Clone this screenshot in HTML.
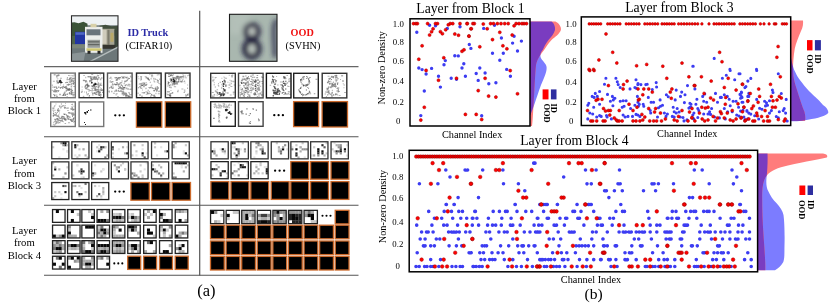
<!DOCTYPE html>
<html><head><meta charset="utf-8"><style>
html,body{margin:0;padding:0;background:#fff;}
svg{display:block;filter:blur(0.3px);}
text{font-family:"Liberation Serif","Times New Roman",serif;}
</style></head><body>
<svg width="830" height="306" viewBox="0 0 830 306">
<defs>
<filter id="bl" x="-5%" y="-5%" width="110%" height="110%"><feGaussianBlur stdDeviation="0.7"/></filter>
<filter id="bl2" x="-20%" y="-20%" width="140%" height="140%"><feGaussianBlur stdDeviation="2.4"/></filter>
</defs>
<rect width="830" height="306" fill="#fff"/>
<line x1="44" y1="66.6" x2="358.5" y2="66.6" stroke="#666" stroke-width="1.15"/>
<line x1="44" y1="136.8" x2="358.5" y2="136.8" stroke="#555" stroke-width="1.1"/>
<line x1="44" y1="205.3" x2="358.5" y2="205.3" stroke="#555" stroke-width="1.1"/>
<line x1="44" y1="275.2" x2="358.5" y2="275.2" stroke="#555" stroke-width="1.1"/>
<line x1="199.7" y1="10.8" x2="199.7" y2="275.5" stroke="#555" stroke-width="1.2"/>
<g transform="translate(71.5,15.8)">
<clipPath id="ct"><rect x="0" y="0" width="46.5" height="45.5"/></clipPath>
<g clip-path="url(#ct)"><g filter="url(#bl)">
<rect x="-3" y="-3" width="53" height="52" fill="#6c7779"/>
<rect x="-3" y="-3" width="53" height="12.5" fill="#eef2f4"/>
<path d="M-3 7 L3 6.5 L7 7.5 L12 6 L16 8 L16 21 L-3 21 Z" fill="#3a5238"/>
<path d="M28 10 L34 9 L40 10.5 L47 10 L47 20 L28 20 Z" fill="#42503e"/>
<rect x="-3" y="20" width="7" height="9" fill="#4e644c"/>
<rect x="3.5" y="16" width="10" height="12.5" fill="#2434a2"/>
<rect x="4" y="16.5" width="9" height="2.5" fill="#5068c4"/>
<rect x="-3" y="28.5" width="18" height="4" fill="#7c8678"/>
<rect x="29" y="13" width="14" height="17" fill="#a6a492"/>
<rect x="30" y="14" width="5" height="14" fill="#cfcbbb"/>
<rect x="36" y="14" width="2" height="15" fill="#7c7a6c"/>
<rect x="39" y="17" width="3" height="9" fill="#b8a868"/>
<rect x="43" y="14" width="4" height="18" fill="#3e4a3c"/>
<rect x="29" y="29" width="15" height="4" fill="#34342e"/>
<rect x="13.5" y="11" width="17.5" height="26" fill="#eceeec"/>
<rect x="15" y="13.5" width="14" height="6" fill="#6a747c"/>
<rect x="16" y="24" width="12.5" height="8" fill="#9a9e9a"/>
<rect x="16.5" y="25.5" width="11.5" height="1.1" fill="#5c605c"/>
<rect x="16.5" y="28.3" width="11.5" height="1.1" fill="#5c605c"/>
<rect x="15" y="32.5" width="15" height="2.5" fill="#d0c870"/>
<rect x="16" y="35" width="3" height="3" fill="#2a2a28"/>
<rect x="26" y="35" width="3" height="3" fill="#2a2a28"/>
<rect x="19" y="8" width="6" height="3.5" fill="#d8d0a8"/>
<path d="M0 46 L0 38 L14 36 L12 46 Z" fill="#8a9496"/>
<path d="M18 46 L 47 31" stroke="#b4bcbc" stroke-width="1.3"/>
</g></g>
<rect x="0" y="0" width="46.5" height="45.5" fill="none" stroke="#2a2a2a" stroke-width="1.1"/>
</g>
<g transform="translate(229.5,14.3)">
<clipPath id="cs"><rect x="0" y="0" width="47.5" height="47"/></clipPath>
<g clip-path="url(#cs)">
<rect x="0" y="0" width="48" height="48" fill="#a9b7af"/>
<g filter="url(#bl2)">
<rect x="0" y="0" width="20" height="20" fill="#b3c0b8"/>
<ellipse cx="22.3" cy="17.2" rx="6.2" ry="6.6" fill="none" stroke="#26243f" stroke-width="5.4"/>
<ellipse cx="22.3" cy="34.5" rx="7" ry="8" fill="none" stroke="#22203c" stroke-width="5.8"/>
<ellipse cx="22.5" cy="17" rx="2.4" ry="3.2" fill="#d2d8d2"/>
<ellipse cx="22.5" cy="35" rx="2.6" ry="4.2" fill="#c4ccc6"/>
<path d="M47 5 L 44.5 12 L 44.5 22 L 45.5 43" stroke="#2c2c4a" stroke-width="3.8" fill="none"/>
</g>
</g>
<rect x="0" y="0" width="47.5" height="47" fill="none" stroke="#1a1a1a" stroke-width="1.1"/>
</g>
<text x="127.4" y="36" font-size="10.4" font-weight="bold" fill="#2b2ba6">ID Truck</text>
<text x="125.5" y="48.8" font-size="10.3" fill="#000">(CIFAR10)</text>
<text x="290.6" y="36.4" font-size="10.2" font-weight="bold" fill="#f01010">OOD</text>
<text x="285.6" y="49" font-size="10.3" fill="#000">(SVHN)</text>
<text x="24.4" y="89.6" font-size="10.7" text-anchor="middle" fill="#000">Layer</text>
<text x="24.4" y="101.9" font-size="10.7" text-anchor="middle" fill="#000">from</text>
<text x="24.4" y="114.2" font-size="10.7" text-anchor="middle" fill="#000">Block 1</text>
<text x="24.4" y="164" font-size="10.7" text-anchor="middle" fill="#000">Layer</text>
<text x="24.4" y="176.5" font-size="10.7" text-anchor="middle" fill="#000">from</text>
<text x="24.4" y="189" font-size="10.7" text-anchor="middle" fill="#000">Block 3</text>
<text x="24.4" y="233.8" font-size="10.7" text-anchor="middle" fill="#000">Layer</text>
<text x="24.4" y="246.3" font-size="10.7" text-anchor="middle" fill="#000">from</text>
<text x="24.4" y="258.8" font-size="10.7" text-anchor="middle" fill="#000">Block 4</text>
<rect x="50" y="72.4" width="26" height="26" fill="#fff"/>
<path d="M69.15 88.64h1.2v1h-1.2zM58.23 75.01h1v0.8h-1zM69.39 92.39h1v1.2h-1zM56.46 75.08h1.2v1.2h-1.2zM65.07 94.7h1v1h-1zM64.41 91.47h0.8v0.8h-0.8zM65.63 86.34h1v0.8h-1zM67.65 89.38h0.8v1h-0.8zM56.67 81.02h1v0.8h-1zM56.15 90.61h0.8v1h-0.8zM53.89 94.88h1.2v0.8h-1.2zM67.46 84.1h1.2v0.8h-1.2zM72.8 77.96h0.8v0.8h-0.8zM64.35 86.91h1v1h-1zM67.68 89.17h1.2v1h-1.2zM72.99 83.08h0.8v1h-0.8zM69.33 84.06h1v1h-1zM63.97 94.6h0.8v1h-0.8zM58.02 74.46h1.2v0.8h-1.2zM66.44 89.87h1v1.2h-1zM68.85 92.18h1.2v1.2h-1.2zM69.97 78.35h1.2v0.8h-1.2zM55.38 86.75h1v0.8h-1zM69.6 79.23h0.8v1.2h-0.8zM73.64 78.13h1.2v0.8h-1.2zM62.88 93.69h1v1h-1zM69.34 89.69h1v0.8h-1zM66.63 93.42h1v0.8h-1zM70.45 90.98h1.2v1h-1.2zM71.29 80.97h1v1h-1zM54.5 90.7h0.8v1h-0.8zM58.12 82.1h1.2v0.8h-1.2zM70.72 83.31h1.2v1.2h-1.2zM64.07 93.01h0.8v1h-0.8zM54.66 90.35h1.2v0.8h-1.2zM70.06 81.58h1.2v1h-1.2zM69.61 81.71h1.2v1h-1.2zM72.74 93.68h0.8v1.2h-0.8zM64.82 94.99h1v1h-1zM73.67 82.57h1.2v1h-1.2zM62.19 86.2h1.2v1h-1.2zM59.87 87.7h1.2v1h-1.2zM73.41 80.49h0.8v0.8h-0.8zM58.85 81.9h1v0.8h-1zM70.73 83.17h1.2v1h-1.2zM71.18 88.46h1v1h-1zM58.72 74.75h0.8v1.2h-0.8zM55.4 90.24h1v0.8h-1zM53.75 90.98h0.8v1.2h-0.8zM68.91 88.32h1v1h-1zM72.42 80.26h1.2v0.8h-1.2zM64.41 94.2h1.2v0.8h-1.2zM66.98 88.98h0.8v0.8h-0.8zM67.43 88.84h1v1h-1zM68.31 89.09h1.2v0.8h-1.2zM56 87.34h1v1.2h-1zM65.09 87.33h1v1.2h-1zM65.29 82.06h1v1.2h-1zM56.49 75.09h0.8v1.2h-0.8zM62.73 86.24h0.8v1h-0.8zM62.43 86.59h0.8v0.8h-0.8zM55.93 90.65h1.2v1h-1.2zM56.58 74.71h0.8v1.2h-0.8zM67.79 89.36h1.2v1h-1.2zM71.03 89.53h1.2v1h-1.2zM70.48 81.39h0.8v1.2h-0.8zM66.15 90.37h0.8v0.8h-0.8zM66.73 93.56h1.2v1.2h-1.2zM67 93.41h1v1h-1zM65.71 87h0.8v1h-0.8zM68.3 84.16h1.2v1.2h-1.2zM66.71 89.67h0.8v0.8h-0.8zM52.92 90.49h0.8v1h-0.8zM63 86.04h0.8v0.8h-0.8zM69.75 78.29h1v1h-1zM70.45 89.05h1.2v1h-1.2zM61.19 86.75h1.2v1h-1.2zM64.13 92.89h0.8v1.2h-0.8zM54.26 95.39h1v1h-1zM71.25 79.21h1v1.2h-1zM59.8 86.99h1.2v1h-1.2zM56.64 74.8h0.8v0.8h-0.8zM55.18 90.7h1v1.2h-1zM65.64 90.43h1v1.2h-1zM67.63 89.2h1v0.8h-1zM72.89 82.5h1v1h-1zM68.94 91.9h1v1h-1zM73.67 82.5h0.8v1h-0.8zM70.99 93.87h0.8v0.8h-0.8zM66.34 81.78h1.2v1h-1.2zM54.11 87.3h0.8v0.8h-0.8zM70.84 89.8h0.8v1.2h-0.8zM63.8 94.48h1.2v1h-1.2zM62.19 88.18h0.8v0.8h-0.8zM62.8 94.73h1v1.2h-1zM69.38 79.05h1v1h-1zM65.13 93.91h1v0.8h-1zM66.97 88.74h1v0.8h-1zM57.62 74.47h1v1h-1zM58.43 86.53h0.8v1h-0.8zM57.95 75.23h0.8v1h-0.8zM58 81.94h1.2v0.8h-1.2zM72.83 80.88h1.2v1.2h-1.2zM67.91 89.47h1v1.2h-1zM56.86 81.59h1v1.2h-1zM73.42 80.31h1.2v1h-1.2zM69.12 92.29h0.8v1.2h-0.8zM71.22 91.97h1v1.2h-1zM66.82 88.72h0.8v1h-0.8zM55.5 90.8h1.2v1.2h-1.2zM54.65 91.26h1.2v1.2h-1.2zM66.91 89.81h0.8v0.8h-0.8zM56.29 75.7h1.2v1h-1.2zM54.16 91.13h1.2v1.2h-1.2zM68.45 89.86h1.2v1.2h-1.2zM69.02 77.98h0.8v1h-0.8zM56.08 90.55h1.2v1h-1.2zM57.26 75.17h1.2v1.2h-1.2zM66.91 82.12h1v1h-1zM58.3 74.35h1v1h-1zM68.33 79.1h1.2v0.8h-1.2zM71.69 78.45h1v1.2h-1zM71.41 81.37h1v1h-1zM64.64 92.45h1v1h-1zM56.2 80.62h1.2v1.2h-1.2zM63.46 86.36h1v1.2h-1zM68.42 89.52h1v1.2h-1zM62.02 86.89h1.2v0.8h-1.2zM65.82 87.94h1.2v1h-1.2zM73.79 77.82h0.8v0.8h-0.8zM67.29 81.91h0.8v0.8h-0.8zM66.52 88.83h1v0.8h-1zM70.88 93.55h1.2v1h-1.2zM73.61 94.34h1.2v0.8h-1.2zM71.79 89.95h1.2v1h-1.2zM56.86 90.29h1.2v0.8h-1.2zM54.11 95.17h0.8v1.2h-0.8zM72.61 81.37h0.8v1h-0.8zM53.89 86.56h1v1h-1zM64.48 91.71h0.8v0.8h-0.8zM66.66 93.83h0.8v1h-0.8zM70.54 79.65h0.8v1.2h-0.8zM65.83 90.26h0.8v1h-0.8zM70.94 83.19h1.2v0.8h-1.2zM69.1 88.92h0.8v0.8h-0.8zM72.17 77.82h1.2v0.8h-1.2zM56.67 90.68h0.8v0.8h-0.8zM60.2 87.16h1v0.8h-1zM73.04 83.63h1.2v1.2h-1.2zM65.48 88.37h0.8v1h-0.8zM56.4 94.51h0.8v1.2h-0.8zM73.27 78.74h1.2v0.8h-1.2zM53.58 90.57h0.8v1h-0.8zM57.84 90.75h1v1.2h-1zM66.65 81.7h0.8v1.2h-0.8zM63.67 92.53h1.2v1.2h-1.2zM54.25 90.7h1.2v1.2h-1.2zM54.69 94.68h0.8v0.8h-0.8zM72.56 77.66h1.2v1h-1.2zM59.24 81.98h0.8v0.8h-0.8zM71.05 92.86h0.8v0.8h-0.8zM54.4 86.63h1v0.8h-1zM68.86 81.59h0.8v1h-0.8zM64.94 94.53h1v1h-1zM66.84 88.57h0.8v1.2h-0.8zM71.84 92.75h0.8v1h-0.8zM63 93.8h1v1.2h-1zM60.39 82.53h1.2v1.2h-1.2zM70.49 80.93h1.2v1h-1.2zM53.41 90.8h1v1.2h-1zM67.39 84.08h0.8v1h-0.8zM53.57 91.56h0.8v0.8h-0.8zM66.52 94.06h1.2v1h-1.2zM71.3 83.19h1.2v0.8h-1.2zM71.58 92.26h0.8v1.2h-0.8zM71.72 94.01h0.8v1.2h-0.8zM69.9 81.41h1v1.2h-1zM56.37 87.76h1.2v1.2h-1.2zM73.41 82.61h0.8v1h-0.8zM53.27 91.23h0.8v1h-0.8zM73.6 82.03h1.2v0.8h-1.2zM68.5 88.35h0.8v1.2h-0.8zM70.29 88.51h1v1.2h-1zM71.67 79.9h0.8v1h-0.8zM70.73 80.12h1.2v0.8h-1.2zM52.48 86.51h1v1.2h-1zM72.69 94.39h0.8v1.2h-0.8zM70.93 91.07h1v1h-1zM70.71 92.08h1v1h-1zM71.88 80.28h1v0.8h-1zM56.09 75.59h1v1.2h-1zM71.08 92.64h1.2v1h-1.2zM63.65 86.81h1.2v1h-1.2zM56.25 90.08h0.8v1.2h-0.8zM55.63 86.37h1v1h-1zM70.67 78.21h0.8v1h-0.8zM61.42 86.92h0.8v1h-0.8zM68.34 83.6h1v1.2h-1zM57.33 81.64h1v1.2h-1zM68.1 88.9h1.2v1h-1.2zM67.45 89.07h0.8v0.8h-0.8z" fill="#000" fill-opacity="0.42"/>
<path d="M73.22 86.03h2v1h-2zM72.64 92.18h2v1h-2zM55.95 96.1h2v1h-2zM68.89 88.35h1v1.5h-1zM56.44 76.77h1v1.5h-1zM72.34 75.61h1.5v1h-1.5zM70.61 84.56h2v1h-2zM68.72 80.41h1v1h-1zM52.89 80.67h2v1h-2zM68.74 92.88h2v1.5h-2zM70.77 76.98h1v1h-1zM51.76 84.55h1v1.5h-1zM67.58 84.64h1.5v1h-1.5zM62.56 87.66h1v1h-1zM57.37 78.21h1v1h-1zM66.76 77.54h1v1h-1zM66.21 84.47h1.5v1h-1.5zM58.23 81.18h1.5v1h-1.5zM69.61 75.36h1v1h-1zM60.04 84.43h1v1h-1zM66.5 78.64h1.5v1.5h-1.5zM70.67 93.5h1v1h-1zM71.21 75.22h2v1h-2zM65.08 86.06h1.5v1h-1.5zM56.67 82.34h2v1.5h-2zM54.09 89.26h2v1h-2zM53.67 73.97h2v1.5h-2zM70.67 86.12h1.5v1.5h-1.5zM54.29 94.45h1v1h-1zM63.05 84.4h1v1h-1zM69.55 76.95h1.5v1.5h-1.5zM61.83 95h1v1h-1zM57.87 86.74h1.5v1h-1.5zM68.01 74.99h1.5v1h-1.5zM51.51 89.85h1.5v1h-1.5zM73.7 74.18h1v1.5h-1zM58.01 82.97h1v1h-1zM67.84 88.7h2v1.5h-2zM59.93 77.73h2v1h-2zM63.24 94.16h1v1.5h-1zM71.5 91.46h1.5v1h-1.5zM66.64 95.91h1v1h-1zM72.6 95.45h1.5v1h-1.5zM53.03 93.94h1.5v1h-1.5zM66.32 87.02h1v1.5h-1zM56.76 79.67h1v1h-1zM66.97 88.21h1.5v1h-1.5zM72.52 83.06h1v1h-1zM56.43 91.64h1v1h-1zM67.07 76.95h1v1.5h-1zM66.39 87.26h1v1.5h-1zM57.91 89.93h1.5v1h-1.5zM59.03 93.75h2v1.5h-2zM64.39 87.07h1v1h-1zM54.42 89.77h1v1h-1z" fill="#000" fill-opacity="0.3"/>
<path d="M59.05 81.22h1v1.3h-1zM60.31 81.87h1v1.3h-1zM58.79 80.26h1.3v1h-1.3zM59.99 81.44h1.3v1.3h-1.3zM59.06 80.85h1v1h-1zM60.22 80.65h1.3v1h-1.3zM59.76 79.72h1.3v1h-1.3zM61.23 82h1.3v1h-1.3zM60.27 81.36h1v1h-1zM61.04 82.09h1.3v1h-1.3zM60.67 81.17h1v1h-1zM58.99 80.37h1.3v1h-1.3z" fill="#000" fill-opacity="0.85"/>
<rect x="50.7" y="73.1" width="24.6" height="24.6" fill="none" stroke="#777" stroke-width="1.4"/>
<rect x="78.4" y="72.4" width="26" height="26" fill="#fff"/>
<path d="M86.14 87.5h1v1h-1zM92.6 90.29h1v0.8h-1zM96.33 84.03h1.2v0.8h-1.2zM85.59 81.38h1v0.8h-1zM100.15 93.83h1v1h-1zM99.01 94.2h0.8v1h-0.8zM91.82 79.06h1.2v0.8h-1.2zM98.39 89.29h1v0.8h-1zM87.5 88.77h1v1h-1zM99.67 83.72h0.8v0.8h-0.8zM97.93 86.94h1.2v1.2h-1.2zM88.67 76.17h0.8v1h-0.8zM97.88 75.26h1.2v1h-1.2zM90.51 77.06h1.2v1.2h-1.2zM93.93 88.05h0.8v0.8h-0.8zM95.73 76.71h1.2v1h-1.2zM91.11 78.04h1.2v0.8h-1.2zM88.34 85.25h1v1.2h-1zM94.61 76.3h1v0.8h-1zM95.92 76.72h0.8v1.2h-0.8zM98.61 85.81h1v1h-1zM94.8 88.14h0.8v1h-0.8zM91.38 80.06h0.8v1h-0.8zM94.38 77.07h0.8v1h-0.8zM87.03 84.26h0.8v1.2h-0.8zM94.45 76.88h1.2v1h-1.2zM93.62 77.59h1v0.8h-1zM88.08 86.09h0.8v0.8h-0.8zM90.85 78.3h1.2v1h-1.2zM85.73 80.85h1v0.8h-1zM91.94 93.54h1v0.8h-1zM88.81 76.24h1v1.2h-1zM94.96 76.94h1v1.2h-1zM87.66 93.26h1.2v1.2h-1.2zM99.41 91.83h1v1h-1zM98.62 86.8h0.8v0.8h-0.8zM91.01 79.51h0.8v1.2h-0.8zM98.68 93.36h1.2v0.8h-1.2zM93.52 77.79h1v0.8h-1zM94.73 89.4h1.2v1.2h-1.2zM95.5 88.66h1.2v1h-1.2zM97.78 94.09h1v1.2h-1zM96.81 90.88h0.8v1.2h-0.8zM83.38 80.36h0.8v0.8h-0.8zM84.7 80.4h1v0.8h-1zM95.56 89.15h0.8v0.8h-0.8zM100.09 91.53h0.8v1.2h-0.8zM99.73 89.31h1.2v1.2h-1.2zM91.19 77.97h1.2v1h-1.2zM87.31 83.18h0.8v1h-0.8zM99.24 92.66h0.8v0.8h-0.8zM86.07 85.31h0.8v0.8h-0.8zM91.05 79.79h1.2v1.2h-1.2zM99.93 95.45h1v1.2h-1zM96.08 90.53h1.2v0.8h-1.2zM100.06 89.43h1v0.8h-1zM96.45 92.47h0.8v0.8h-0.8zM94.16 93.05h0.8v1h-0.8zM99.19 94.63h1v0.8h-1zM93.05 76.57h1.2v1h-1.2zM89.07 85.5h1v1h-1zM95.29 83.76h1v0.8h-1zM84.18 79.99h1.2v1h-1.2zM97.21 90.86h1v0.8h-1zM89.99 76.22h1.2v1.2h-1.2zM98.73 92.95h1.2v1h-1.2zM100.57 90.11h0.8v0.8h-0.8zM96.09 91.96h1v1h-1zM97.52 75.47h1v1h-1zM92.89 77.93h1.2v1h-1.2zM82.86 79.74h1v1.2h-1zM98.43 94.99h1.2v1h-1.2zM99.38 94.15h1v0.8h-1zM84.63 86.08h1.2v0.8h-1.2zM95.57 83.99h1v0.8h-1zM95.46 84.2h0.8v0.8h-0.8zM88.71 95.68h1v1h-1zM94.66 89.74h1.2v1h-1.2zM93.23 77.2h1v0.8h-1zM85.49 80.68h0.8v1.2h-0.8zM100.74 89.83h1.2v1.2h-1.2zM90.21 79.73h0.8v1.2h-0.8zM94.08 78.41h1.2v1.2h-1.2zM86.36 88.61h1.2v0.8h-1.2zM93.98 76.42h1v1.2h-1zM100.51 95.25h1v1h-1zM89.43 81.19h1.2v0.8h-1.2zM100.33 89.18h0.8v1h-0.8zM94.05 77.23h1.2v1.2h-1.2zM87.09 85.47h0.8v1h-0.8zM87.07 86.59h1.2v1.2h-1.2zM101.76 89.61h1.2v1.2h-1.2zM86.22 87.46h0.8v0.8h-0.8zM97.27 89.09h1.2v0.8h-1.2zM90.65 78.28h1.2v1.2h-1.2zM91.95 89.33h0.8v1.2h-0.8zM98.6 77.06h0.8v1h-0.8zM94.7 76.99h1.2v1h-1.2zM96.51 89.24h1.2v1.2h-1.2zM98.3 85.68h1v0.8h-1zM81.68 91.22h1.2v1h-1.2zM97.88 90.67h0.8v1.2h-0.8zM91.8 85.44h1v1.2h-1zM91.42 85.23h1.2v0.8h-1.2zM94.79 93.67h0.8v1.2h-0.8zM95.97 92.6h1v1h-1zM85.73 87.87h1v1h-1zM96.67 90.77h0.8v0.8h-0.8zM86.3 84.17h1.2v0.8h-1.2zM92.28 94.49h1.2v1h-1.2zM88.89 85.4h0.8v1h-0.8zM96.22 94.25h1v0.8h-1zM89.64 80.62h1.2v1h-1.2zM90.45 79.91h1v1h-1zM93.14 85.67h1.2v0.8h-1.2zM94.59 87.05h1.2v0.8h-1.2zM83.82 79.81h1v1.2h-1zM97.49 83.81h1v1.2h-1zM95.7 94.07h1.2v1h-1.2zM96.06 88.7h0.8v0.8h-0.8zM96.6 89h0.8v1h-0.8zM93.04 85.09h1.2v0.8h-1.2zM100.57 89.51h0.8v0.8h-0.8zM91.32 89.75h0.8v1h-0.8zM97.9 77.47h1.2v0.8h-1.2zM94.6 76.61h0.8v1.2h-0.8zM85.46 80.57h1v0.8h-1zM96.71 89.45h0.8v1h-0.8zM99.28 91.56h1v0.8h-1zM99.8 84.36h1v1h-1zM92.3 85.55h0.8v0.8h-0.8zM97.02 90.74h0.8v1h-0.8zM85.95 80.24h1v1h-1zM96.15 77.93h1v1.2h-1zM96.18 91.89h1v1.2h-1zM93.9 92.28h1v0.8h-1zM96.29 77.87h1v1h-1zM94.15 78.3h0.8v1h-0.8zM95.69 92.12h1v0.8h-1zM94.96 77.71h1.2v1h-1.2zM89.96 90.06h1.2v0.8h-1.2zM93.99 77.43h1.2v1h-1.2zM97.09 78.53h1v1.2h-1zM89.3 80.49h1v0.8h-1zM93.06 76.85h0.8v1.2h-0.8zM98.54 91.97h0.8v1h-0.8zM94.62 77.98h1.2v0.8h-1.2zM97.97 83.84h0.8v1h-0.8zM94.7 87.49h1v0.8h-1zM96.45 92.24h1.2v1h-1.2zM86.74 84.09h0.8v1.2h-0.8zM92.31 76.98h1v0.8h-1zM89.18 80.07h1v0.8h-1zM89.7 75.88h1.2v1.2h-1.2zM101.23 88.14h0.8v1.2h-0.8zM94.14 89.45h1v1h-1zM94.93 88.24h1v1.2h-1zM102.21 91.86h1.2v0.8h-1.2zM84.95 85.53h1v0.8h-1zM95.62 84.03h0.8v1h-0.8zM97.8 88.01h0.8v0.8h-0.8zM93.38 78.69h1v0.8h-1zM98.33 93.12h1v0.8h-1zM84.05 80.21h0.8v0.8h-0.8zM90.97 79.63h0.8v0.8h-0.8zM94.52 89.69h0.8v1.2h-0.8zM92.26 85.51h1v1h-1zM95.55 83.23h1v1.2h-1zM84.9 87.85h1v1h-1zM86.67 86.75h1.2v1.2h-1.2zM85.36 81.08h0.8v1.2h-0.8zM95.35 79.21h1v0.8h-1zM83.57 79.91h0.8v0.8h-0.8zM95.83 91.74h1v0.8h-1zM95.52 79.3h1v0.8h-1zM99.78 92.09h1.2v0.8h-1.2zM85.27 80.17h1v1.2h-1zM85.34 88.44h1.2v0.8h-1.2zM89.05 96.03h0.8v0.8h-0.8zM95.7 88.9h1v1h-1zM91.53 76.43h1.2v0.8h-1.2zM97.84 92.47h1.2v1h-1.2zM95.07 86.19h1v1h-1zM87.46 85.76h1.2v1h-1.2zM88.92 95.5h1v1h-1zM94.62 92.65h1.2v1h-1.2zM80.92 91.53h1.2v1.2h-1.2zM100.9 90.2h0.8v0.8h-0.8zM93.75 85.37h0.8v0.8h-0.8zM95.86 78.21h0.8v1.2h-0.8zM96.67 86.53h0.8v1.2h-0.8zM88.85 95.09h1.2v1h-1.2zM84.74 80.23h1v1.2h-1zM83.18 79.82h1.2v0.8h-1.2zM94.07 85.99h1v0.8h-1zM102.17 92.26h1.2v0.8h-1.2zM88.25 76.13h1v1.2h-1zM91.68 78.97h1v1h-1zM98.2 92.21h1.2v0.8h-1.2zM92.97 78.67h1.2v1h-1.2zM91.27 78.9h1.2v0.8h-1.2zM95.56 92.35h1.2v0.8h-1.2zM98.43 94.47h1v0.8h-1zM96.63 84.04h1v0.8h-1zM95.37 83.75h1v0.8h-1zM99.04 92.02h0.8v0.8h-0.8zM94.47 78.75h1.2v1.2h-1.2zM96.5 83.63h1v1.2h-1zM96.2 85.99h0.8v1h-0.8zM89.09 81.14h1v1.2h-1zM99.45 84.88h0.8v1.2h-0.8zM88.02 89h1v0.8h-1zM95.6 82.9h0.8v0.8h-0.8zM91.42 76.39h1v0.8h-1zM95.22 90.16h1v1h-1zM90.9 77.37h0.8v0.8h-0.8zM85.01 81.42h1v1h-1zM87.69 85.11h1v1h-1zM87.06 86.41h1.2v0.8h-1.2zM90.97 79.35h0.8v0.8h-0.8zM90.81 76.47h1.2v0.8h-1.2zM94.13 86.58h1.2v0.8h-1.2zM92.6 93.53h0.8v0.8h-0.8zM98.04 91.14h1.2v0.8h-1.2zM85.5 84.7h1.2v0.8h-1.2zM94.54 92.96h1v1h-1zM98.71 94.87h1.2v0.8h-1.2zM99.57 92.75h0.8v0.8h-0.8z" fill="#000" fill-opacity="0.42"/>
<path d="M94.53 88.67h1v1.5h-1zM83.23 95.75h1v1h-1zM95.36 83.82h1.5v1.5h-1.5zM99.2 95.08h1v1h-1zM85.99 91.52h1v1.5h-1zM83.3 74.98h1.5v1h-1.5zM87.06 76.35h2v1h-2zM85.26 76.68h1v1.5h-1zM86.85 83.9h1v1.5h-1zM99.76 78.24h1v1h-1zM81.62 89.44h1v1h-1zM90.17 77.85h1v1.5h-1zM84.82 84.8h1v1h-1zM91.52 91.37h1v1.5h-1zM91.29 87.95h1.5v1h-1.5zM98.69 91.45h1v1h-1zM100.62 93.93h1v1h-1zM86.58 81.4h1v1h-1zM96.94 80.38h1v1h-1zM84.12 91.38h1v1h-1zM98.39 77.44h1v1h-1zM100.25 84.49h2v1.5h-2zM98.31 85.18h1v1.5h-1zM92.37 92.41h1.5v1.5h-1.5zM99.84 78.78h1.5v1.5h-1.5zM91.44 85.82h2v1.5h-2zM97.51 85.04h1v1.5h-1zM96.89 74.78h1v1h-1zM91.41 78.63h1v1h-1zM92.72 87.16h1.5v1.5h-1.5zM98.24 83.48h1.5v1h-1.5zM101.03 77.21h1.5v1.5h-1.5zM87.89 90.46h2v1h-2zM100.13 82.7h1.5v1h-1.5zM89.04 89.33h1v1.5h-1zM99.75 74.21h1v1h-1zM97.96 90.05h1.5v1h-1.5zM87.2 84.19h1.5v1.5h-1.5zM97.6 82.26h1.5v1.5h-1.5zM94.06 92.58h1.5v1h-1.5zM81.62 86.4h1v1h-1zM82.79 96.16h1.5v1h-1.5zM94 76.48h1v1h-1zM99.92 87.57h1v1h-1zM101.62 89.37h1v1.5h-1zM86.15 93.25h1v1h-1zM85.78 83.8h2v1h-2zM96.24 76.34h1v1h-1zM91.21 73.98h2v1h-2zM96.85 78.71h2v1h-2zM84.3 86.68h2v1h-2zM86.78 94.04h1v1.5h-1zM97.43 91.28h2v1h-2zM86.78 85.46h2v1h-2zM95.67 83.34h1v1.5h-1z" fill="#000" fill-opacity="0.3"/>
<path d="M94.78 84.03h1.3v1h-1.3zM91.49 82.26h1.3v1h-1.3zM90.92 82.56h1.3v1h-1.3zM93.5 84.98h1v1.3h-1zM91.15 81.39h1v1.3h-1zM94.46 82.79h1.3v1h-1.3zM94.91 83.68h1v1h-1zM94.45 83.76h1.3v1h-1.3zM93.41 84.24h1.3v1h-1.3zM94.67 83.9h1v1.3h-1zM94.67 83.25h1.3v1.3h-1.3zM93.3 83.64h1.3v1h-1.3z" fill="#000" fill-opacity="0.85"/>
<rect x="79.1" y="73.1" width="24.6" height="24.6" fill="none" stroke="#333" stroke-width="1.4"/>
<rect x="106.8" y="72.4" width="26" height="26" fill="#fff"/>
<path d="M121.62 93.61h1v1h-1zM121.05 82.15h1.2v1h-1.2zM115.68 89.59h1v1h-1zM122.4 87.41h1v0.8h-1zM122.02 85.83h1.2v1h-1.2zM117.69 90.65h1.2v1h-1.2zM128.31 95.32h0.8v1.2h-0.8zM127.98 95.85h0.8v1h-0.8zM118.22 86.26h0.8v0.8h-0.8zM116.87 78.77h0.8v1.2h-0.8zM116.83 79.34h1.2v1.2h-1.2zM126.77 79.54h1.2v1h-1.2zM126.01 94.63h0.8v1.2h-0.8zM122.75 93.19h0.8v1.2h-0.8zM117.93 83.87h0.8v1.2h-0.8zM112.19 81.15h1.2v1.2h-1.2zM125.73 77.6h0.8v1h-0.8zM116.35 78.94h1v1.2h-1zM118.81 77.44h1v0.8h-1zM115.45 77.25h0.8v1.2h-0.8zM123.31 92.65h1.2v0.8h-1.2zM125.34 92.27h1v1.2h-1zM125.6 77.03h1v1h-1zM118.92 83.83h1v0.8h-1zM124.64 93.19h1v0.8h-1zM128.32 77.84h0.8v0.8h-0.8zM122.62 93.13h1.2v1.2h-1.2zM122.4 88.39h1.2v1h-1.2zM117.92 88.14h1.2v1h-1.2zM118.07 88.16h0.8v0.8h-0.8zM124.38 93.41h1v1h-1zM123.27 77.71h1.2v1h-1.2zM108.76 91.66h1.2v0.8h-1.2zM123.43 87.04h1v1.2h-1zM121.93 90.99h1v0.8h-1zM119.52 87.98h0.8v1h-0.8zM117.94 90.05h1v0.8h-1zM127.51 77.76h0.8v0.8h-0.8zM122.65 92.75h1v1.2h-1zM119.38 82.8h1.2v1h-1.2zM120.78 87.29h1v0.8h-1zM118.39 84.28h1v1.2h-1zM127.76 95.53h1.2v1h-1.2zM121.35 85.11h1.2v1h-1.2zM115.87 79.51h1v0.8h-1zM130.58 77.21h0.8v0.8h-0.8zM123 76.86h0.8v0.8h-0.8zM125.6 93.72h1v1h-1zM127.58 95.66h1v0.8h-1zM112.21 83.33h0.8v1.2h-0.8zM127.62 77.75h1v1.2h-1zM117.32 83.37h1.2v1.2h-1.2zM121.13 84.71h1v1h-1zM116.54 79.65h1v1.2h-1zM124.95 94.85h0.8v0.8h-0.8zM127.68 95.85h1.2v1.2h-1.2zM125.74 94.9h1.2v1.2h-1.2zM123.89 76.39h1v0.8h-1zM115.8 83.86h1.2v0.8h-1.2zM110.81 81.16h1v0.8h-1zM110.74 86.02h1.2v1.2h-1.2zM118.23 77.56h1.2v0.8h-1.2zM120.01 77.06h0.8v1h-0.8zM126.01 93.79h0.8v1h-0.8zM119.34 91h1.2v0.8h-1.2zM126.05 94.35h0.8v0.8h-0.8zM123.99 93.75h1v0.8h-1zM118.65 84.01h1v0.8h-1zM108.41 91.03h1v0.8h-1zM130.04 96.14h0.8v1.2h-0.8zM113.7 83.47h1.2v1.2h-1.2zM119.87 82.24h1.2v1.2h-1.2zM124.59 93h0.8v1h-0.8zM111.64 87.81h1.2v1.2h-1.2zM108.71 90.62h1v1.2h-1zM112.8 87.6h1.2v0.8h-1.2zM122.35 76.23h1.2v1h-1.2zM127.77 78.87h0.8v1h-0.8zM115.43 77.51h0.8v0.8h-0.8zM121.66 77.6h1.2v1h-1.2zM122.54 91.1h1.2v0.8h-1.2zM125.99 93.96h1v1.2h-1zM127.53 78.63h1v0.8h-1zM125.06 94.46h1.2v1.2h-1.2zM115.87 80.06h1v1h-1zM116.1 79.14h1v1.2h-1zM111.21 86.86h1v1.2h-1zM112.16 81.36h1.2v0.8h-1.2zM124.6 81.16h1.2v0.8h-1.2zM123.96 76.39h1.2v0.8h-1.2zM118.02 77.25h0.8v1.2h-0.8zM120.38 84.59h1.2v1h-1.2zM117.24 78.61h1.2v1.2h-1.2zM119.5 86.01h1.2v1h-1.2zM122.69 89.57h1v1h-1zM116.28 90.31h0.8v1.2h-0.8zM118.21 87.8h1.2v0.8h-1.2zM120.27 90.71h1v1h-1zM124.16 81.3h1.2v1.2h-1.2zM125.9 77.09h1v1.2h-1zM128.59 96.24h1.2v0.8h-1.2zM125.38 94.15h1.2v1.2h-1.2zM119.4 86.53h1v0.8h-1zM118.85 77.1h1.2v1.2h-1.2zM119.2 90.69h1v1.2h-1zM116.15 77.56h1v0.8h-1zM109 87.51h1.2v1h-1.2zM115.69 89.23h0.8v1.2h-0.8zM119.11 86.77h1v1.2h-1zM120.9 88.43h1.2v0.8h-1.2zM126.85 95.44h0.8v1h-0.8zM127.01 95.21h1v1.2h-1zM123.36 91.64h1.2v0.8h-1.2zM117.83 83.85h0.8v1.2h-0.8zM124.64 85.09h1.2v1h-1.2zM111.12 81.83h1.2v1h-1.2zM124.45 80.51h1v0.8h-1zM118.13 77.21h1v1.2h-1zM128.83 78.11h1.2v0.8h-1.2zM117.73 89.9h1.2v1h-1.2zM121.81 88.27h1.2v1.2h-1.2zM126.56 94.37h0.8v1.2h-0.8zM125.94 80.61h0.8v1.2h-0.8zM122.89 87.11h1v1.2h-1zM112.8 84.21h0.8v1.2h-0.8zM121.51 88.12h1v1h-1zM123.9 93.94h0.8v1h-0.8zM123.05 92.49h0.8v1.2h-0.8zM121.08 90.98h0.8v1h-0.8zM117.73 85.21h0.8v0.8h-0.8zM126.8 79.8h0.8v1h-0.8zM116.01 77.01h1v1h-1zM124.56 93.2h1.2v1.2h-1.2zM120.48 87.46h1v0.8h-1zM110.53 85.82h0.8v0.8h-0.8zM116.68 83.67h0.8v0.8h-0.8zM119.73 87.45h0.8v1.2h-0.8zM123.56 76.71h0.8v1h-0.8zM121.68 88.6h1v1.2h-1zM118.84 77.04h1.2v0.8h-1.2zM122.24 86.64h0.8v1h-0.8zM115.65 79.85h1.2v1.2h-1.2zM115.51 84.08h1.2v1.2h-1.2zM119.57 86.77h1v0.8h-1zM114.44 83.73h1v1.2h-1zM123.87 93.37h0.8v0.8h-0.8zM119.69 86.99h1.2v1h-1.2zM117.8 77.37h1.2v0.8h-1.2zM125.98 92.95h1v1h-1zM119.46 77.6h0.8v1.2h-0.8zM122.82 88.95h0.8v1h-0.8zM128.25 96.22h1v0.8h-1zM116.54 79.55h0.8v0.8h-0.8zM119.1 77.18h0.8v1h-0.8zM116.91 77.73h1v1.2h-1zM126.17 94.6h1.2v1.2h-1.2zM127.28 95.41h0.8v1h-0.8zM125.46 93.25h1.2v1h-1.2zM121.44 88.04h0.8v0.8h-0.8zM121.65 92.32h1v1.2h-1zM120.91 84.18h0.8v1h-0.8zM126.97 94.74h1v0.8h-1zM122.16 77.32h1v0.8h-1zM112.18 80.91h1.2v1.2h-1.2zM123.87 87.01h1.2v1h-1.2zM122.48 91.67h1v0.8h-1zM127.14 79.71h0.8v1h-0.8zM125.37 80.63h1.2v1.2h-1.2zM110.39 81.4h1v1h-1zM126.47 79.99h1v1.2h-1zM116.2 79.24h0.8v1h-0.8zM125.87 80.28h1v0.8h-1zM111.43 87.48h1v1h-1zM123.74 93.66h1.2v1.2h-1.2zM109.57 87.06h0.8v0.8h-0.8zM115.85 78.81h0.8v1h-0.8zM127.08 94.73h0.8v1h-0.8zM125.11 76.77h1.2v1h-1.2zM120.9 75.93h0.8v0.8h-0.8zM128.06 95.93h1v1.2h-1zM110.62 87.04h0.8v1h-0.8zM123.73 92.6h1v0.8h-1z" fill="#000" fill-opacity="0.42"/>
<path d="M127.95 92.21h2v1h-2zM109.75 80.26h1v1h-1zM112.5 86.18h1v1h-1zM122.59 94.48h1.5v1h-1.5zM127.39 84.52h1.5v1h-1.5zM128.41 84.09h2v1h-2zM123.54 87.06h1v1.5h-1zM126.27 87.34h1v1h-1zM123.33 94.92h1v1h-1zM114.52 90.15h2v1.5h-2zM116.99 96.13h2v1h-2zM111.32 78.4h1v1h-1zM129.52 88.89h1.5v1h-1.5zM116.2 83.45h1.5v1h-1.5zM111 90.67h1.5v1.5h-1.5zM126.04 88.07h1v1h-1zM128.34 95.57h1v1.5h-1zM127.75 83.73h2v1.5h-2zM125.48 95.66h1.5v1.5h-1.5zM117.68 77.26h1v1.5h-1zM115.28 84.09h1v1.5h-1zM127.15 85.29h1v1h-1zM121.54 80.29h1v1.5h-1zM130.22 75.41h1v1h-1zM129.12 96.09h1v1h-1zM123.5 83.21h1.5v1h-1.5zM128.55 85.47h2v1h-2zM112.94 92.66h2v1h-2zM130.25 88.62h1.5v1.5h-1.5zM115.71 93.16h2v1h-2zM127.25 88.31h2v1.5h-2zM126.68 76.4h1v1.5h-1zM129.89 76.09h1.5v1h-1.5zM130.54 80.43h1v1.5h-1zM109.06 77.68h2v1h-2zM125.38 88.21h2v1h-2zM115.57 94.01h1v1.5h-1zM119.61 77.15h1v1h-1zM128.99 92.94h1v1.5h-1zM109.45 81.4h1v1h-1zM122.58 77.37h1v1h-1zM125.07 95.58h2v1.5h-2zM129.99 93.96h2v1h-2zM129.19 94.39h1.5v1h-1.5zM119.13 78.72h1v1h-1zM125.4 83.95h1.5v1.5h-1.5zM116.01 82.07h2v1h-2zM120.56 87.14h1v1.5h-1zM124.65 86.59h1v1.5h-1zM114.2 90.97h1v1h-1zM120.09 89.8h2v1h-2zM122.95 88.53h2v1h-2zM110.07 76.75h1.5v1.5h-1.5zM114.14 77.3h2v1h-2zM111.73 84.15h1v1.5h-1z" fill="#000" fill-opacity="0.3"/>
<rect x="107.5" y="73.1" width="24.6" height="24.6" fill="none" stroke="#555" stroke-width="1.4"/>
<rect x="135.8" y="72.4" width="26" height="26" fill="#fff"/>
<path d="M145.66 91.34h0.8v1.2h-0.8zM148.75 79.85h1.2v1h-1.2zM141.53 82.68h1v1.2h-1zM143.74 92.44h1.2v1h-1.2zM156.11 88.86h1.2v1.2h-1.2zM143.44 83.4h1.2v1.2h-1.2zM140.59 84.93h1.2v1.2h-1.2zM140.77 78.24h1v1.2h-1zM142.02 84.38h1.2v1.2h-1.2zM156.91 88.82h0.8v1.2h-0.8zM146.2 77.61h1.2v0.8h-1.2zM143.56 92.7h1v0.8h-1zM156.73 90.59h0.8v0.8h-0.8zM143.99 83.65h1v1h-1zM142.62 84.63h1.2v0.8h-1.2zM145.64 77.31h0.8v1.2h-0.8zM139.79 86.53h0.8v1h-0.8zM143.18 92.21h0.8v1.2h-0.8zM153.29 95.37h1.2v1.2h-1.2zM151.49 87.29h1v0.8h-1zM152.45 94.68h0.8v0.8h-0.8zM153.54 95.36h1v1.2h-1zM142.14 84.46h1v1h-1zM149.76 81.75h1v1h-1zM154.34 96.36h0.8v0.8h-0.8zM159.78 83.64h1v0.8h-1zM139.94 86h0.8v1h-0.8zM155.58 89.16h0.8v1h-0.8zM145.55 91.52h0.8v0.8h-0.8zM147.49 92.94h1v1h-1zM147.23 91.99h1v1h-1zM157.03 88.61h1v1.2h-1zM152.49 87.97h1v1h-1zM140.43 84.67h0.8v1.2h-0.8zM154.68 78.49h1.2v1.2h-1.2zM139.88 83.36h1.2v0.8h-1.2zM146.93 93.08h1v0.8h-1zM143.9 91.88h1.2v1h-1.2zM140.74 83.85h1.2v0.8h-1.2zM151.44 94h0.8v0.8h-0.8zM156.19 89.26h1v1.2h-1zM153.62 90.12h0.8v1.2h-0.8zM150.75 87.5h1.2v0.8h-1.2zM144.09 82.63h1.2v1h-1.2zM153.31 78.38h1v1.2h-1zM147.08 92.46h1.2v1.2h-1.2zM156.44 87.98h1v1.2h-1zM140.45 84.42h1v1.2h-1zM154.03 95.37h1.2v1h-1.2zM155.11 88.89h0.8v1h-0.8zM139.27 86.3h1v0.8h-1zM140.5 77.9h1v0.8h-1zM152.82 94.84h1v0.8h-1zM157.03 88.33h1v1h-1zM156.62 89.89h1.2v0.8h-1.2zM156.53 78.99h0.8v1h-0.8zM153.59 90.35h1.2v1.2h-1.2zM141.97 85.14h1v0.8h-1zM146.74 91.6h1v1.2h-1zM157.75 80.8h0.8v0.8h-0.8zM147.27 93.22h1.2v0.8h-1.2zM158.38 83h1.2v0.8h-1.2zM147.83 93.33h1v1h-1zM155.01 88.31h0.8v0.8h-0.8zM151 93.97h0.8v1h-0.8zM145.85 84.25h1.2v1h-1.2zM146.1 76.93h1.2v1h-1.2zM149.47 87.61h0.8v1.2h-0.8zM157.99 87.65h1v1h-1zM153.58 95.88h1v0.8h-1zM157.61 87.59h1.2v0.8h-1.2zM140.54 77.05h1.2v1.2h-1.2zM139.97 79.59h0.8v1h-0.8zM145.8 76.87h1.2v1.2h-1.2zM155.74 88.93h1v1.2h-1zM144.5 84.68h1.2v1h-1.2zM143.08 83.94h1v1h-1zM144.67 84.24h0.8v1h-0.8zM146.87 92.06h0.8v1.2h-0.8zM149.84 86.96h1.2v1h-1.2zM148.2 79.3h1v1h-1zM145.71 84.32h1v1h-1zM139.08 83.61h1.2v0.8h-1.2zM155.81 89.41h1.2v1h-1.2zM157.74 80.41h1.2v1.2h-1.2zM143.33 83.99h0.8v1h-0.8zM157.55 87.74h1.2v0.8h-1.2zM148.27 93.46h1.2v0.8h-1.2zM141.19 85.02h1.2v0.8h-1.2zM153.54 88.36h0.8v1h-0.8zM145.66 82.21h1v1h-1zM149.19 87.29h0.8v1h-0.8zM146.14 84.4h0.8v1.2h-0.8zM155.92 90.05h1v1.2h-1zM157.43 79.88h1.2v1h-1.2zM156.65 88h1v0.8h-1zM142.68 92.35h1v0.8h-1zM148.51 87.04h0.8v1h-0.8zM148.04 78.33h1v1h-1zM146.2 76.6h0.8v0.8h-0.8zM141.51 85.05h0.8v0.8h-0.8zM141.04 83.25h1v1.2h-1zM153.47 77.66h0.8v1h-0.8zM153.63 96.04h0.8v1h-0.8zM140.99 85.18h0.8v1.2h-0.8zM147.09 78.28h0.8v1h-0.8zM158.95 90.78h1v0.8h-1zM156.13 90.79h0.8v1h-0.8zM141.01 84.91h0.8v1h-0.8zM138.75 83.65h0.8v0.8h-0.8zM139.43 86.05h1.2v1h-1.2zM156.33 88.76h1.2v0.8h-1.2zM152.2 87.46h0.8v0.8h-0.8zM141.7 92.37h0.8v0.8h-0.8zM141.23 79.14h0.8v1h-0.8zM144.79 76.03h0.8v1.2h-0.8zM137.92 87.13h1.2v1.2h-1.2zM151.23 87.17h1.2v0.8h-1.2zM154.91 96.31h0.8v0.8h-0.8zM154.76 96.29h1v0.8h-1zM150.16 92.96h1v0.8h-1zM141.14 85.3h1v0.8h-1zM152.48 87.75h0.8v1h-0.8zM152.01 87.28h0.8v1.2h-0.8zM156.92 79.69h0.8v1.2h-0.8zM156.46 88.87h1.2v0.8h-1.2zM142.12 84.17h1v1.2h-1z" fill="#000" fill-opacity="0.4"/>
<path d="M142.9 85.79h2v1.5h-2zM150.61 77.88h1v1.5h-1zM149.37 73.95h1v1h-1zM150.67 85.28h1v1.5h-1zM150.99 74.82h2v1.5h-2zM142.04 89.46h1v1h-1zM157.88 90.7h1.5v1h-1.5zM156.6 86.05h1.5v1h-1.5zM151.41 76.01h1v1.5h-1zM154.58 87.99h1.5v1h-1.5zM150.95 74.4h2v1.5h-2zM154.57 89.16h1v1h-1zM145.74 93.74h2v1h-2zM156.77 81.35h1v1h-1zM142.56 82.17h2v1.5h-2zM159.22 78.61h1v1.5h-1zM156.87 81.76h1v1h-1zM157.8 93.25h2v1h-2zM148.22 79.05h1.5v1h-1.5zM139.78 86.9h1v1h-1zM157.04 81.65h2v1h-2zM144.56 84.7h2v1h-2zM154.3 81.59h1v1h-1zM137.69 76.32h1v1h-1zM147.03 77.44h2v1.5h-2zM141.22 95.41h1.5v1.5h-1.5zM153.32 89.88h1.5v1h-1.5zM148.74 92.75h1.5v1h-1.5zM150.14 96.25h1v1h-1zM153.95 94.41h1v1h-1zM147.51 89.7h1.5v1h-1.5zM140.32 87.57h2v1.5h-2zM145.31 87.72h1.5v1h-1.5zM141.44 85.11h2v1h-2zM155.45 92.75h1v1.5h-1zM150.47 95.71h1v1h-1zM158.34 91.19h1v1h-1zM145.32 88.13h1v1h-1zM151.31 84.39h1v1h-1zM153.67 81.29h1.5v1h-1.5zM156.41 86.89h2v1h-2zM153.51 80.31h1v1h-1zM148.55 91.16h1.5v1h-1.5zM146.49 83.76h1v1h-1zM150.61 94.87h1.5v1h-1.5zM157.68 74.27h2v1h-2zM138.35 78.26h1v1h-1zM154.86 86.75h1v1.5h-1zM156.73 74.47h1v1h-1zM140.11 76.03h2v1h-2zM152.25 75.47h1v1h-1zM147.43 78.8h1.5v1h-1.5zM137.58 92.48h1v1.5h-1zM151.38 94.89h1v1h-1zM138.97 94.17h2v1.5h-2z" fill="#000" fill-opacity="0.3"/>
<rect x="136.5" y="73.1" width="24.6" height="24.6" fill="none" stroke="#222" stroke-width="1.4"/>
<rect x="164.7" y="72.4" width="26" height="26" fill="#fff"/>
<path d="M171.8 93h0.8v0.8h-0.8zM168.82 94.17h1.2v1h-1.2zM179.94 76.39h0.8v1.2h-0.8zM173.41 77.2h1.2v1.2h-1.2zM171.46 78.66h1v1.2h-1zM176.94 81.65h1v0.8h-1zM176.05 78.65h1v1h-1zM176.04 82.53h1v1.2h-1zM171.99 84.35h1.2v1.2h-1.2zM175.96 75.82h0.8v1.2h-0.8zM183.99 80.97h1.2v0.8h-1.2zM177.04 76.96h0.8v1.2h-0.8zM174.39 78.14h1v0.8h-1zM179.68 77.09h1v0.8h-1zM180.1 77.21h1v0.8h-1zM168.21 82.18h0.8v0.8h-0.8zM177.97 77.89h0.8v1h-0.8zM184.31 80.62h0.8v1.2h-0.8zM182.98 75.76h1v1h-1zM170.36 74.65h1v1.2h-1zM170.18 79.41h0.8v1h-0.8zM176.22 77.17h1.2v1.2h-1.2zM173.72 81.25h1v1h-1zM170.12 74.71h1v1h-1zM184.47 75.4h1.2v1.2h-1.2zM176.68 77.26h0.8v0.8h-0.8zM168.88 94.5h0.8v0.8h-0.8zM180.18 81.05h1.2v1.2h-1.2zM172.87 82.63h1v0.8h-1zM176.37 76.38h0.8v1.2h-0.8zM168.74 94.46h0.8v1h-0.8zM175.39 83.41h1.2v1.2h-1.2zM174.5 77.97h1v1.2h-1zM176.02 76.56h0.8v1h-0.8zM177.23 81.63h1.2v1.2h-1.2zM180.34 77.03h1v1h-1zM173.14 79.17h1v1h-1zM176.92 81.09h0.8v0.8h-0.8zM180.74 76.13h1.2v1.2h-1.2zM168.93 94.99h0.8v1.2h-0.8zM168.58 94.27h1v0.8h-1zM175.87 77.9h1.2v1h-1.2zM170.45 93.51h0.8v0.8h-0.8zM167.78 81.87h1v1h-1zM174.92 83.08h0.8v1.2h-0.8zM185.46 96.25h1.2v0.8h-1.2zM173.66 82.31h1v0.8h-1zM169.92 95.43h1.2v1.2h-1.2zM170.34 86.45h1v0.8h-1zM182.49 74.53h1v0.8h-1zM169.8 93.17h1v1.2h-1zM181.95 76.15h1.2v0.8h-1.2zM173.41 84.16h0.8v0.8h-0.8zM180.47 81h1.2v0.8h-1.2zM179.39 76.68h1.2v1.2h-1.2zM181.21 80.86h1v0.8h-1zM174.66 83.55h1.2v0.8h-1.2zM169.47 92.9h1v0.8h-1zM177.87 78.1h1.2v1.2h-1.2zM176.66 77.22h1v0.8h-1zM175.81 76.9h1.2v0.8h-1.2zM171.26 82.5h1v0.8h-1zM170.24 84.33h0.8v0.8h-0.8zM174.55 83.35h1.2v1.2h-1.2zM181.29 76.62h1v1h-1zM173.68 79.02h0.8v1h-0.8zM176.62 77.19h1v0.8h-1zM171.9 91.89h0.8v1.2h-0.8zM176.33 76.85h1.2v1.2h-1.2zM174.51 81.39h1v1h-1zM185.05 94.55h1.2v1h-1.2zM172.58 83.28h1v1.2h-1zM179.76 76.93h1v1h-1zM168.9 85.49h1v1h-1zM178.29 76.32h0.8v0.8h-0.8zM175.21 83.34h0.8v1h-0.8zM176.07 77.42h0.8v0.8h-0.8zM177.02 77.82h1v0.8h-1zM170.01 75.07h1.2v1h-1.2zM176.21 81.93h1.2v1h-1.2zM169.63 93.95h1.2v1.2h-1.2zM176.53 83.49h1v1h-1zM181.36 76.49h0.8v1h-0.8zM173.55 81.69h1v1.2h-1zM180.43 76.24h1v1.2h-1zM170.79 84.43h0.8v0.8h-0.8zM176.89 76.44h1.2v1h-1.2zM178.44 78.3h1.2v1h-1.2zM175.82 76.95h1v0.8h-1zM172.75 83.25h1.2v0.8h-1.2zM180.57 77.53h1v1.2h-1zM175.73 81.23h1.2v1.2h-1.2zM173.07 81.97h1v1h-1zM180.52 76.81h1.2v1h-1.2zM168.31 75.73h0.8v0.8h-0.8zM175.26 81.67h0.8v0.8h-0.8zM172.52 79.13h1v0.8h-1zM167.06 94.53h0.8v0.8h-0.8zM175.89 76.69h1v1h-1zM180.92 76.1h1v0.8h-1zM167.65 94.28h1v1h-1zM179.01 77.8h1v0.8h-1zM179.6 76.07h1.2v1.2h-1.2zM175.53 76.76h1.2v0.8h-1.2zM171.14 92.96h1v0.8h-1zM174.22 82.44h0.8v1.2h-0.8zM174.69 82.52h1v1.2h-1zM176.66 77.94h1.2v0.8h-1.2zM173.17 79.01h0.8v0.8h-0.8zM182.22 76.36h1v1.2h-1zM182.9 75.5h1v0.8h-1zM182.16 76.32h1.2v1.2h-1.2zM177.44 81.88h0.8v0.8h-0.8zM173.9 83.76h1.2v1.2h-1.2zM185.7 94.54h1v1.2h-1zM172.28 92.31h1v1.2h-1zM178.64 76.52h0.8v1h-0.8zM173.43 81.89h1.2v0.8h-1.2zM179.09 77.55h1v1h-1zM176.66 77.2h1.2v1.2h-1.2zM174.03 82.72h1.2v1h-1.2zM176.78 82.35h1v1.2h-1zM178.04 76.93h1v0.8h-1zM187.06 94.07h1.2v1h-1.2zM175.82 76.67h1.2v1.2h-1.2zM177.63 78.12h0.8v0.8h-0.8zM177.2 83.42h0.8v0.8h-0.8zM175.56 80.63h1.2v1h-1.2zM171.39 75.03h0.8v1.2h-0.8zM170.53 84.49h1v1h-1zM170.49 78.63h0.8v1h-0.8zM173.15 82.34h1v1.2h-1zM169.74 95.11h0.8v1h-0.8zM168.29 75.91h1.2v1.2h-1.2zM177.24 76.46h1.2v0.8h-1.2zM176.01 77.4h1.2v1h-1.2zM180.42 76.2h1v1h-1zM169.13 75.75h1.2v0.8h-1.2zM175.58 77.91h1v1h-1zM176.07 82.72h0.8v1h-0.8zM175.07 77.49h1v1h-1zM177.98 81.18h1v1h-1zM173.32 82.18h0.8v1h-0.8zM170.33 86.71h1v0.8h-1zM172.14 82.38h0.8v0.8h-0.8zM167.7 83.05h1v1h-1zM169.76 79.47h1.2v1.2h-1.2zM176.71 76.1h1.2v1.2h-1.2zM171.28 74.75h1.2v1h-1.2zM170.52 79.42h1.2v1h-1.2zM172.25 82.79h0.8v0.8h-0.8zM176.92 83.73h1.2v0.8h-1.2zM168 75.7h1v1h-1zM180.17 77.17h1.2v0.8h-1.2zM174.34 76.99h0.8v1.2h-0.8zM179.47 76.61h1v1.2h-1zM169.05 84.91h1.2v0.8h-1.2zM175.15 77.73h1v1h-1zM176.53 81.07h0.8v0.8h-0.8zM172.46 92.44h0.8v0.8h-0.8zM175.37 83.14h0.8v0.8h-0.8zM180.92 76.53h1v0.8h-1zM178.28 78.58h1.2v1.2h-1.2zM174.47 81.17h1.2v1.2h-1.2zM175.34 82.94h0.8v1.2h-0.8zM182 75.95h1v1.2h-1zM179.57 81.56h1v0.8h-1zM179.82 81.15h0.8v1.2h-0.8zM180.96 81.62h1.2v1h-1.2zM177.22 77.43h1.2v1.2h-1.2zM176.19 78.01h0.8v1h-0.8zM170.45 74.8h0.8v1.2h-0.8zM172.94 83h0.8v1h-0.8zM171.43 92.69h1v1h-1zM172.23 83.01h1v0.8h-1zM168.17 82h1.2v0.8h-1.2zM175.62 83.34h0.8v1h-0.8z" fill="#000" fill-opacity="0.42"/>
<path d="M168.92 87.03h1v1h-1zM177.06 90.85h1.5v1.5h-1.5zM167.05 85.51h1.5v1h-1.5zM166.9 91.08h1v1.5h-1zM170.36 74.26h2v1h-2zM181.36 88.53h2v1h-2zM166.59 93.49h1v1h-1zM179.25 79.38h2v1h-2zM170.05 80.79h2v1.5h-2zM185.53 77.05h1v1.5h-1zM181.61 81.25h2v1h-2zM174.14 86.2h2v1h-2zM167.42 83.73h1v1h-1zM177.08 75.55h1v1h-1zM186.46 95.03h2v1h-2zM188.38 75.1h1.5v1h-1.5zM169.41 75.97h1v1h-1zM183.52 92.01h1.5v1h-1.5zM182.47 78.87h1v1h-1zM187.4 93.45h2v1h-2zM169.76 78.06h1v1.5h-1zM171.92 76.92h2v1.5h-2zM183.91 90.79h1.5v1h-1.5zM185.25 76.86h1v1h-1zM187.15 75.34h1v1h-1zM170.33 87.27h1.5v1h-1.5zM172.25 75.01h1v1.5h-1zM169.23 94.91h2v1.5h-2zM168.41 84.07h1v1.5h-1zM184.48 82.56h1v1h-1zM178.07 79.37h1v1.5h-1zM173.62 85.48h1v1h-1zM183.86 89.58h1.5v1h-1.5zM173.73 82.68h1v1h-1zM170.47 89.99h1v1h-1zM175.17 79.62h1.5v1h-1.5zM183.36 76.86h1v1.5h-1zM168.93 82.24h1v1h-1zM173.02 74.29h1v1h-1zM170.46 78.19h1.5v1.5h-1.5zM177.26 75.85h1.5v1.5h-1.5zM182.05 80h1v1h-1zM171.05 79.74h1.5v1.5h-1.5zM188.49 74.28h1v1.5h-1zM170.86 79.29h1v1h-1zM187.11 84.44h1v1h-1zM169.89 74.65h1v1h-1zM187.02 87.43h1v1.5h-1zM182.41 78.51h1v1.5h-1zM167.9 91.06h2v1.5h-2zM177.7 89.87h1v1h-1zM177.96 80.75h1.5v1.5h-1.5zM168.03 73.93h2v1h-2zM167.59 81.26h1v1h-1zM168.02 82.32h1v1.5h-1z" fill="#000" fill-opacity="0.3"/>
<path d="M171.13 79.41h1v1.3h-1zM173.11 79.25h1v1.3h-1zM173.85 80.67h1v1h-1zM174.05 80.61h1.3v1.3h-1.3zM173.93 79.73h1.3v1h-1.3zM173.91 79.99h1v1h-1zM172.5 80.76h1v1.3h-1zM173.73 81.49h1v1h-1zM173.73 79.64h1v1h-1zM172.79 78.59h1.3v1h-1.3zM173.71 80.51h1v1.3h-1zM173.56 81.03h1v1.3h-1z" fill="#000" fill-opacity="0.85"/>
<rect x="165.4" y="73.1" width="24.6" height="24.6" fill="none" stroke="#333" stroke-width="1.4"/>
<rect x="50" y="101.2" width="26" height="26" fill="#fff"/>
<path d="M71.58 107.3h1.2v1h-1.2zM73.1 114.31h1v1h-1zM55.8 112.94h1v1.2h-1zM62.8 115.93h1.2v1h-1.2zM62.88 105.28h1.2v1h-1.2zM73.01 114.23h1.2v0.8h-1.2zM59.11 122.03h0.8v1h-0.8zM54.72 114.82h1.2v1h-1.2zM59.4 119.6h1v1.2h-1zM63.55 118.21h1.2v0.8h-1.2zM73.28 108.8h1.2v1.2h-1.2zM60.78 117.43h1.2v0.8h-1.2zM61.39 118.09h1v1.2h-1zM60.82 116.8h1v0.8h-1zM66.31 115.62h1.2v0.8h-1.2zM72 115.73h1v1.2h-1zM61.85 120.58h0.8v1.2h-0.8zM61.18 117.14h1v1.2h-1zM58.11 115.7h1.2v1.2h-1.2zM67.76 117.91h0.8v0.8h-0.8zM55.38 114.47h1.2v1.2h-1.2zM73.14 113.99h1v1h-1zM71.84 108.8h1v1h-1zM64.83 118.69h1v1h-1zM68.35 112.26h1.2v1.2h-1.2zM55.51 115.02h1v1.2h-1zM55.82 123.14h1v0.8h-1zM63.76 118.41h1v1.2h-1zM66.98 117.48h0.8v1h-0.8zM69.72 112.53h1v0.8h-1zM55.51 114.11h1.2v1h-1.2zM61.35 117.86h1v1h-1zM65.15 118.6h1v1h-1zM55.79 121.41h1v0.8h-1zM72.72 113.64h0.8v0.8h-0.8zM54.21 113.96h0.8v1.2h-0.8zM57.52 120.94h1v0.8h-1zM73.54 113.98h0.8v0.8h-0.8zM68.55 116.33h1v1h-1zM61.51 119.41h1v1h-1zM58.21 115.17h0.8v0.8h-0.8zM56.58 121.59h1.2v1h-1.2zM72.23 114.29h1v1.2h-1zM57.02 112.12h0.8v0.8h-0.8zM52.89 107.61h1v1h-1zM64.89 119.69h1v1h-1zM57.39 120.44h1v0.8h-1zM71.15 109.19h0.8v0.8h-0.8zM68.35 118.8h1v1h-1zM73.02 109.01h0.8v1h-0.8zM71.56 114.49h0.8v0.8h-0.8zM65.96 114.18h1v1.2h-1zM61.69 120.11h1.2v1h-1.2zM56.58 115.37h0.8v1.2h-0.8zM57.25 118.9h0.8v1.2h-0.8zM53.26 115.2h1v1h-1zM64.07 118.42h1v1h-1zM62.12 117.68h1v0.8h-1zM73.4 113.6h1.2v1.2h-1.2zM54.65 114.64h1v1.2h-1zM66.14 115.01h1v0.8h-1zM54.48 114.15h1.2v0.8h-1.2zM68.72 112.54h1v0.8h-1zM65.56 118.96h0.8v1.2h-0.8zM72.87 117.84h1.2v1.2h-1.2zM65.36 119.84h1v0.8h-1zM52.91 113.2h1v1h-1zM67.67 116.38h0.8v0.8h-0.8zM54.89 120.65h0.8v1h-0.8zM64.9 107.09h1v1.2h-1zM57.8 108.71h1v1h-1zM57.05 115.87h1v1h-1zM70.52 108.37h1.2v0.8h-1.2zM57.6 120.85h1v1h-1zM53.79 121.27h1v0.8h-1zM67.6 118.01h1.2v1h-1.2zM56.52 115.45h1v1h-1zM70.42 112.43h0.8v1.2h-0.8zM67.06 117.23h0.8v1h-0.8zM53.38 107.6h1v1h-1zM62.74 116.59h1.2v1h-1.2zM73.36 113.27h0.8v1h-0.8zM68.21 116.68h1v0.8h-1zM57.7 116.05h0.8v1.2h-0.8zM67.53 107.37h0.8v1.2h-0.8zM69.59 116.82h1v1h-1zM69.94 119.5h1v1h-1zM66.63 107.68h0.8v1.2h-0.8zM61.62 120.76h1.2v1.2h-1.2zM64.12 118.13h0.8v1.2h-0.8zM63.09 116.86h1.2v1h-1.2zM67.32 118.63h0.8v0.8h-0.8zM71.51 113.11h1.2v1.2h-1.2zM58.53 116.82h1v0.8h-1zM71.42 108.37h1v1.2h-1zM56.48 118.64h1v1.2h-1zM62.7 118h0.8v1.2h-0.8zM69.09 118.93h0.8v0.8h-0.8zM67.3 115.87h1.2v0.8h-1.2zM70.3 118.94h1v0.8h-1zM61.41 105.85h1.2v1.2h-1.2zM68.01 107.65h0.8v0.8h-0.8zM71.22 113.31h1v1.2h-1zM57.29 110h1.2v1.2h-1.2zM58.79 116.92h1v1h-1zM55.72 121.7h1v1.2h-1zM52.41 107.55h1v1h-1zM65.2 119.24h1v1h-1zM53.53 114.86h1.2v1h-1.2zM55.37 119.82h1v1h-1zM60.3 120.46h1v1h-1zM61.82 117.67h1.2v1.2h-1.2zM63.63 116.59h1.2v1.2h-1.2zM63.97 113.98h1v1h-1zM71.82 107.59h1.2v1h-1.2zM59.57 105.74h1.2v0.8h-1.2zM64.63 119.15h1v1h-1zM66.73 114.96h0.8v0.8h-0.8zM64.17 113.86h1.2v1h-1.2zM68.79 117.03h1v0.8h-1zM57.91 122.19h1v1.2h-1zM63.26 116.33h0.8v1h-0.8zM70.21 119.37h1v1h-1zM61.47 120.31h1.2v0.8h-1.2zM59.04 119.76h1v1h-1zM57.05 109.22h0.8v0.8h-0.8zM71.05 120.12h1v0.8h-1zM68.24 118.16h1.2v0.8h-1.2zM55.81 122.32h1v0.8h-1zM71.78 114.48h1v0.8h-1zM56.32 115.22h0.8v1h-0.8zM69.02 111.9h1v1.2h-1zM59.93 117.9h1.2v1h-1.2zM64.77 119.57h0.8v1h-0.8zM73.96 120.94h1.2v1h-1.2zM60.36 120.73h0.8v0.8h-0.8zM57.01 115.28h1v0.8h-1zM66.91 114.89h0.8v1h-0.8zM73.09 121.59h1.2v0.8h-1.2zM73.22 117.71h0.8v0.8h-0.8zM73.68 108.94h1v0.8h-1zM53.13 111.19h1v1h-1zM57.4 118.58h1.2v1.2h-1.2zM67.79 119.25h1v0.8h-1zM72.48 119.45h1.2v0.8h-1.2zM52.47 108.25h1.2v1h-1.2zM58.83 116.84h0.8v1.2h-0.8zM57.34 122.38h1v1.2h-1zM64.31 118.69h1.2v1.2h-1.2zM53.62 107.57h1v1h-1zM73.47 108.72h1.2v1.2h-1.2zM68.01 115.41h0.8v0.8h-0.8zM56.51 115.67h1.2v1h-1.2zM69.11 116.67h1.2v1h-1.2zM62.11 118.58h1v1h-1zM55.35 121.03h1.2v0.8h-1.2zM58.72 119.9h1v1h-1zM65.76 119.23h1v1h-1zM71.46 113.1h1.2v1.2h-1.2zM68.21 112.53h0.8v0.8h-0.8zM71.79 113.14h0.8v1.2h-0.8zM60.59 119.93h1.2v1h-1.2zM68.93 112.86h1.2v1h-1.2zM65.61 107.62h0.8v1h-0.8zM65.63 118.87h1v1h-1zM72.14 120.39h1v1.2h-1zM71.33 120.48h1v1h-1zM55.13 123.2h1.2v1h-1.2zM70.5 119.92h0.8v1h-0.8zM55.99 121.89h1v0.8h-1zM70.2 112.65h1v0.8h-1zM57.79 107.96h1v0.8h-1zM69.09 116.48h1.2v0.8h-1.2zM73.97 114.32h0.8v1.2h-0.8zM63.89 106.8h1.2v1.2h-1.2zM65.92 114.72h0.8v0.8h-0.8zM67.83 116.04h1.2v1h-1.2zM52.51 109.87h1.2v0.8h-1.2zM71.93 114.11h1.2v0.8h-1.2zM55.95 120.94h0.8v0.8h-0.8zM65.52 119.48h1.2v0.8h-1.2zM67.98 112.05h0.8v0.8h-0.8zM72.89 119.67h1v0.8h-1zM61.33 120.01h1v1h-1zM72.51 113.6h1.2v0.8h-1.2zM67.94 118.43h1v1.2h-1zM58.86 105.54h1.2v0.8h-1.2zM62.36 117.89h1v1h-1zM55.49 122.34h1.2v1.2h-1.2zM71.98 108.21h1.2v1.2h-1.2zM55.54 122.74h0.8v1h-0.8zM64.11 107.48h1.2v1.2h-1.2zM61.59 120.22h0.8v0.8h-0.8zM61.96 117.88h1.2v1.2h-1.2zM58.39 119.96h0.8v1.2h-0.8zM56.72 118.27h1.2v1.2h-1.2zM70.35 112.84h1.2v1h-1.2zM70.29 108.36h1v1.2h-1zM71.04 112.58h1.2v1.2h-1.2zM62.3 105.3h0.8v1h-0.8zM56.06 115.28h1.2v0.8h-1.2zM60.48 117.65h1.2v1.2h-1.2zM56.7 118.47h1.2v1h-1.2zM55.92 122.14h0.8v1.2h-0.8zM63.3 113.4h1v1.2h-1zM58.88 105.81h1.2v1h-1.2zM68.03 107.69h1v0.8h-1zM59.28 122.33h1.2v0.8h-1.2zM63.61 105.47h1.2v0.8h-1.2zM55.48 119.15h1v1h-1zM67.94 112.42h1v1h-1zM62.82 116.23h1v1.2h-1zM57.23 119.81h1v0.8h-1zM72.2 113.76h0.8v0.8h-0.8zM61.76 116.51h0.8v0.8h-0.8zM70.16 119.63h1.2v1.2h-1.2zM62.31 116.36h0.8v1h-0.8zM69.65 118.89h1v0.8h-1z" fill="#000" fill-opacity="0.4"/>
<path d="M71.49 105.92h1v1.5h-1zM73.41 105.83h1v1h-1zM53.09 114.69h1v1h-1zM54.09 124.19h1.5v1h-1.5zM71.21 104.01h1.5v1h-1.5zM66.39 117.19h1v1h-1zM61.3 115.79h1.5v1.5h-1.5zM52.83 124.32h1.5v1h-1.5zM58.04 110.46h1.5v1.5h-1.5zM56.18 117.88h1.5v1h-1.5zM67.21 109.94h1.5v1h-1.5zM72.56 118.76h1.5v1.5h-1.5zM67.98 122.24h2v1h-2zM52.97 122.18h1.5v1h-1.5zM63.03 121.14h1v1h-1zM60.88 103.19h1v1.5h-1zM71.36 118.63h1v1h-1zM70.93 121.02h2v1h-2zM60.81 106.83h1v1h-1zM53.78 106.01h1v1h-1zM63.59 117.68h2v1.5h-2zM64.58 123.07h1.5v1h-1.5zM73.26 117.38h2v1h-2zM52.81 116.02h1v1h-1zM54.06 118.83h2v1.5h-2zM53.15 112.9h1v1h-1zM52.57 115.05h1v1h-1zM55.45 103.5h1v1h-1zM59.52 106.72h1v1h-1zM56.86 110.31h2v1h-2zM53.21 112.75h1v1.5h-1zM64.19 118.73h1.5v1.5h-1.5zM58.21 109.64h2v1h-2zM59.98 107.38h1.5v1h-1.5zM70.32 118.71h2v1h-2zM71.4 119.76h1v1h-1zM59.73 120.38h1v1h-1zM57.7 118.53h1v1.5h-1zM66.96 115.71h1v1.5h-1zM72.24 112.36h1.5v1h-1.5zM72.03 103.76h1v1.5h-1zM63.79 113.69h2v1h-2zM65.02 102.81h1v1h-1zM72.14 110.06h1.5v1h-1.5zM58.36 114.23h1v1h-1zM65.03 105.29h1v1h-1zM72.7 112.41h1v1h-1zM54.16 109.86h1.5v1h-1.5zM54.09 105.14h1.5v1h-1.5zM72.63 114.88h1v1h-1zM72.38 108.97h1v1h-1zM58.95 112.51h1v1h-1zM54.89 112.1h1.5v1h-1.5zM59 117.96h1v1h-1zM54.15 124.13h1v1.5h-1z" fill="#000" fill-opacity="0.3"/>
<rect x="50.7" y="101.9" width="24.6" height="24.6" fill="none" stroke="#777" stroke-width="1.4"/>
<rect x="78.4" y="101.2" width="26" height="26" fill="#fff"/>
<rect x="79.1" y="101.9" width="24.6" height="24.6" fill="none" stroke="#777" stroke-width="1.4"/>
<path d="M84 112h2v1.5h-2zM86.5 111h1.5v2h-1.5zM85 113.5h1.5v1h-1.5zM88 110h1v1h-1zM90 109.5h1.5v1h-1.5zM84 122h1v1h-1zM85 124h1v1h-1z" fill="#222"/>
<circle cx="115.3" cy="115.3" r="1.15" fill="#000"/>
<circle cx="119.6" cy="115.3" r="1.15" fill="#000"/>
<circle cx="123.9" cy="115.3" r="1.15" fill="#000"/>
<rect x="136.4" y="101.8" width="25.4" height="25.4" fill="#000" stroke="#cc6a2c" stroke-width="1.3"/>
<rect x="165.3" y="101.8" width="25.4" height="25.4" fill="#000" stroke="#cc6a2c" stroke-width="1.3"/>
<rect x="210" y="72.6" width="26" height="26" fill="#fff"/>
<path d="M212.53 78.68h1v1h-1zM225.4 92.07h1v1.5h-1zM221.4 77.86h1v1h-1zM217.76 84.45h1v1.5h-1zM230.69 80.85h2v1h-2zM226.11 84.53h1v1.5h-1zM232.79 80.72h1v1.5h-1zM214.65 77.03h2v1h-2zM230.87 82.72h1v1.5h-1zM216.57 89.25h1.5v1h-1.5zM214.78 86.28h1v1.5h-1zM228.36 87.15h1.5v1h-1.5zM233.69 84.59h1.5v1h-1.5zM231.33 76.48h1.5v1h-1.5zM223.99 82.22h1.5v1.5h-1.5zM223.08 95.53h1v1h-1zM223.4 81.02h1v1h-1zM233.12 81.29h1.5v1h-1.5zM231.76 74.41h1.5v1.5h-1.5zM230.9 80.3h1v1h-1zM223.25 94.06h2v1h-2zM222.28 84.88h1v1h-1zM222.95 84.2h1v1.5h-1zM218.06 82.93h1v1h-1zM211.81 95.44h1.5v1.5h-1.5zM229.49 79.82h1v1h-1zM211.75 92.02h2v1h-2zM212.17 80.07h2v1.5h-2zM223.17 85.77h1v1h-1zM213.7 84.05h1v1.5h-1zM211.97 96.34h1v1h-1zM223.31 89.99h2v1h-2zM212.38 76.58h1v1.5h-1zM222.76 90.62h1v1h-1zM213.43 95.7h1v1.5h-1zM227.44 81.85h1v1h-1zM225.93 85.63h1v1h-1zM232.76 91.38h2v1.5h-2zM228.73 74.82h1v1h-1zM222.53 83.62h1v1h-1zM229.47 82.61h1v1h-1zM224.85 82.08h1v1h-1zM221.41 83.87h1v1.5h-1zM220.53 94.91h2v1.5h-2zM230.94 75.02h2v1.5h-2zM221.9 93.58h1.5v1h-1.5zM230.38 85.99h2v1h-2zM228.52 84.2h2v1.5h-2zM219.54 81.71h1.5v1h-1.5zM215.17 91.35h2v1h-2zM225.07 89.58h1v1h-1zM213.66 94.02h1.5v1.5h-1.5zM219.45 96.11h1v1h-1zM227.1 92.25h1.5v1.5h-1.5zM229.72 94.61h2v1h-2zM220.95 87.23h1v1.5h-1zM216.54 94.62h1.5v1h-1.5zM214.83 90.24h1.5v1.5h-1.5zM223.44 76.51h1v1h-1zM232.82 93.59h1.5v1h-1.5zM225.11 83.93h1v1.5h-1zM223.76 78.8h1v1.5h-1zM223 94.11h1v1.5h-1zM224.3 77.26h1v1h-1zM225.02 77.83h2v1h-2zM218.26 85.3h1v1.5h-1zM213.64 79.16h1v1h-1zM214.67 76.93h1v1.5h-1zM213.76 82.14h1v1h-1zM221.83 86.25h1v1h-1z" fill="#000" fill-opacity="0.3"/>
<path d="M222.81 82.73h1.3v1.3h-1.3zM219.64 93.22h1.3v1.3h-1.3zM225.05 85.43h1v1h-1zM224.5 89.16h1v1.3h-1zM223.04 85.65h1v1.3h-1zM224.39 80.38h1.3v1.3h-1.3zM221.19 94.35h1.3v1.3h-1.3zM223.85 89.6h1v1.3h-1zM223.82 93.2h1v1h-1zM222.43 91.42h1v1.3h-1zM218.82 92.4h1v1h-1zM219.71 94.03h1v1h-1zM216.88 92.81h1v1h-1zM224.26 90.48h1.3v1.3h-1.3zM224.29 80.87h1.3v1.3h-1.3zM218.61 92.01h1v1h-1zM222.83 88.01h1v1.3h-1zM223.64 80.04h1v1h-1zM218.47 93.62h1v1.3h-1zM223.19 93.98h1.3v1.3h-1.3zM222.61 91.85h1v1h-1zM223.22 88.65h1v1h-1zM219.84 93.16h1.3v1.3h-1.3zM219.99 95.18h1v1h-1zM223.57 88.63h1v1.3h-1zM220.52 94.39h1v1.3h-1zM219.6 92.05h1v1h-1zM223.74 93.67h1v1h-1zM222.96 94.79h1v1.3h-1zM216.61 91.77h1v1h-1zM220.76 94.44h1.3v1h-1.3zM223.11 83.8h1.3v1.3h-1.3zM220.62 94.17h1.3v1.3h-1.3zM223.02 94.98h1.3v1h-1.3zM222.91 82.84h1v1.3h-1zM223.61 83.66h1v1h-1zM221.99 80.91h1v1.3h-1zM224.45 89.18h1v1h-1zM221.15 93.35h1.3v1h-1.3zM222.67 93.2h1.3v1.3h-1.3z" fill="#000" fill-opacity="0.7"/>
<rect x="210.7" y="73.3" width="24.6" height="24.6" fill="none" stroke="#333" stroke-width="1.4"/>
<rect x="237.8" y="72.6" width="26" height="26" fill="#fff"/>
<path d="M256.49 88.61h2v1h-2zM243.71 83.06h1v1h-1zM249.26 84.25h1.5v1h-1.5zM244.64 88.27h1v1h-1zM246.65 76.99h2v1.5h-2zM255.39 90.03h1v1.5h-1zM244.89 79.82h2v1h-2zM245.4 75.13h1v1.5h-1zM256.64 74.97h1.5v1h-1.5zM243.28 94.69h1v1h-1zM242.17 79.06h1v1h-1zM261.43 81.03h1.5v1h-1.5zM246.02 81.67h2v1h-2zM261.24 91.4h1v1h-1zM248.11 91.26h1.5v1h-1.5zM248.51 79.51h1.5v1h-1.5zM241.8 78.56h1.5v1h-1.5zM241.12 89.08h2v1.5h-2zM261.34 76.46h1v1h-1zM258.74 89.34h1.5v1.5h-1.5zM253.95 94.08h1v1.5h-1zM251.83 77.11h1v1h-1zM243.17 90.43h2v1h-2zM256.12 77.16h2v1h-2zM243.52 92.21h1v1h-1zM257.42 93.5h1v1h-1zM247.93 82.36h1v1h-1zM248.57 95.74h1.5v1h-1.5zM250.54 91.77h1v1.5h-1zM261.03 95.27h1v1h-1zM244.36 84.67h1v1h-1zM251.76 74.54h2v1h-2zM253.86 85.49h2v1h-2zM252 85.07h1.5v1h-1.5zM242.74 78.39h2v1h-2zM247.95 86.59h1.5v1h-1.5zM253.59 80.87h2v1.5h-2zM258.22 95.5h1.5v1h-1.5zM247.57 83.5h2v1h-2zM240.47 87.41h1v1h-1zM246.95 96.09h1v1h-1zM241.16 82.48h1.5v1.5h-1.5zM259.69 92.39h1.5v1h-1.5zM242.85 95.08h1v1.5h-1zM240.32 81.83h1.5v1h-1.5zM243.84 95.77h1v1.5h-1zM261.8 83.01h1v1h-1zM246.07 91.34h2v1h-2zM242.44 75.85h1v1.5h-1zM252.17 82.35h1v1h-1zM245.25 83.7h1v1.5h-1zM243.53 92.15h1v1h-1zM254.21 93.63h2v1.5h-2zM255.98 80.53h1v1.5h-1zM250.96 84.25h1v1h-1zM251.53 81.85h1v1h-1zM251.11 90.21h1v1h-1zM246.27 82.32h1.5v1h-1.5zM257.17 87.44h2v1h-2zM249.04 95.82h1.5v1.5h-1.5zM251.32 75.86h1v1h-1zM244.29 92.1h1v1.5h-1zM254.96 89.9h1v1h-1zM252.45 85.01h1v1h-1zM261.31 76.16h1v1h-1zM257.52 89.76h2v1h-2zM250.97 78.69h1.5v1h-1.5zM255.7 94.23h1v1h-1zM243.79 86.38h1v1.5h-1zM247.01 77.59h1.5v1.5h-1.5zM258.99 84.54h1v1h-1zM241.96 87.97h1v1h-1zM258.16 86.43h1.5v1.5h-1.5zM247.52 89.28h1.5v1h-1.5zM239.99 95.43h1v1h-1zM250.29 75.44h1v1.5h-1zM261.63 94.61h2v1h-2zM250.01 88.18h1v1h-1zM256.62 77.08h1.5v1h-1.5zM252.83 80.34h1v1h-1zM243.27 79.32h1v1h-1zM258.67 82.02h1v1h-1zM240.94 79.83h2v1.5h-2zM261.53 94.15h1v1.5h-1zM240.79 93.75h1.5v1h-1.5zM239.68 92.29h2v1h-2zM247.97 75.94h1v1h-1zM250.78 83.32h1v1h-1zM246.72 92.06h1v1.5h-1zM247.21 81.08h1.5v1.5h-1.5zM239.83 94.36h1v1h-1zM252.35 88.85h2v1h-2zM241.58 89.44h1v1h-1zM258.4 82.73h1v1h-1zM251.62 80.75h1v1.5h-1zM240.4 89.32h1v1h-1zM252.99 82.86h1v1h-1zM249.96 81.07h2v1h-2zM253.19 76.71h2v1h-2zM248.8 94.6h1.5v1h-1.5zM247.46 84.4h1.5v1.5h-1.5zM260.58 93.48h1v1.5h-1zM258.18 93.56h2v1h-2zM247.03 88.33h2v1.5h-2zM252.46 88.32h1v1h-1zM252.58 79.36h1v1.5h-1zM244.14 93.75h1v1.5h-1zM248.41 77.91h1.5v1h-1.5zM250.7 87.5h2v1h-2zM261.62 77.11h2v1h-2zM248.12 91.94h1v1h-1zM257.37 89.09h2v1h-2zM250.84 89.6h2v1h-2zM241.38 90.96h1v1.5h-1zM241.43 93.01h2v1.5h-2zM252.01 74.62h2v1h-2zM249.35 89.88h2v1h-2zM259.96 92.67h1v1h-1zM258.94 80.83h1.5v1.5h-1.5zM246.58 79.19h1v1h-1zM243.89 82.3h2v1h-2zM243.31 75.76h1v1.5h-1zM248.17 95.41h1.5v1h-1.5zM256.81 96.12h1v1h-1zM247.37 93.84h1.5v1h-1.5zM243.51 91.51h1v1h-1zM254.26 92.24h1.5v1.5h-1.5zM252.26 87.52h1.5v1h-1.5zM260.16 85.66h1v1h-1zM251.79 83.54h1.5v1h-1.5zM240.76 93.49h2v1.5h-2zM250.48 86.57h1v1h-1zM256.51 91.08h1.5v1.5h-1.5zM252.51 87.49h1.5v1h-1.5zM258.3 88.04h1.5v1.5h-1.5zM254.37 92.08h1v1h-1zM246.55 78.44h1v1h-1zM241.97 88.21h1v1.5h-1zM239.51 84.66h1v1.5h-1zM255.15 79.66h2v1h-2z" fill="#000" fill-opacity="0.38"/>
<rect x="238.5" y="73.3" width="24.6" height="24.6" fill="none" stroke="#444" stroke-width="1.4"/>
<path d="M245.67 83.18h1v1h-1zM254.83 93.57h1v1h-1zM245.08 91.68h1v1h-1zM240.97 82.36h1.3v1.3h-1.3zM253.41 93.35h1v1.3h-1zM242.96 82.34h1v1h-1zM246.47 77.85h1v1.3h-1zM254.84 88.01h1.3v1.3h-1.3zM255.34 82.19h1v1h-1zM244.93 87.5h1v1h-1zM245.09 83.15h1.3v1.3h-1.3zM254.88 86.04h1v1h-1zM253.97 81.2h1v1.3h-1zM255.46 86.52h1.3v1h-1.3zM257.49 79.22h1v1h-1zM254.63 79.54h1.3v1h-1.3zM254.82 85.38h1.3v1h-1.3zM246.33 90.29h1v1h-1zM245.26 90.11h1v1h-1zM246.47 87.08h1.3v1.3h-1.3zM255.23 89.7h1.3v1h-1.3zM257.24 84.65h1.3v1.3h-1.3zM243.28 85.3h1v1h-1zM257.24 82.38h1.3v1.3h-1.3zM246.47 85.53h1v1h-1zM245.44 88.33h1.3v1h-1.3zM244.36 78.43h1.3v1.3h-1.3zM254.88 80.86h1v1.3h-1zM255.2 83.9h1.3v1.3h-1.3zM257.37 79.48h1.3v1.3h-1.3z" fill="#000" fill-opacity="0.6"/>
<rect x="265.7" y="72.6" width="26" height="26" fill="#fff"/>
<path d="M276.13 76.02h1v1h-1zM276.46 93.5h1v1.5h-1zM279.91 81.47h2v1h-2zM277.07 84.47h1.5v1h-1.5zM288.36 79.22h1v1h-1zM271.03 80.95h2v1h-2zM274.48 92.27h1.5v1h-1.5zM276.34 92.44h1v1h-1zM279.95 84.18h2v1h-2zM287.5 86h2v1h-2zM288.65 78.22h2v1h-2zM288.05 92.97h1v1.5h-1zM277.25 91.26h2v1h-2zM284.97 93.19h2v1.5h-2zM283.38 93.96h1.5v1h-1.5zM286.92 93.3h1v1.5h-1zM287.8 90.97h2v1.5h-2zM286.45 74.95h1.5v1h-1.5zM274.18 83.69h1v1h-1zM275.07 79.97h2v1h-2zM284.47 78.12h2v1h-2zM284.31 77.75h2v1.5h-2zM280.8 85.15h1v1h-1zM269.69 84.82h1.5v1h-1.5zM284.95 83.25h2v1.5h-2zM288.88 80.48h1.5v1.5h-1.5zM273.53 91.19h1v1.5h-1zM289.25 93.66h1.5v1h-1.5zM272.73 90.86h2v1h-2zM287.3 85.39h1v1h-1zM288.12 80.66h1.5v1.5h-1.5zM275.18 87.92h1v1.5h-1zM286.58 82.17h1.5v1.5h-1.5zM272.62 89.51h1v1.5h-1zM275.31 81.83h1v1h-1z" fill="#000" fill-opacity="0.3"/>
<path d="M282.92 82.65h1.3v1.3h-1.3zM276.76 88.88h1v1h-1zM273.91 86.95h1v1.3h-1zM276.06 92.99h1.3v1.3h-1.3zM274.81 92.83h1v1h-1zM271.85 79.53h1.3v1h-1.3zM277.22 93.75h1v1.3h-1zM282.6 89.34h1.3v1.3h-1.3zM279.04 92.67h1v1h-1zM274.02 92.86h1.3v1.3h-1.3zM283.55 77.53h1v1.3h-1zM272.91 90.16h1.3v1h-1.3zM272.62 89.6h1v1.3h-1zM284.19 84.3h1.3v1.3h-1.3zM272.62 95.11h1.3v1.3h-1.3zM283.14 80.71h1v1.3h-1zM275.42 89.75h1v1h-1zM272.01 75.41h1v1.3h-1zM274.01 92.34h1v1.3h-1zM281.67 84.34h1v1h-1zM272.64 79.13h1.3v1.3h-1.3zM277.58 88.34h1.3v1h-1.3zM282.41 88.18h1v1h-1zM274 86.35h1v1.3h-1zM277.55 91.31h1v1.3h-1zM275.6 93.83h1.3v1h-1.3zM277.86 89.87h1.3v1h-1.3zM273.4 85.64h1v1.3h-1zM274.38 79.01h1v1.3h-1zM274.52 92.02h1v1h-1zM274.22 86.18h1v1.3h-1zM283.28 76.17h1.3v1.3h-1.3zM285.08 88.42h1.3v1h-1.3zM284.14 82.81h1.3v1.3h-1.3zM284.41 76.55h1v1.3h-1zM273.28 81.91h1v1.3h-1zM282.09 84.94h1.3v1.3h-1.3zM274.41 88.15h1v1h-1zM281.39 87.24h1.3v1h-1.3zM276.21 92.39h1v1.3h-1zM272.74 81h1.3v1h-1.3zM274.27 83.73h1.3v1h-1.3zM274.19 90.2h1v1h-1zM275.05 88.32h1.3v1h-1.3zM276.72 91.74h1.3v1h-1.3zM275.74 93.13h1.3v1h-1.3zM283.78 82.79h1v1h-1zM275.67 92.66h1.3v1h-1.3zM276.87 91.67h1.3v1h-1.3zM282.06 85.51h1.3v1.3h-1.3zM271.99 78.72h1v1h-1zM276.99 91.79h1.3v1.3h-1.3zM277.41 89.98h1.3v1.3h-1.3zM282.65 92.04h1v1h-1zM281.62 88.61h1.3v1h-1.3zM274.42 83.84h1v1h-1zM276.37 91.99h1v1.3h-1zM275.3 91.88h1.3v1.3h-1.3zM275.86 92.3h1.3v1.3h-1.3zM273.34 81.92h1v1h-1zM274.59 87.71h1v1h-1zM277.15 88.47h1.3v1.3h-1.3zM278.79 90.17h1.3v1.3h-1.3zM271.17 82.22h1.3v1.3h-1.3zM281.71 92.48h1v1.3h-1zM274.65 93.82h1.3v1h-1.3zM277.42 90.8h1v1h-1zM282.56 89.22h1v1h-1zM275.29 91.85h1v1.3h-1zM276.37 90.91h1v1h-1zM274.11 90.22h1.3v1h-1.3zM278.58 93.8h1.3v1.3h-1.3zM272.73 80.13h1v1h-1zM272.81 76.26h1.3v1.3h-1.3zM276.74 90.76h1.3v1.3h-1.3zM274.26 91.67h1.3v1h-1.3zM274.63 92.84h1.3v1.3h-1.3zM282.96 86.29h1v1.3h-1zM284.49 92.35h1.3v1.3h-1.3zM273.2 93.03h1v1.3h-1zM278.02 90.29h1.3v1h-1.3zM272.65 76.45h1v1.3h-1zM275.33 89.78h1v1h-1zM283.07 76.22h1v1.3h-1zM278.73 89.64h1v1.3h-1zM283.44 90.23h1v1h-1zM275.21 80.81h1.3v1h-1.3zM274.79 91.52h1v1.3h-1zM273.11 91.96h1.3v1h-1.3zM284.58 76.89h1v1.3h-1zM274.78 83.4h1.3v1h-1.3zM274.55 86.65h1v1.3h-1zM284.54 84.79h1.3v1.3h-1.3zM275.84 93.18h1.3v1.3h-1.3zM279.4 91.27h1.3v1h-1.3zM276.13 92.47h1v1h-1zM282.35 81.53h1v1h-1zM277.01 90.04h1.3v1h-1.3zM284.39 84.36h1v1.3h-1zM285.16 80.74h1.3v1h-1.3z" fill="#000" fill-opacity="0.65"/>
<rect x="266.4" y="73.3" width="24.6" height="24.6" fill="none" stroke="#111" stroke-width="1.4"/>
<rect x="293" y="72.6" width="26" height="26" fill="#fff"/>
<path d="M309.6 81.82h0.8v0.8h-0.8zM303.45 76.28h1v0.8h-1zM300.19 88.07h1v1h-1zM308.45 79.91h1v0.8h-1zM307.65 93.19h0.8v1h-0.8zM301.48 78.21h0.8v0.8h-0.8zM306.16 84.99h1v1h-1zM300.29 79.66h0.8v0.8h-0.8zM307.16 85.01h1v0.8h-1zM300.05 78.91h1v1h-1zM306.41 84.04h0.8v1h-0.8zM299.79 91.41h1v1h-1zM308.25 87.76h0.8v1h-0.8zM307.78 83.8h1v1h-1zM308.5 81.04h0.8v0.8h-0.8zM300.15 80.8h1v0.8h-1zM303.27 94.34h1v0.8h-1zM303.21 85.43h1v0.8h-1zM306.42 93.92h1v1h-1zM303.07 76.61h0.8v1h-0.8zM303.07 84.78h0.8v0.8h-0.8zM299.19 90.93h1v1h-1zM302.55 76.58h1v1h-1zM302.87 85.46h0.8v1h-0.8zM304.95 85.81h0.8v0.8h-0.8zM303.26 76.44h1v0.8h-1zM301.99 93.57h0.8v1h-0.8zM303.89 85.05h0.8v0.8h-0.8zM301.24 78.83h0.8v0.8h-0.8zM309.5 91.84h1v0.8h-1zM307.22 83.84h1v0.8h-1zM301.34 80.47h1v0.8h-1zM309.12 80.28h0.8v1h-0.8zM301.39 79.34h0.8v1h-0.8zM305.95 85.62h0.8v1h-0.8zM305.45 84.3h0.8v0.8h-0.8zM308.7 81.16h1v1h-1zM302.92 94.4h1v1h-1zM301.25 94.13h1v0.8h-1zM298.81 90.4h0.8v1h-0.8zM303.45 84.76h1v0.8h-1zM299.68 91.31h1v1h-1zM301.6 83.2h0.8v1h-0.8zM308.62 93.34h0.8v1h-0.8zM308.42 78.05h1v0.8h-1zM299.83 92.35h1v0.8h-1zM307.59 83.95h1v0.8h-1zM306.6 84.43h1v1h-1zM299.18 90.71h0.8v1h-0.8zM306.33 94.27h0.8v1h-0.8zM308.68 80.96h1v0.8h-1zM309.06 81.62h0.8v0.8h-0.8zM308.51 81.85h0.8v1h-0.8zM305.47 85.52h1v0.8h-1zM300.98 93.82h0.8v1h-0.8zM304.85 85.25h1v0.8h-1zM306.36 76.32h0.8v0.8h-0.8zM300.13 92.44h1v1h-1zM299.58 88.28h1v0.8h-1zM302.22 95.25h0.8v1h-0.8zM301.4 78.42h0.8v0.8h-0.8zM308.87 90.83h1v1h-1zM303.85 76.21h1v1h-1zM308.57 92.03h1v0.8h-1zM300.16 87.19h0.8v0.8h-0.8zM306.66 76.46h1v0.8h-1zM300.81 86.72h1v0.8h-1zM307.27 87.31h0.8v0.8h-0.8zM308.81 83.36h0.8v0.8h-0.8zM300.63 82.27h1v0.8h-1zM307.78 83.66h0.8v1h-0.8zM305.86 94.27h1v0.8h-1zM302.31 77.18h1v0.8h-1zM300.16 79.63h0.8v1h-0.8zM302.87 85.32h0.8v1h-0.8zM307.35 77.58h0.8v0.8h-0.8zM304.76 94.56h1v1h-1zM298.6 90.24h0.8v0.8h-0.8zM308.02 78.63h0.8v1h-0.8zM308.68 80.11h0.8v0.8h-0.8zM301.16 79.1h1v1h-1zM308.47 79.35h0.8v0.8h-0.8zM301.71 83.9h0.8v0.8h-0.8zM299.3 91.57h0.8v1h-0.8zM306.03 76.32h1v0.8h-1z" fill="#000" fill-opacity="0.6"/>
<path d="M305.88 89.15h1v1.5h-1zM298.1 89.26h1.5v1h-1.5zM310.13 93.19h1v1h-1zM302.76 78.17h1.5v1.5h-1.5zM315.46 78.65h2v1h-2zM306.78 92.99h1.5v1h-1.5zM305.98 78.07h1v1h-1zM313.81 93.16h1.5v1h-1.5zM309.22 76.96h1.5v1h-1.5zM302.7 84.45h1.5v1h-1.5z" fill="#000" fill-opacity="0.4"/>
<rect x="293.7" y="73.3" width="24.6" height="24.6" fill="none" stroke="#222" stroke-width="1.4"/>
<rect x="321.5" y="72.6" width="26" height="26" fill="#fff"/>
<path d="M335.09 77.32h1.3v1.3h-1.3zM334.5 74.97h1.3v1.3h-1.3zM331.34 96.35h1.3v1h-1.3zM332.27 94.76h1v1h-1zM336.62 87.95h1v1h-1zM334.05 86.11h1v1h-1zM335.66 81.22h1v1h-1zM332.63 76.11h1.3v1h-1.3zM331.2 85.5h1.3v1h-1.3zM335.28 94.13h1v1h-1zM327.08 82.14h1.3v1h-1.3zM336.76 77.15h1v1.3h-1zM327.85 91.08h1v1.3h-1zM332.94 76.46h1v1.3h-1zM326.55 89.15h1.3v1.3h-1.3zM334.76 75.21h1v1.3h-1zM337.34 82.26h1v1.3h-1zM336.06 75.19h1.3v1.3h-1.3zM335.06 84.41h1v1.3h-1zM328.5 78.11h1v1.3h-1zM333.22 76.39h1v1h-1zM336.85 82.98h1.3v1.3h-1.3zM336.4 90.44h1.3v1h-1.3zM330.82 76.25h1v1.3h-1zM336.37 79.59h1.3v1h-1.3zM337.74 89.95h1v1h-1zM330.73 79.08h1.3v1h-1.3zM330.94 94.57h1v1.3h-1zM333.43 83.98h1v1h-1zM333.08 84.99h1.3v1.3h-1.3zM328.57 93.21h1v1.3h-1zM332.66 76.42h1.3v1.3h-1.3zM337.87 90.69h1.3v1h-1.3zM337.95 87.45h1.3v1h-1.3zM327.21 94.32h1v1.3h-1zM338.35 90.92h1.3v1h-1.3zM331.34 76.83h1.3v1h-1.3zM334.18 83.87h1.3v1h-1.3zM331.38 75.83h1v1.3h-1zM330.5 87.01h1v1.3h-1zM335.33 76.44h1v1h-1zM328.26 86.38h1.3v1.3h-1.3zM331.54 82.8h1.3v1h-1.3zM333.75 83.75h1.3v1.3h-1.3zM337.09 87.62h1v1h-1zM327.52 88.11h1.3v1h-1.3zM330.03 86.47h1.3v1.3h-1.3zM332.87 84.78h1v1.3h-1zM334.95 93.86h1v1.3h-1zM331.63 85.36h1.3v1h-1.3zM328.05 92.31h1.3v1h-1.3zM328.83 82.79h1.3v1h-1.3zM337.77 88.87h1v1.3h-1zM327.94 80.29h1v1.3h-1zM330.02 93.78h1.3v1h-1.3zM331.63 83.76h1.3v1h-1.3zM334.92 86.24h1.3v1.3h-1.3zM334.67 83.51h1.3v1h-1.3zM331.28 84.76h1v1.3h-1zM328.18 90.34h1.3v1.3h-1.3zM332.09 86.06h1.3v1.3h-1.3zM334.43 86.08h1.3v1h-1.3zM335.98 76.86h1v1h-1zM326.93 81.78h1v1.3h-1zM333.35 94.51h1v1h-1zM327.39 91.52h1v1.3h-1zM336.27 93.66h1.3v1h-1.3zM330.32 82.78h1v1h-1zM327.25 88.47h1.3v1.3h-1.3zM335.41 93.17h1v1.3h-1zM328.66 92.61h1.3v1h-1.3zM327.83 81.29h1.3v1.3h-1.3zM334.49 84.1h1v1.3h-1zM335.73 79.55h1.3v1.3h-1.3zM329.57 77.79h1.3v1.3h-1.3zM331.69 91.89h1v1.3h-1zM332.51 83.8h1.3v1h-1.3zM331.84 84.38h1v1h-1zM329.13 83.41h1.3v1.3h-1.3zM328.65 80.94h1v1h-1zM333.7 85.22h1v1.3h-1zM326.51 87.8h1v1.3h-1zM337.62 91.61h1v1h-1zM326.47 91.39h1v1.3h-1zM330.87 86.26h1v1.3h-1zM335.67 85.67h1v1h-1zM332.82 77.21h1.3v1h-1.3zM328.68 78.78h1.3v1h-1.3zM337.05 83.79h1v1.3h-1zM333.59 85.33h1v1.3h-1z" fill="#000" fill-opacity="0.45"/>
<path d="M335.53 74.63h1.5v1h-1.5zM337.45 78.21h1.5v1h-1.5zM339.04 95h1.5v1h-1.5zM327.56 75.63h2v1h-2zM324.72 93.2h1v1.5h-1zM332.96 81.43h1v1.5h-1zM337.43 94.73h1v1h-1zM325.29 91.31h1v1.5h-1zM331.83 89.7h1v1.5h-1zM331.57 83.8h1v1h-1zM343.49 84.46h1.5v1h-1.5zM327.77 86.64h1v1h-1zM341.12 75.08h2v1.5h-2zM342.76 83.21h1v1h-1zM344.14 92.03h2v1h-2zM330.82 92.7h2v1h-2zM340.03 78.89h1v1h-1zM342.96 80.13h1v1.5h-1zM329.44 80.67h2v1h-2zM343.45 87.26h1v1h-1zM325.9 95.88h1v1.5h-1zM341.99 80.19h1.5v1.5h-1.5zM332.91 94.37h1v1h-1zM334.8 79.39h1.5v1h-1.5zM334.33 82.82h1.5v1h-1.5z" fill="#000" fill-opacity="0.3"/>
<rect x="322.2" y="73.3" width="24.6" height="24.6" fill="none" stroke="#333" stroke-width="1.4"/>
<rect x="210" y="101" width="26" height="26" fill="#fff"/>
<path d="M218.61 106.57h1.3v1h-1.3zM213.61 104.08h1v1h-1zM223.82 105.47h1v1h-1zM220.39 107.03h1v1.3h-1zM226.78 106.61h1.3v1.3h-1.3zM216.41 105.09h1v1.3h-1zM225.66 104.51h1v1.3h-1zM223.15 106.4h1v1.3h-1zM226.03 105.89h1v1h-1zM225.56 107.01h1v1.3h-1zM220.58 105.49h1v1.3h-1zM217.95 104.67h1v1h-1zM214.92 104.12h1.3v1.3h-1.3zM224.29 105.9h1.3v1h-1.3zM218.93 106.4h1v1.3h-1zM228.99 103.63h1v1h-1zM223.85 103.36h1.3v1.3h-1.3zM218.28 103.59h1v1h-1zM223.39 104.91h1v1.3h-1zM228.44 105.23h1.3v1h-1.3zM213.67 105.88h1v1h-1zM223.97 106.27h1.3v1.3h-1.3zM220.23 107.3h1.3v1.3h-1.3zM219.03 104.47h1.3v1.3h-1.3zM216.22 106.64h1.3v1h-1.3zM218.51 106.59h1.3v1h-1.3zM218.56 105.5h1.3v1h-1.3zM222.63 103.34h1.3v1h-1.3zM227.13 105.7h1.3v1.3h-1.3zM225.02 106.71h1v1h-1zM214.56 104.79h1.3v1h-1.3zM228 104.51h1.3v1.3h-1.3zM213.97 107h1.3v1h-1.3zM219.51 105.51h1.3v1h-1.3zM218.48 107.67h1v1.3h-1zM218.73 105.17h1v1.3h-1zM217.59 106.88h1v1h-1zM214.26 104.62h1.3v1h-1.3zM228.72 106.97h1v1.3h-1zM220.99 105.23h1v1h-1zM220.67 105.75h1.3v1h-1.3zM215.97 107.06h1.3v1h-1.3zM216.19 107.42h1.3v1h-1.3zM214.46 103.21h1.3v1h-1.3zM227.23 106.83h1v1.3h-1zM215.3 105.93h1v1h-1zM219.95 104.56h1v1h-1zM222.94 104.84h1.3v1h-1.3zM222.53 105.79h1v1.3h-1zM230.5 104.85h1.3v1h-1.3zM223.98 104.21h1v1h-1zM226.69 105.87h1.3v1h-1.3zM230.62 104.58h1v1h-1zM220.53 107.13h1v1h-1zM220.97 105.97h1v1h-1z" fill="#000" fill-opacity="0.3"/>
<path d="M224.99 109.4h1.3v1h-1.3zM225.82 108.85h1v1.3h-1zM229.79 112.44h1v1.3h-1zM230.21 112.85h1v1h-1zM225.6 109.04h1v1.3h-1zM225.09 109.87h1.3v1.3h-1.3zM228.77 111.65h1v1.3h-1zM229.96 113.35h1.3v1.3h-1.3zM228.91 112.61h1.3v1.3h-1.3zM229.92 113.28h1.3v1.3h-1.3zM228.24 112.01h1v1.3h-1zM227.67 112.09h1.3v1.3h-1.3zM224.95 109.1h1.3v1.3h-1.3zM228.19 112.46h1v1.3h-1zM225.94 109.88h1.3v1h-1.3zM229.26 110.99h1v1h-1zM226.84 109.25h1.3v1.3h-1.3zM225.75 109.91h1.3v1.3h-1.3zM228.88 111.86h1.3v1.3h-1.3zM226.03 108.8h1v1.3h-1zM225.07 108.93h1.3v1.3h-1.3zM230.32 113.43h1.3v1.3h-1.3zM230.1 113.71h1.3v1.3h-1.3zM230.16 113.13h1.3v1h-1.3zM230.98 113.25h1.3v1h-1.3z" fill="#000" fill-opacity="0.85"/>
<path d="M218.41 117.51h1v1.3h-1zM219.13 121.41h1.3v1h-1.3zM218.14 120.85h1v1.3h-1zM218.24 115.91h1v1h-1zM218.37 110.66h1v1.3h-1zM218.11 116.11h1v1h-1zM218.33 114.99h1v1h-1zM219.36 111.17h1v1.3h-1zM218.28 113.65h1.3v1h-1.3zM218.9 114.67h1.3v1.3h-1.3zM218.5 113.26h1v1h-1zM218.68 116.45h1v1h-1zM218.08 113.62h1.3v1.3h-1.3zM218.1 111.14h1v1h-1zM218.02 113.5h1.3v1h-1.3zM218.68 120.05h1.3v1.3h-1.3zM218.4 114.57h1.3v1.3h-1.3zM218.45 119.47h1v1h-1zM217.71 110.58h1v1.3h-1zM218.81 116.41h1v1h-1z" fill="#000" fill-opacity="0.35"/>
<path d="M213.3 117.64h1v1.3h-1zM225.74 116.98h1.3v1.3h-1.3zM226.34 116.78h1.3v1.3h-1.3zM226.15 116.48h1.3v1h-1.3zM225.95 117.45h1.3v1.3h-1.3zM213.33 117.73h1.3v1h-1.3z" fill="#000" fill-opacity="0.6"/>
<rect x="210.7" y="101.7" width="24.6" height="24.6" fill="none" stroke="#222" stroke-width="1.4"/>
<rect x="237.8" y="101" width="26" height="26" fill="#fff"/>
<path d="M248.82 122.58h1.3v1h-1.3zM258.33 120.14h1v1h-1zM248.66 115h1v1h-1zM241.33 110.28h1.3v1.3h-1.3zM255.73 109.51h1.3v1.3h-1.3zM240.37 111h1v1.3h-1zM246.29 108.21h1.3v1.3h-1.3zM252.36 108.18h1v1h-1zM257.99 118.55h1v1.3h-1zM252.69 108.45h1.3v1.3h-1.3zM240.92 111.6h1v1.3h-1zM249.77 121.25h1.3v1h-1.3zM241.43 111.47h1.3v1.3h-1.3zM249.68 123.11h1.3v1h-1.3zM249.96 113.2h1v1h-1zM242.4 113.27h1.3v1h-1.3zM249.69 112.92h1.3v1.3h-1.3zM240.84 111.45h1.3v1.3h-1.3zM241.35 111.7h1.3v1h-1.3zM241.23 113.21h1.3v1h-1.3zM245.55 113.44h1.3v1.3h-1.3zM258.67 119.59h1.3v1h-1.3z" fill="#000" fill-opacity="0.5"/>
<rect x="238.5" y="101.7" width="24.6" height="24.6" fill="none" stroke="#444" stroke-width="1.4"/>
<circle cx="274.3" cy="115.2" r="1.15" fill="#000"/>
<circle cx="278.6" cy="115.2" r="1.15" fill="#000"/>
<circle cx="282.9" cy="115.2" r="1.15" fill="#000"/>
<rect x="293.6" y="101.6" width="25" height="25" fill="#000" stroke="#cc6a2c" stroke-width="1.3"/>
<rect x="322.1" y="101.6" width="25.4" height="25.4" fill="#000" stroke="#cc6a2c" stroke-width="1.3"/>
<rect x="51.1" y="141.1" width="18.4" height="18.3" fill="#fff"/>
<rect x="62.35" y="148.21" width="2.15" height="2.14" fill="rgb(228,228,228)"/>
<rect x="66.45" y="150.25" width="2.15" height="2.14" fill="rgb(201,201,201)"/>
<rect x="66.45" y="150.25" width="2.15" height="2.14" fill="rgb(228,228,228)"/>
<rect x="58.25" y="156.36" width="2.15" height="2.14" fill="rgb(228,228,228)"/>
<rect x="52.1" y="146.17" width="2.15" height="2.14" fill="rgb(201,201,201)"/>
<rect x="62.35" y="142.1" width="2.15" height="2.14" fill="rgb(13,13,13)"/>
<rect x="64.4" y="142.1" width="2.15" height="2.14" fill="rgb(13,13,13)"/>
<rect x="64.4" y="144.14" width="2.15" height="2.14" fill="rgb(40,40,40)"/>
<rect x="60.3" y="142.1" width="2.15" height="2.14" fill="rgb(147,147,147)"/>
<rect x="62.35" y="144.14" width="2.15" height="2.14" fill="rgb(147,147,147)"/>
<rect x="66.45" y="144.14" width="2.15" height="2.14" fill="rgb(201,201,201)"/>
<rect x="51.75" y="141.75" width="17.1" height="17" fill="none" stroke="#333" stroke-width="1.3"/>
<rect x="71.2" y="141.1" width="18.4" height="18.3" fill="#fff"/>
<rect x="76.3" y="156.36" width="2.15" height="2.14" fill="rgb(201,201,201)"/>
<rect x="78.35" y="154.32" width="2.15" height="2.14" fill="rgb(201,201,201)"/>
<rect x="78.35" y="148.21" width="2.15" height="2.14" fill="rgb(201,201,201)"/>
<rect x="82.45" y="148.21" width="2.15" height="2.14" fill="rgb(228,228,228)"/>
<rect x="74.25" y="154.32" width="2.15" height="2.14" fill="rgb(228,228,228)"/>
<rect x="74.25" y="144.14" width="2.15" height="2.14" fill="rgb(13,13,13)"/>
<rect x="74.25" y="146.17" width="2.15" height="2.14" fill="rgb(40,40,40)"/>
<rect x="76.3" y="144.14" width="2.15" height="2.14" fill="rgb(174,174,174)"/>
<rect x="82.45" y="148.21" width="2.15" height="2.14" fill="rgb(174,174,174)"/>
<rect x="84.5" y="154.32" width="2.15" height="2.14" fill="rgb(174,174,174)"/>
<rect x="86.55" y="156.36" width="2.15" height="2.14" fill="rgb(201,201,201)"/>
<rect x="71.85" y="141.75" width="17.1" height="17" fill="none" stroke="#333" stroke-width="1.3"/>
<rect x="91" y="141.1" width="18.4" height="18.3" fill="#fff"/>
<rect x="104.3" y="146.17" width="2.15" height="2.14" fill="rgb(201,201,201)"/>
<rect x="98.15" y="148.21" width="2.15" height="2.14" fill="rgb(201,201,201)"/>
<rect x="104.3" y="146.17" width="2.15" height="2.14" fill="rgb(201,201,201)"/>
<rect x="98.15" y="144.14" width="2.15" height="2.14" fill="rgb(228,228,228)"/>
<rect x="96.1" y="150.25" width="2.15" height="2.14" fill="rgb(228,228,228)"/>
<rect x="100.2" y="146.17" width="2.15" height="2.14" fill="rgb(40,40,40)"/>
<rect x="102.25" y="146.17" width="2.15" height="2.14" fill="rgb(67,67,67)"/>
<rect x="100.2" y="148.21" width="2.15" height="2.14" fill="rgb(93,93,93)"/>
<rect x="98.15" y="150.25" width="2.15" height="2.14" fill="rgb(13,13,13)"/>
<rect x="104.3" y="156.36" width="2.15" height="2.14" fill="rgb(120,120,120)"/>
<rect x="106.35" y="154.32" width="2.15" height="2.14" fill="rgb(174,174,174)"/>
<rect x="96.1" y="146.17" width="2.15" height="2.14" fill="rgb(201,201,201)"/>
<rect x="91.65" y="141.75" width="17.1" height="17" fill="none" stroke="#333" stroke-width="1.3"/>
<rect x="110.7" y="141.1" width="18.4" height="18.3" fill="#fff"/>
<rect x="111.7" y="156.36" width="2.15" height="2.14" fill="rgb(201,201,201)"/>
<rect x="126.05" y="146.17" width="2.15" height="2.14" fill="rgb(228,228,228)"/>
<rect x="111.7" y="148.21" width="2.15" height="2.14" fill="rgb(201,201,201)"/>
<rect x="117.85" y="148.21" width="2.15" height="2.14" fill="rgb(228,228,228)"/>
<rect x="111.7" y="152.29" width="2.15" height="2.14" fill="rgb(201,201,201)"/>
<rect x="111.7" y="146.17" width="2.15" height="2.14" fill="rgb(67,67,67)"/>
<rect x="111.7" y="148.21" width="2.15" height="2.14" fill="rgb(120,120,120)"/>
<rect x="126.05" y="152.29" width="2.15" height="2.14" fill="rgb(40,40,40)"/>
<rect x="121.95" y="146.17" width="2.15" height="2.14" fill="rgb(174,174,174)"/>
<rect x="124" y="152.29" width="2.15" height="2.14" fill="rgb(174,174,174)"/>
<rect x="111.35" y="141.75" width="17.1" height="17" fill="none" stroke="#333" stroke-width="1.3"/>
<rect x="130.3" y="141.1" width="18.4" height="18.3" fill="#fff"/>
<rect x="135.4" y="150.25" width="2.15" height="2.14" fill="rgb(201,201,201)"/>
<rect x="141.55" y="148.21" width="2.15" height="2.14" fill="rgb(228,228,228)"/>
<rect x="145.65" y="152.29" width="2.15" height="2.14" fill="rgb(228,228,228)"/>
<rect x="135.4" y="154.32" width="2.15" height="2.14" fill="rgb(228,228,228)"/>
<rect x="141.55" y="144.14" width="2.15" height="2.14" fill="rgb(201,201,201)"/>
<rect x="141.55" y="152.29" width="2.15" height="2.14" fill="rgb(13,13,13)"/>
<rect x="141.55" y="154.32" width="2.15" height="2.14" fill="rgb(120,120,120)"/>
<rect x="143.6" y="156.36" width="2.15" height="2.14" fill="rgb(93,93,93)"/>
<rect x="133.35" y="144.14" width="2.15" height="2.14" fill="rgb(174,174,174)"/>
<rect x="131.3" y="154.32" width="2.15" height="2.14" fill="rgb(201,201,201)"/>
<rect x="130.95" y="141.75" width="17.1" height="17" fill="none" stroke="#333" stroke-width="1.3"/>
<rect x="150.9" y="141.1" width="18.4" height="18.3" fill="#fff"/>
<rect x="160.1" y="146.17" width="2.15" height="2.14" fill="rgb(228,228,228)"/>
<rect x="153.95" y="142.1" width="2.15" height="2.14" fill="rgb(201,201,201)"/>
<rect x="153.95" y="142.1" width="2.15" height="2.14" fill="rgb(201,201,201)"/>
<rect x="153.95" y="146.17" width="2.15" height="2.14" fill="rgb(201,201,201)"/>
<rect x="156" y="154.32" width="2.15" height="2.14" fill="rgb(228,228,228)"/>
<rect x="166.25" y="150.25" width="2.15" height="2.14" fill="rgb(13,13,13)"/>
<rect x="164.2" y="150.25" width="2.15" height="2.14" fill="rgb(174,174,174)"/>
<rect x="151.55" y="141.75" width="17.1" height="17" fill="none" stroke="#333" stroke-width="1.3"/>
<rect x="171.5" y="141.1" width="18.4" height="18.3" fill="#fff"/>
<rect x="182.75" y="150.25" width="2.15" height="2.14" fill="rgb(228,228,228)"/>
<rect x="182.75" y="152.29" width="2.15" height="2.14" fill="rgb(228,228,228)"/>
<rect x="172.5" y="146.17" width="2.15" height="2.14" fill="rgb(228,228,228)"/>
<rect x="184.8" y="144.14" width="2.15" height="2.14" fill="rgb(201,201,201)"/>
<rect x="174.55" y="146.17" width="2.15" height="2.14" fill="rgb(228,228,228)"/>
<rect x="184.8" y="152.29" width="2.15" height="2.14" fill="rgb(13,13,13)"/>
<rect x="172.5" y="144.14" width="2.15" height="2.14" fill="rgb(147,147,147)"/>
<rect x="172.5" y="146.17" width="2.15" height="2.14" fill="rgb(147,147,147)"/>
<rect x="186.85" y="154.32" width="2.15" height="2.14" fill="rgb(174,174,174)"/>
<rect x="174.55" y="142.1" width="2.15" height="2.14" fill="rgb(174,174,174)"/>
<rect x="172.15" y="141.75" width="17.1" height="17" fill="none" stroke="#333" stroke-width="1.3"/>
<rect x="51.1" y="161.2" width="18.4" height="18.3" fill="#fff"/>
<rect x="66.45" y="166.27" width="2.15" height="2.14" fill="rgb(201,201,201)"/>
<rect x="52.1" y="162.2" width="2.15" height="2.14" fill="rgb(201,201,201)"/>
<rect x="64.4" y="172.39" width="2.15" height="2.14" fill="rgb(228,228,228)"/>
<rect x="62.35" y="176.46" width="2.15" height="2.14" fill="rgb(228,228,228)"/>
<rect x="62.35" y="176.46" width="2.15" height="2.14" fill="rgb(201,201,201)"/>
<rect x="54.15" y="168.31" width="2.15" height="2.14" fill="rgb(13,13,13)"/>
<rect x="58.25" y="168.31" width="2.15" height="2.14" fill="rgb(174,174,174)"/>
<rect x="64.4" y="172.39" width="2.15" height="2.14" fill="rgb(147,147,147)"/>
<rect x="52.1" y="174.42" width="2.15" height="2.14" fill="rgb(174,174,174)"/>
<rect x="54.15" y="166.27" width="2.15" height="2.14" fill="rgb(174,174,174)"/>
<rect x="51.75" y="161.85" width="17.1" height="17" fill="none" stroke="#333" stroke-width="1.3"/>
<rect x="71.2" y="161.2" width="18.4" height="18.3" fill="#fff"/>
<rect x="82.45" y="176.46" width="2.15" height="2.14" fill="rgb(201,201,201)"/>
<rect x="80.4" y="176.46" width="2.15" height="2.14" fill="rgb(228,228,228)"/>
<rect x="72.2" y="174.42" width="2.15" height="2.14" fill="rgb(201,201,201)"/>
<rect x="76.3" y="164.24" width="2.15" height="2.14" fill="rgb(228,228,228)"/>
<rect x="76.3" y="164.24" width="2.15" height="2.14" fill="rgb(228,228,228)"/>
<rect x="80.4" y="170.35" width="2.15" height="2.14" fill="rgb(13,13,13)"/>
<rect x="82.45" y="170.35" width="2.15" height="2.14" fill="rgb(40,40,40)"/>
<rect x="80.4" y="168.31" width="2.15" height="2.14" fill="rgb(67,67,67)"/>
<rect x="80.4" y="172.39" width="2.15" height="2.14" fill="rgb(93,93,93)"/>
<rect x="78.35" y="170.35" width="2.15" height="2.14" fill="rgb(147,147,147)"/>
<rect x="71.85" y="161.85" width="17.1" height="17" fill="none" stroke="#333" stroke-width="1.3"/>
<rect x="91" y="161.2" width="18.4" height="18.3" fill="#fff"/>
<rect x="102.25" y="168.31" width="2.15" height="2.14" fill="rgb(201,201,201)"/>
<rect x="94.05" y="164.24" width="2.15" height="2.14" fill="rgb(228,228,228)"/>
<rect x="100.2" y="170.35" width="2.15" height="2.14" fill="rgb(201,201,201)"/>
<rect x="94.05" y="172.39" width="2.15" height="2.14" fill="rgb(201,201,201)"/>
<rect x="102.25" y="168.31" width="2.15" height="2.14" fill="rgb(228,228,228)"/>
<rect x="92" y="172.39" width="2.15" height="2.14" fill="rgb(40,40,40)"/>
<rect x="92" y="174.42" width="2.15" height="2.14" fill="rgb(147,147,147)"/>
<rect x="94.05" y="172.39" width="2.15" height="2.14" fill="rgb(174,174,174)"/>
<rect x="91.65" y="161.85" width="17.1" height="17" fill="none" stroke="#333" stroke-width="1.3"/>
<rect x="110.7" y="161.2" width="18.4" height="18.3" fill="#fff"/>
<rect x="124" y="168.31" width="2.15" height="2.14" fill="rgb(201,201,201)"/>
<rect x="124" y="168.31" width="2.15" height="2.14" fill="rgb(201,201,201)"/>
<rect x="115.8" y="166.27" width="2.15" height="2.14" fill="rgb(228,228,228)"/>
<rect x="121.95" y="162.2" width="2.15" height="2.14" fill="rgb(201,201,201)"/>
<rect x="124" y="168.31" width="2.15" height="2.14" fill="rgb(201,201,201)"/>
<rect x="117.85" y="170.35" width="2.15" height="2.14" fill="rgb(13,13,13)"/>
<rect x="113.75" y="164.24" width="2.15" height="2.14" fill="rgb(147,147,147)"/>
<rect x="115.8" y="166.27" width="2.15" height="2.14" fill="rgb(174,174,174)"/>
<rect x="117.85" y="166.27" width="2.15" height="2.14" fill="rgb(147,147,147)"/>
<rect x="115.8" y="168.31" width="2.15" height="2.14" fill="rgb(174,174,174)"/>
<rect x="119.9" y="164.24" width="2.15" height="2.14" fill="rgb(201,201,201)"/>
<rect x="111.35" y="161.85" width="17.1" height="17" fill="none" stroke="#333" stroke-width="1.3"/>
<rect x="130.3" y="161.2" width="18.4" height="18.3" fill="#fff"/>
<rect x="141.55" y="174.42" width="2.15" height="2.14" fill="rgb(201,201,201)"/>
<rect x="143.6" y="168.31" width="2.15" height="2.14" fill="rgb(228,228,228)"/>
<rect x="141.55" y="176.46" width="2.15" height="2.14" fill="rgb(201,201,201)"/>
<rect x="139.5" y="164.24" width="2.15" height="2.14" fill="rgb(201,201,201)"/>
<rect x="145.65" y="162.2" width="2.15" height="2.14" fill="rgb(228,228,228)"/>
<rect x="131.3" y="172.39" width="2.15" height="2.14" fill="rgb(120,120,120)"/>
<rect x="133.35" y="174.42" width="2.15" height="2.14" fill="rgb(120,120,120)"/>
<rect x="135.4" y="174.42" width="2.15" height="2.14" fill="rgb(147,147,147)"/>
<rect x="131.3" y="176.46" width="2.15" height="2.14" fill="rgb(174,174,174)"/>
<rect x="137.45" y="176.46" width="2.15" height="2.14" fill="rgb(147,147,147)"/>
<rect x="133.35" y="172.39" width="2.15" height="2.14" fill="rgb(174,174,174)"/>
<rect x="139.5" y="170.35" width="2.15" height="2.14" fill="rgb(201,201,201)"/>
<rect x="130.95" y="161.85" width="17.1" height="17" fill="none" stroke="#333" stroke-width="1.3"/>
<rect x="150.9" y="161.2" width="18.4" height="18.3" fill="#fff"/>
<rect x="151.9" y="164.24" width="2.15" height="2.14" fill="rgb(201,201,201)"/>
<rect x="158.05" y="164.24" width="2.15" height="2.14" fill="rgb(201,201,201)"/>
<rect x="160.1" y="176.46" width="2.15" height="2.14" fill="rgb(228,228,228)"/>
<rect x="151.9" y="168.31" width="2.15" height="2.14" fill="rgb(201,201,201)"/>
<rect x="156" y="172.39" width="2.15" height="2.14" fill="rgb(228,228,228)"/>
<rect x="151.9" y="168.31" width="2.15" height="2.14" fill="rgb(13,13,13)"/>
<rect x="153.95" y="170.35" width="2.15" height="2.14" fill="rgb(93,93,93)"/>
<rect x="156" y="170.35" width="2.15" height="2.14" fill="rgb(120,120,120)"/>
<rect x="158.05" y="172.39" width="2.15" height="2.14" fill="rgb(120,120,120)"/>
<rect x="160.1" y="174.42" width="2.15" height="2.14" fill="rgb(93,93,93)"/>
<rect x="153.95" y="168.31" width="2.15" height="2.14" fill="rgb(174,174,174)"/>
<rect x="160.1" y="166.27" width="2.15" height="2.14" fill="rgb(174,174,174)"/>
<rect x="162.15" y="172.39" width="2.15" height="2.14" fill="rgb(174,174,174)"/>
<rect x="151.55" y="161.85" width="17.1" height="17" fill="none" stroke="#333" stroke-width="1.3"/>
<rect x="171.5" y="161.2" width="18.4" height="18.3" fill="#fff"/>
<rect x="180.7" y="164.24" width="2.15" height="2.14" fill="rgb(228,228,228)"/>
<rect x="172.5" y="172.39" width="2.15" height="2.14" fill="rgb(201,201,201)"/>
<rect x="182.75" y="162.2" width="2.15" height="2.14" fill="rgb(201,201,201)"/>
<rect x="186.85" y="164.24" width="2.15" height="2.14" fill="rgb(201,201,201)"/>
<rect x="180.7" y="166.27" width="2.15" height="2.14" fill="rgb(228,228,228)"/>
<rect x="174.55" y="162.2" width="2.15" height="2.14" fill="rgb(13,13,13)"/>
<rect x="176.6" y="162.2" width="2.15" height="2.14" fill="rgb(40,40,40)"/>
<rect x="178.65" y="162.2" width="2.15" height="2.14" fill="rgb(13,13,13)"/>
<rect x="180.7" y="162.2" width="2.15" height="2.14" fill="rgb(40,40,40)"/>
<rect x="182.75" y="162.2" width="2.15" height="2.14" fill="rgb(13,13,13)"/>
<rect x="184.8" y="162.2" width="2.15" height="2.14" fill="rgb(40,40,40)"/>
<rect x="172.5" y="176.46" width="2.15" height="2.14" fill="rgb(120,120,120)"/>
<rect x="174.55" y="176.46" width="2.15" height="2.14" fill="rgb(120,120,120)"/>
<rect x="182.75" y="170.35" width="2.15" height="2.14" fill="rgb(174,174,174)"/>
<rect x="184.8" y="166.27" width="2.15" height="2.14" fill="rgb(174,174,174)"/>
<rect x="172.15" y="161.85" width="17.1" height="17" fill="none" stroke="#333" stroke-width="1.3"/>
<rect x="51.1" y="181.9" width="18.4" height="18.3" fill="#fff"/>
<rect x="60.3" y="193.09" width="2.15" height="2.14" fill="rgb(228,228,228)"/>
<rect x="58.25" y="191.05" width="2.15" height="2.14" fill="rgb(201,201,201)"/>
<rect x="54.15" y="191.05" width="2.15" height="2.14" fill="rgb(201,201,201)"/>
<rect x="54.15" y="195.12" width="2.15" height="2.14" fill="rgb(201,201,201)"/>
<rect x="60.3" y="197.16" width="2.15" height="2.14" fill="rgb(228,228,228)"/>
<rect x="62.35" y="184.94" width="2.15" height="2.14" fill="rgb(67,67,67)"/>
<rect x="64.4" y="184.94" width="2.15" height="2.14" fill="rgb(120,120,120)"/>
<rect x="64.4" y="191.05" width="2.15" height="2.14" fill="rgb(13,13,13)"/>
<rect x="52.1" y="197.16" width="2.15" height="2.14" fill="rgb(174,174,174)"/>
<rect x="51.75" y="182.55" width="17.1" height="17" fill="none" stroke="#222" stroke-width="1.3"/>
<rect x="71.2" y="181.9" width="18.4" height="18.3" fill="#fff"/>
<rect x="72.2" y="184.94" width="2.15" height="2.14" fill="rgb(201,201,201)"/>
<rect x="78.35" y="195.12" width="2.15" height="2.14" fill="rgb(201,201,201)"/>
<rect x="84.5" y="191.05" width="2.15" height="2.14" fill="rgb(201,201,201)"/>
<rect x="78.35" y="184.94" width="2.15" height="2.14" fill="rgb(201,201,201)"/>
<rect x="80.4" y="186.97" width="2.15" height="2.14" fill="rgb(228,228,228)"/>
<rect x="74.25" y="184.94" width="2.15" height="2.14" fill="rgb(174,174,174)"/>
<rect x="78.35" y="193.09" width="2.15" height="2.14" fill="rgb(13,13,13)"/>
<rect x="80.4" y="193.09" width="2.15" height="2.14" fill="rgb(40,40,40)"/>
<rect x="84.5" y="182.9" width="2.15" height="2.14" fill="rgb(120,120,120)"/>
<rect x="76.3" y="191.05" width="2.15" height="2.14" fill="rgb(120,120,120)"/>
<rect x="71.85" y="182.55" width="17.1" height="17" fill="none" stroke="#222" stroke-width="1.3"/>
<rect x="91" y="181.9" width="18.4" height="18.3" fill="#fff"/>
<rect x="100.2" y="197.16" width="2.15" height="2.14" fill="rgb(228,228,228)"/>
<rect x="102.25" y="189.01" width="2.15" height="2.14" fill="rgb(201,201,201)"/>
<rect x="102.25" y="193.09" width="2.15" height="2.14" fill="rgb(201,201,201)"/>
<rect x="100.2" y="195.12" width="2.15" height="2.14" fill="rgb(201,201,201)"/>
<rect x="98.15" y="184.94" width="2.15" height="2.14" fill="rgb(228,228,228)"/>
<rect x="98.15" y="193.09" width="2.15" height="2.14" fill="rgb(67,67,67)"/>
<rect x="102.25" y="191.05" width="2.15" height="2.14" fill="rgb(174,174,174)"/>
<rect x="96.1" y="195.12" width="2.15" height="2.14" fill="rgb(174,174,174)"/>
<rect x="102.25" y="186.97" width="2.15" height="2.14" fill="rgb(174,174,174)"/>
<rect x="94.05" y="184.94" width="2.15" height="2.14" fill="rgb(201,201,201)"/>
<rect x="91.65" y="182.55" width="17.1" height="17" fill="none" stroke="#222" stroke-width="1.3"/>
<circle cx="115.2" cy="191.6" r="1.15" fill="#000"/>
<circle cx="119.5" cy="191.6" r="1.15" fill="#000"/>
<circle cx="123.8" cy="191.6" r="1.15" fill="#000"/>
<rect x="130.9" y="182.5" width="18.4" height="17.7" fill="#000" stroke="#cc6a2c" stroke-width="1.3"/>
<rect x="151.5" y="182.5" width="18.4" height="17.7" fill="#000" stroke="#cc6a2c" stroke-width="1.3"/>
<rect x="172.1" y="182.5" width="18.4" height="17.7" fill="#000" stroke="#cc6a2c" stroke-width="1.3"/>
<rect x="210.3" y="141.1" width="18.6" height="18.4" fill="#fff"/>
<rect x="223.75" y="152.35" width="2.18" height="2.15" fill="rgb(228,228,228)"/>
<rect x="213.38" y="148.25" width="2.18" height="2.15" fill="rgb(228,228,228)"/>
<rect x="213.38" y="152.35" width="2.18" height="2.15" fill="rgb(228,228,228)"/>
<rect x="219.6" y="148.25" width="2.18" height="2.15" fill="rgb(228,228,228)"/>
<rect x="223.75" y="148.25" width="2.18" height="2.15" fill="rgb(228,228,228)"/>
<rect x="211.3" y="150.3" width="2.18" height="2.15" fill="rgb(13,13,13)"/>
<rect x="213.38" y="150.3" width="2.18" height="2.15" fill="rgb(147,147,147)"/>
<rect x="213.38" y="152.35" width="2.18" height="2.15" fill="rgb(147,147,147)"/>
<rect x="221.68" y="148.25" width="2.18" height="2.15" fill="rgb(13,13,13)"/>
<rect x="223.75" y="150.3" width="2.18" height="2.15" fill="rgb(147,147,147)"/>
<rect x="215.45" y="154.4" width="2.18" height="2.15" fill="rgb(174,174,174)"/>
<rect x="221.68" y="150.3" width="2.18" height="2.15" fill="rgb(174,174,174)"/>
<rect x="210.95" y="141.75" width="17.3" height="17.1" fill="none" stroke="#333" stroke-width="1.3"/>
<rect x="230.4" y="141.1" width="18.6" height="18.4" fill="#fff"/>
<rect x="233.47" y="146.2" width="2.18" height="2.15" fill="rgb(201,201,201)"/>
<rect x="237.62" y="154.4" width="2.18" height="2.15" fill="rgb(201,201,201)"/>
<rect x="239.7" y="148.25" width="2.18" height="2.15" fill="rgb(228,228,228)"/>
<rect x="231.4" y="146.2" width="2.18" height="2.15" fill="rgb(228,228,228)"/>
<rect x="241.78" y="142.1" width="2.18" height="2.15" fill="rgb(201,201,201)"/>
<rect x="231.4" y="142.1" width="2.18" height="2.15" fill="rgb(13,13,13)"/>
<rect x="233.47" y="142.1" width="2.18" height="2.15" fill="rgb(67,67,67)"/>
<rect x="235.55" y="148.25" width="2.18" height="2.15" fill="rgb(40,40,40)"/>
<rect x="237.62" y="148.25" width="2.18" height="2.15" fill="rgb(120,120,120)"/>
<rect x="237.62" y="150.3" width="2.18" height="2.15" fill="rgb(93,93,93)"/>
<rect x="237.62" y="152.35" width="2.18" height="2.15" fill="rgb(93,93,93)"/>
<rect x="235.55" y="154.4" width="2.18" height="2.15" fill="rgb(13,13,13)"/>
<rect x="243.85" y="148.25" width="2.18" height="2.15" fill="rgb(147,147,147)"/>
<rect x="243.85" y="150.3" width="2.18" height="2.15" fill="rgb(174,174,174)"/>
<rect x="233.47" y="152.35" width="2.18" height="2.15" fill="rgb(174,174,174)"/>
<rect x="235.55" y="156.45" width="2.18" height="2.15" fill="rgb(174,174,174)"/>
<rect x="231.05" y="141.75" width="17.3" height="17.1" fill="none" stroke="#333" stroke-width="1.3"/>
<rect x="250.2" y="141.1" width="18.6" height="18.4" fill="#fff"/>
<rect x="253.27" y="156.45" width="2.18" height="2.15" fill="rgb(228,228,228)"/>
<rect x="255.35" y="152.35" width="2.18" height="2.15" fill="rgb(228,228,228)"/>
<rect x="263.65" y="152.35" width="2.18" height="2.15" fill="rgb(228,228,228)"/>
<rect x="261.57" y="146.2" width="2.18" height="2.15" fill="rgb(201,201,201)"/>
<rect x="255.35" y="150.3" width="2.18" height="2.15" fill="rgb(201,201,201)"/>
<rect x="255.35" y="142.1" width="2.18" height="2.15" fill="rgb(147,147,147)"/>
<rect x="257.43" y="142.1" width="2.18" height="2.15" fill="rgb(120,120,120)"/>
<rect x="257.43" y="144.15" width="2.18" height="2.15" fill="rgb(147,147,147)"/>
<rect x="255.35" y="146.2" width="2.18" height="2.15" fill="rgb(174,174,174)"/>
<rect x="259.5" y="148.25" width="2.18" height="2.15" fill="rgb(147,147,147)"/>
<rect x="261.57" y="148.25" width="2.18" height="2.15" fill="rgb(120,120,120)"/>
<rect x="261.57" y="150.3" width="2.18" height="2.15" fill="rgb(40,40,40)"/>
<rect x="261.57" y="152.35" width="2.18" height="2.15" fill="rgb(13,13,13)"/>
<rect x="263.65" y="152.35" width="2.18" height="2.15" fill="rgb(93,93,93)"/>
<rect x="259.5" y="144.15" width="2.18" height="2.15" fill="rgb(174,174,174)"/>
<rect x="250.85" y="141.75" width="17.3" height="17.1" fill="none" stroke="#333" stroke-width="1.3"/>
<rect x="270.6" y="141.1" width="18.6" height="18.4" fill="#fff"/>
<rect x="286.12" y="148.25" width="2.18" height="2.15" fill="rgb(228,228,228)"/>
<rect x="277.83" y="148.25" width="2.18" height="2.15" fill="rgb(201,201,201)"/>
<rect x="281.98" y="146.2" width="2.18" height="2.15" fill="rgb(201,201,201)"/>
<rect x="275.75" y="142.1" width="2.18" height="2.15" fill="rgb(201,201,201)"/>
<rect x="279.9" y="148.25" width="2.18" height="2.15" fill="rgb(201,201,201)"/>
<rect x="281.98" y="148.25" width="2.18" height="2.15" fill="rgb(13,13,13)"/>
<rect x="279.9" y="150.3" width="2.18" height="2.15" fill="rgb(120,120,120)"/>
<rect x="279.9" y="152.35" width="2.18" height="2.15" fill="rgb(120,120,120)"/>
<rect x="277.83" y="146.2" width="2.18" height="2.15" fill="rgb(174,174,174)"/>
<rect x="284.05" y="144.15" width="2.18" height="2.15" fill="rgb(147,147,147)"/>
<rect x="281.98" y="146.2" width="2.18" height="2.15" fill="rgb(174,174,174)"/>
<rect x="277.83" y="150.3" width="2.18" height="2.15" fill="rgb(174,174,174)"/>
<rect x="271.25" y="141.75" width="17.3" height="17.1" fill="none" stroke="#333" stroke-width="1.3"/>
<rect x="290.2" y="141.1" width="18.6" height="18.4" fill="#fff"/>
<rect x="291.2" y="146.2" width="2.18" height="2.15" fill="rgb(228,228,228)"/>
<rect x="299.5" y="146.2" width="2.18" height="2.15" fill="rgb(201,201,201)"/>
<rect x="301.57" y="142.1" width="2.18" height="2.15" fill="rgb(201,201,201)"/>
<rect x="303.65" y="156.45" width="2.18" height="2.15" fill="rgb(228,228,228)"/>
<rect x="295.35" y="154.4" width="2.18" height="2.15" fill="rgb(228,228,228)"/>
<rect x="295.35" y="148.25" width="2.18" height="2.15" fill="rgb(13,13,13)"/>
<rect x="295.35" y="152.35" width="2.18" height="2.15" fill="rgb(40,40,40)"/>
<rect x="295.35" y="154.4" width="2.18" height="2.15" fill="rgb(40,40,40)"/>
<rect x="291.2" y="148.25" width="2.18" height="2.15" fill="rgb(120,120,120)"/>
<rect x="301.57" y="148.25" width="2.18" height="2.15" fill="rgb(147,147,147)"/>
<rect x="303.65" y="148.25" width="2.18" height="2.15" fill="rgb(147,147,147)"/>
<rect x="305.72" y="148.25" width="2.18" height="2.15" fill="rgb(147,147,147)"/>
<rect x="299.5" y="146.2" width="2.18" height="2.15" fill="rgb(174,174,174)"/>
<rect x="299.5" y="150.3" width="2.18" height="2.15" fill="rgb(174,174,174)"/>
<rect x="295.35" y="144.15" width="2.18" height="2.15" fill="rgb(201,201,201)"/>
<rect x="297.43" y="156.45" width="2.18" height="2.15" fill="rgb(174,174,174)"/>
<rect x="290.85" y="141.75" width="17.3" height="17.1" fill="none" stroke="#333" stroke-width="1.3"/>
<rect x="310" y="141.1" width="18.6" height="18.4" fill="#fff"/>
<rect x="325.52" y="152.35" width="2.18" height="2.15" fill="rgb(201,201,201)"/>
<rect x="311" y="154.4" width="2.18" height="2.15" fill="rgb(228,228,228)"/>
<rect x="325.52" y="142.1" width="2.18" height="2.15" fill="rgb(201,201,201)"/>
<rect x="317.23" y="148.25" width="2.18" height="2.15" fill="rgb(201,201,201)"/>
<rect x="317.23" y="152.35" width="2.18" height="2.15" fill="rgb(228,228,228)"/>
<rect x="317.23" y="148.25" width="2.18" height="2.15" fill="rgb(13,13,13)"/>
<rect x="317.23" y="150.3" width="2.18" height="2.15" fill="rgb(13,13,13)"/>
<rect x="317.23" y="152.35" width="2.18" height="2.15" fill="rgb(40,40,40)"/>
<rect x="321.38" y="150.3" width="2.18" height="2.15" fill="rgb(13,13,13)"/>
<rect x="321.38" y="152.35" width="2.18" height="2.15" fill="rgb(40,40,40)"/>
<rect x="321.38" y="144.15" width="2.18" height="2.15" fill="rgb(40,40,40)"/>
<rect x="323.45" y="146.2" width="2.18" height="2.15" fill="rgb(93,93,93)"/>
<rect x="313.07" y="154.4" width="2.18" height="2.15" fill="rgb(174,174,174)"/>
<rect x="323.45" y="154.4" width="2.18" height="2.15" fill="rgb(174,174,174)"/>
<rect x="313.07" y="146.2" width="2.18" height="2.15" fill="rgb(201,201,201)"/>
<rect x="317.23" y="154.4" width="2.18" height="2.15" fill="rgb(147,147,147)"/>
<rect x="310.65" y="141.75" width="17.3" height="17.1" fill="none" stroke="#333" stroke-width="1.3"/>
<rect x="330.4" y="141.1" width="18.6" height="18.4" fill="#fff"/>
<rect x="333.47" y="142.1" width="2.18" height="2.15" fill="rgb(228,228,228)"/>
<rect x="345.92" y="144.15" width="2.18" height="2.15" fill="rgb(228,228,228)"/>
<rect x="333.47" y="150.3" width="2.18" height="2.15" fill="rgb(201,201,201)"/>
<rect x="345.92" y="154.4" width="2.18" height="2.15" fill="rgb(228,228,228)"/>
<rect x="331.4" y="148.25" width="2.18" height="2.15" fill="rgb(201,201,201)"/>
<rect x="335.55" y="144.15" width="2.18" height="2.15" fill="rgb(174,174,174)"/>
<rect x="337.62" y="144.15" width="2.18" height="2.15" fill="rgb(174,174,174)"/>
<rect x="339.7" y="144.15" width="2.18" height="2.15" fill="rgb(147,147,147)"/>
<rect x="337.62" y="146.2" width="2.18" height="2.15" fill="rgb(147,147,147)"/>
<rect x="339.7" y="146.2" width="2.18" height="2.15" fill="rgb(120,120,120)"/>
<rect x="335.55" y="150.3" width="2.18" height="2.15" fill="rgb(40,40,40)"/>
<rect x="339.7" y="148.25" width="2.18" height="2.15" fill="rgb(67,67,67)"/>
<rect x="339.7" y="150.3" width="2.18" height="2.15" fill="rgb(13,13,13)"/>
<rect x="343.85" y="148.25" width="2.18" height="2.15" fill="rgb(13,13,13)"/>
<rect x="343.85" y="150.3" width="2.18" height="2.15" fill="rgb(120,120,120)"/>
<rect x="335.55" y="152.35" width="2.18" height="2.15" fill="rgb(147,147,147)"/>
<rect x="339.7" y="152.35" width="2.18" height="2.15" fill="rgb(147,147,147)"/>
<rect x="337.62" y="150.3" width="2.18" height="2.15" fill="rgb(93,93,93)"/>
<rect x="331.05" y="141.75" width="17.3" height="17.1" fill="none" stroke="#333" stroke-width="1.3"/>
<rect x="210.3" y="161" width="18.6" height="18.4" fill="#fff"/>
<rect x="225.83" y="172.25" width="2.18" height="2.15" fill="rgb(201,201,201)"/>
<rect x="211.3" y="174.3" width="2.18" height="2.15" fill="rgb(201,201,201)"/>
<rect x="225.83" y="176.35" width="2.18" height="2.15" fill="rgb(228,228,228)"/>
<rect x="217.53" y="170.2" width="2.18" height="2.15" fill="rgb(228,228,228)"/>
<rect x="219.6" y="172.25" width="2.18" height="2.15" fill="rgb(228,228,228)"/>
<rect x="211.3" y="168.15" width="2.18" height="2.15" fill="rgb(13,13,13)"/>
<rect x="213.38" y="168.15" width="2.18" height="2.15" fill="rgb(40,40,40)"/>
<rect x="215.45" y="168.15" width="2.18" height="2.15" fill="rgb(93,93,93)"/>
<rect x="221.68" y="170.2" width="2.18" height="2.15" fill="rgb(40,40,40)"/>
<rect x="223.75" y="170.2" width="2.18" height="2.15" fill="rgb(13,13,13)"/>
<rect x="219.6" y="172.25" width="2.18" height="2.15" fill="rgb(67,67,67)"/>
<rect x="219.6" y="174.3" width="2.18" height="2.15" fill="rgb(40,40,40)"/>
<rect x="217.53" y="166.1" width="2.18" height="2.15" fill="rgb(174,174,174)"/>
<rect x="215.45" y="164.05" width="2.18" height="2.15" fill="rgb(201,201,201)"/>
<rect x="210.95" y="161.65" width="17.3" height="17.1" fill="none" stroke="#222" stroke-width="1.3"/>
<rect x="230.4" y="161" width="18.6" height="18.4" fill="#fff"/>
<rect x="233.47" y="164.05" width="2.18" height="2.15" fill="rgb(228,228,228)"/>
<rect x="245.93" y="162" width="2.18" height="2.15" fill="rgb(228,228,228)"/>
<rect x="237.62" y="162" width="2.18" height="2.15" fill="rgb(228,228,228)"/>
<rect x="233.47" y="174.3" width="2.18" height="2.15" fill="rgb(228,228,228)"/>
<rect x="245.93" y="174.3" width="2.18" height="2.15" fill="rgb(228,228,228)"/>
<rect x="239.7" y="164.05" width="2.18" height="2.15" fill="rgb(13,13,13)"/>
<rect x="241.78" y="166.1" width="2.18" height="2.15" fill="rgb(13,13,13)"/>
<rect x="243.85" y="166.1" width="2.18" height="2.15" fill="rgb(40,40,40)"/>
<rect x="239.7" y="166.1" width="2.18" height="2.15" fill="rgb(67,67,67)"/>
<rect x="237.62" y="168.15" width="2.18" height="2.15" fill="rgb(147,147,147)"/>
<rect x="233.47" y="170.2" width="2.18" height="2.15" fill="rgb(147,147,147)"/>
<rect x="235.55" y="170.2" width="2.18" height="2.15" fill="rgb(174,174,174)"/>
<rect x="231.4" y="172.25" width="2.18" height="2.15" fill="rgb(93,93,93)"/>
<rect x="237.62" y="174.3" width="2.18" height="2.15" fill="rgb(147,147,147)"/>
<rect x="241.78" y="164.05" width="2.18" height="2.15" fill="rgb(120,120,120)"/>
<rect x="231.05" y="161.65" width="17.3" height="17.1" fill="none" stroke="#222" stroke-width="1.3"/>
<rect x="250.2" y="161" width="18.6" height="18.4" fill="#fff"/>
<rect x="265.72" y="166.1" width="2.18" height="2.15" fill="rgb(228,228,228)"/>
<rect x="255.35" y="164.05" width="2.18" height="2.15" fill="rgb(228,228,228)"/>
<rect x="259.5" y="162" width="2.18" height="2.15" fill="rgb(201,201,201)"/>
<rect x="263.65" y="166.1" width="2.18" height="2.15" fill="rgb(228,228,228)"/>
<rect x="261.57" y="172.25" width="2.18" height="2.15" fill="rgb(201,201,201)"/>
<rect x="255.35" y="166.1" width="2.18" height="2.15" fill="rgb(174,174,174)"/>
<rect x="257.43" y="168.15" width="2.18" height="2.15" fill="rgb(174,174,174)"/>
<rect x="255.35" y="170.2" width="2.18" height="2.15" fill="rgb(174,174,174)"/>
<rect x="253.27" y="172.25" width="2.18" height="2.15" fill="rgb(174,174,174)"/>
<rect x="259.5" y="164.05" width="2.18" height="2.15" fill="rgb(201,201,201)"/>
<rect x="265.72" y="168.15" width="2.18" height="2.15" fill="rgb(40,40,40)"/>
<rect x="265.72" y="170.2" width="2.18" height="2.15" fill="rgb(13,13,13)"/>
<rect x="265.72" y="172.25" width="2.18" height="2.15" fill="rgb(67,67,67)"/>
<rect x="257.43" y="172.25" width="2.18" height="2.15" fill="rgb(201,201,201)"/>
<rect x="250.85" y="161.65" width="17.3" height="17.1" fill="none" stroke="#222" stroke-width="1.3"/>
<circle cx="275.1" cy="170.7" r="1.15" fill="#000"/>
<circle cx="279.6" cy="170.7" r="1.15" fill="#000"/>
<circle cx="284.1" cy="170.7" r="1.15" fill="#000"/>
<rect x="290.8" y="161.6" width="17.9" height="17.6" fill="#000" stroke="#cc6a2c" stroke-width="1.3"/>
<rect x="310.6" y="161.6" width="17.9" height="17.6" fill="#000" stroke="#cc6a2c" stroke-width="1.3"/>
<rect x="331" y="161.6" width="17.9" height="17.6" fill="#000" stroke="#cc6a2c" stroke-width="1.3"/>
<rect x="210.9" y="181.6" width="17.9" height="17.8" fill="#000" stroke="#cc6a2c" stroke-width="1.3"/>
<rect x="231" y="181.6" width="17.9" height="17.8" fill="#000" stroke="#cc6a2c" stroke-width="1.3"/>
<rect x="250.8" y="181.6" width="17.9" height="17.8" fill="#000" stroke="#cc6a2c" stroke-width="1.3"/>
<rect x="271.2" y="181.6" width="17.9" height="17.8" fill="#000" stroke="#cc6a2c" stroke-width="1.3"/>
<rect x="290.8" y="181.6" width="17.9" height="17.8" fill="#000" stroke="#cc6a2c" stroke-width="1.3"/>
<rect x="310.6" y="181.6" width="17.9" height="17.8" fill="#000" stroke="#cc6a2c" stroke-width="1.3"/>
<rect x="331" y="181.6" width="17.9" height="17.8" fill="#000" stroke="#cc6a2c" stroke-width="1.3"/>
<rect x="51.9" y="208.9" width="13.8" height="14.1" fill="#fff"/>
<rect x="55.85" y="209.9" width="3.05" height="3.12" fill="rgb(8,8,8)"/>
<rect x="52.55" y="209.55" width="12.5" height="12.8" fill="none" stroke="#222" stroke-width="1.3"/>
<rect x="66.9" y="208.9" width="13.8" height="14.1" fill="#fff"/>
<rect x="70.85" y="209.9" width="3.05" height="3.12" fill="rgb(8,8,8)"/>
<rect x="76.75" y="212.93" width="3.05" height="3.12" fill="rgb(200,200,200)"/>
<rect x="70.85" y="218.97" width="3.05" height="3.12" fill="rgb(8,8,8)"/>
<rect x="67.55" y="209.55" width="12.5" height="12.8" fill="none" stroke="#222" stroke-width="1.3"/>
<rect x="81.2" y="208.9" width="13.8" height="14.1" fill="#fff"/>
<rect x="88.1" y="209.9" width="3.05" height="3.12" fill="rgb(200,200,200)"/>
<rect x="91.05" y="212.93" width="3.05" height="3.12" fill="rgb(200,200,200)"/>
<rect x="91.05" y="215.95" width="3.05" height="3.12" fill="rgb(8,8,8)"/>
<rect x="81.85" y="209.55" width="12.5" height="12.8" fill="none" stroke="#222" stroke-width="1.3"/>
<rect x="96.4" y="208.9" width="13.8" height="14.1" fill="#fff"/>
<rect x="100.35" y="209.9" width="3.05" height="3.12" fill="rgb(172,172,172)"/>
<rect x="106.25" y="209.9" width="3.05" height="3.12" fill="rgb(145,145,145)"/>
<rect x="97.4" y="218.97" width="3.05" height="3.12" fill="rgb(8,8,8)"/>
<rect x="100.35" y="218.97" width="3.05" height="3.12" fill="rgb(8,8,8)"/>
<rect x="103.3" y="218.97" width="3.05" height="3.12" fill="rgb(8,8,8)"/>
<rect x="106.25" y="218.97" width="3.05" height="3.12" fill="rgb(117,117,117)"/>
<rect x="97.05" y="209.55" width="12.5" height="12.8" fill="none" stroke="#222" stroke-width="1.3"/>
<rect x="111.7" y="208.9" width="13.8" height="14.1" fill="#fff"/>
<rect x="112.7" y="212.93" width="3.05" height="3.12" fill="rgb(200,200,200)"/>
<rect x="115.65" y="212.93" width="3.05" height="3.12" fill="rgb(200,200,200)"/>
<rect x="118.6" y="212.93" width="3.05" height="3.12" fill="rgb(172,172,172)"/>
<rect x="112.7" y="215.95" width="3.05" height="3.12" fill="rgb(35,35,35)"/>
<rect x="115.65" y="215.95" width="3.05" height="3.12" fill="rgb(8,8,8)"/>
<rect x="118.6" y="215.95" width="3.05" height="3.12" fill="rgb(8,8,8)"/>
<rect x="121.55" y="215.95" width="3.05" height="3.12" fill="rgb(117,117,117)"/>
<rect x="112.7" y="218.97" width="3.05" height="3.12" fill="rgb(200,200,200)"/>
<rect x="115.65" y="218.97" width="3.05" height="3.12" fill="rgb(172,172,172)"/>
<rect x="118.6" y="218.97" width="3.05" height="3.12" fill="rgb(172,172,172)"/>
<rect x="121.55" y="218.97" width="3.05" height="3.12" fill="rgb(200,200,200)"/>
<rect x="112.35" y="209.55" width="12.5" height="12.8" fill="none" stroke="#222" stroke-width="1.3"/>
<rect x="127.1" y="208.9" width="13.8" height="14.1" fill="#fff"/>
<rect x="128.1" y="212.93" width="3.05" height="3.12" fill="rgb(227,227,227)"/>
<rect x="131.05" y="212.93" width="3.05" height="3.12" fill="rgb(200,200,200)"/>
<rect x="128.1" y="215.95" width="3.05" height="3.12" fill="rgb(200,200,200)"/>
<rect x="131.05" y="215.95" width="3.05" height="3.12" fill="rgb(8,8,8)"/>
<rect x="134" y="215.95" width="3.05" height="3.12" fill="rgb(117,117,117)"/>
<rect x="136.95" y="215.95" width="3.05" height="3.12" fill="rgb(172,172,172)"/>
<rect x="131.05" y="218.97" width="3.05" height="3.12" fill="rgb(200,200,200)"/>
<rect x="134" y="218.97" width="3.05" height="3.12" fill="rgb(172,172,172)"/>
<rect x="136.95" y="218.97" width="3.05" height="3.12" fill="rgb(200,200,200)"/>
<rect x="127.75" y="209.55" width="12.5" height="12.8" fill="none" stroke="#222" stroke-width="1.3"/>
<rect x="143" y="208.9" width="13.8" height="14.1" fill="#fff"/>
<rect x="146.95" y="209.9" width="3.05" height="3.12" fill="rgb(172,172,172)"/>
<rect x="152.85" y="209.9" width="3.05" height="3.12" fill="rgb(8,8,8)"/>
<rect x="144" y="212.93" width="3.05" height="3.12" fill="rgb(200,200,200)"/>
<rect x="149.9" y="212.93" width="3.05" height="3.12" fill="rgb(200,200,200)"/>
<rect x="146.95" y="215.95" width="3.05" height="3.12" fill="rgb(172,172,172)"/>
<rect x="143.65" y="209.55" width="12.5" height="12.8" fill="none" stroke="#222" stroke-width="1.3"/>
<rect x="158.9" y="208.9" width="13.8" height="14.1" fill="#fff"/>
<rect x="159.9" y="212.93" width="3.05" height="3.12" fill="rgb(8,8,8)"/>
<rect x="162.85" y="212.93" width="3.05" height="3.12" fill="rgb(172,172,172)"/>
<rect x="159.9" y="215.95" width="3.05" height="3.12" fill="rgb(145,145,145)"/>
<rect x="162.85" y="218.97" width="3.05" height="3.12" fill="rgb(8,8,8)"/>
<rect x="165.8" y="218.97" width="3.05" height="3.12" fill="rgb(8,8,8)"/>
<rect x="168.75" y="218.97" width="3.05" height="3.12" fill="rgb(90,90,90)"/>
<rect x="159.55" y="209.55" width="12.5" height="12.8" fill="none" stroke="#222" stroke-width="1.3"/>
<rect x="174.6" y="208.9" width="13.8" height="14.1" fill="#fff"/>
<rect x="175.6" y="209.9" width="3.05" height="3.12" fill="rgb(172,172,172)"/>
<rect x="178.55" y="209.9" width="3.05" height="3.12" fill="rgb(145,145,145)"/>
<rect x="181.5" y="209.9" width="3.05" height="3.12" fill="rgb(172,172,172)"/>
<rect x="184.45" y="209.9" width="3.05" height="3.12" fill="rgb(200,200,200)"/>
<rect x="178.55" y="218.97" width="3.05" height="3.12" fill="rgb(8,8,8)"/>
<rect x="184.45" y="218.97" width="3.05" height="3.12" fill="rgb(172,172,172)"/>
<rect x="175.25" y="209.55" width="12.5" height="12.8" fill="none" stroke="#222" stroke-width="1.3"/>
<rect x="51.9" y="224.5" width="13.8" height="14.1" fill="#fff"/>
<rect x="52.9" y="234.57" width="3.05" height="3.12" fill="rgb(8,8,8)"/>
<rect x="55.85" y="234.57" width="3.05" height="3.12" fill="rgb(200,200,200)"/>
<rect x="58.8" y="234.57" width="3.05" height="3.12" fill="rgb(145,145,145)"/>
<rect x="61.75" y="234.57" width="3.05" height="3.12" fill="rgb(8,8,8)"/>
<rect x="52.55" y="225.15" width="12.5" height="12.8" fill="none" stroke="#222" stroke-width="1.3"/>
<rect x="66.9" y="224.5" width="13.8" height="14.1" fill="#fff"/>
<rect x="67.9" y="225.5" width="3.05" height="3.12" fill="rgb(145,145,145)"/>
<rect x="67.9" y="228.53" width="3.05" height="3.12" fill="rgb(200,200,200)"/>
<rect x="67.9" y="231.55" width="3.05" height="3.12" fill="rgb(8,8,8)"/>
<rect x="67.9" y="234.57" width="3.05" height="3.12" fill="rgb(172,172,172)"/>
<rect x="70.85" y="234.57" width="3.05" height="3.12" fill="rgb(172,172,172)"/>
<rect x="73.8" y="234.57" width="3.05" height="3.12" fill="rgb(172,172,172)"/>
<rect x="67.55" y="225.15" width="12.5" height="12.8" fill="none" stroke="#222" stroke-width="1.3"/>
<rect x="81.2" y="224.5" width="13.8" height="14.1" fill="#fff"/>
<rect x="85.15" y="225.5" width="3.05" height="3.12" fill="rgb(8,8,8)"/>
<rect x="88.1" y="225.5" width="3.05" height="3.12" fill="rgb(8,8,8)"/>
<rect x="91.05" y="225.5" width="3.05" height="3.12" fill="rgb(8,8,8)"/>
<rect x="81.85" y="225.15" width="12.5" height="12.8" fill="none" stroke="#222" stroke-width="1.3"/>
<rect x="96.4" y="224.5" width="13.8" height="14.1" fill="#fff"/>
<rect x="97.4" y="225.5" width="3.05" height="3.12" fill="rgb(200,200,200)"/>
<rect x="100.35" y="225.5" width="3.05" height="3.12" fill="rgb(117,117,117)"/>
<rect x="97.4" y="228.53" width="3.05" height="3.12" fill="rgb(172,172,172)"/>
<rect x="100.35" y="228.53" width="3.05" height="3.12" fill="rgb(8,8,8)"/>
<rect x="103.3" y="228.53" width="3.05" height="3.12" fill="rgb(8,8,8)"/>
<rect x="106.25" y="228.53" width="3.05" height="3.12" fill="rgb(172,172,172)"/>
<rect x="97.4" y="231.55" width="3.05" height="3.12" fill="rgb(117,117,117)"/>
<rect x="100.35" y="231.55" width="3.05" height="3.12" fill="rgb(172,172,172)"/>
<rect x="103.3" y="231.55" width="3.05" height="3.12" fill="rgb(8,8,8)"/>
<rect x="106.25" y="231.55" width="3.05" height="3.12" fill="rgb(145,145,145)"/>
<rect x="97.4" y="234.57" width="3.05" height="3.12" fill="rgb(200,200,200)"/>
<rect x="100.35" y="234.57" width="3.05" height="3.12" fill="rgb(117,117,117)"/>
<rect x="103.3" y="234.57" width="3.05" height="3.12" fill="rgb(172,172,172)"/>
<rect x="97.05" y="225.15" width="12.5" height="12.8" fill="none" stroke="#222" stroke-width="1.3"/>
<rect x="111.7" y="224.5" width="13.8" height="14.1" fill="#fff"/>
<rect x="112.7" y="225.5" width="3.05" height="3.12" fill="rgb(117,117,117)"/>
<rect x="115.65" y="225.5" width="3.05" height="3.12" fill="rgb(172,172,172)"/>
<rect x="112.7" y="228.53" width="3.05" height="3.12" fill="rgb(172,172,172)"/>
<rect x="118.6" y="228.53" width="3.05" height="3.12" fill="rgb(8,8,8)"/>
<rect x="112.7" y="231.55" width="3.05" height="3.12" fill="rgb(200,200,200)"/>
<rect x="112.7" y="234.57" width="3.05" height="3.12" fill="rgb(172,172,172)"/>
<rect x="115.65" y="234.57" width="3.05" height="3.12" fill="rgb(172,172,172)"/>
<rect x="118.6" y="234.57" width="3.05" height="3.12" fill="rgb(172,172,172)"/>
<rect x="121.55" y="234.57" width="3.05" height="3.12" fill="rgb(172,172,172)"/>
<rect x="112.35" y="225.15" width="12.5" height="12.8" fill="none" stroke="#222" stroke-width="1.3"/>
<rect x="127.1" y="224.5" width="13.8" height="14.1" fill="#fff"/>
<rect x="128.1" y="225.5" width="3.05" height="3.12" fill="rgb(8,8,8)"/>
<rect x="131.05" y="225.5" width="3.05" height="3.12" fill="rgb(8,8,8)"/>
<rect x="134" y="225.5" width="3.05" height="3.12" fill="rgb(90,90,90)"/>
<rect x="128.1" y="228.53" width="3.05" height="3.12" fill="rgb(200,200,200)"/>
<rect x="131.05" y="228.53" width="3.05" height="3.12" fill="rgb(8,8,8)"/>
<rect x="134" y="228.53" width="3.05" height="3.12" fill="rgb(145,145,145)"/>
<rect x="136.95" y="231.55" width="3.05" height="3.12" fill="rgb(172,172,172)"/>
<rect x="127.75" y="225.15" width="12.5" height="12.8" fill="none" stroke="#222" stroke-width="1.3"/>
<rect x="143" y="224.5" width="13.8" height="14.1" fill="#fff"/>
<rect x="146.95" y="228.53" width="3.05" height="3.12" fill="rgb(8,8,8)"/>
<rect x="146.95" y="231.55" width="3.05" height="3.12" fill="rgb(8,8,8)"/>
<rect x="149.9" y="231.55" width="3.05" height="3.12" fill="rgb(8,8,8)"/>
<rect x="152.85" y="234.57" width="3.05" height="3.12" fill="rgb(200,200,200)"/>
<rect x="143.65" y="225.15" width="12.5" height="12.8" fill="none" stroke="#222" stroke-width="1.3"/>
<rect x="158.9" y="224.5" width="13.8" height="14.1" fill="#fff"/>
<rect x="159.9" y="225.5" width="3.05" height="3.12" fill="rgb(172,172,172)"/>
<rect x="168.75" y="225.5" width="3.05" height="3.12" fill="rgb(145,145,145)"/>
<rect x="159.9" y="228.53" width="3.05" height="3.12" fill="rgb(200,200,200)"/>
<rect x="162.85" y="228.53" width="3.05" height="3.12" fill="rgb(8,8,8)"/>
<rect x="165.8" y="228.53" width="3.05" height="3.12" fill="rgb(200,200,200)"/>
<rect x="162.85" y="231.55" width="3.05" height="3.12" fill="rgb(172,172,172)"/>
<rect x="162.85" y="234.57" width="3.05" height="3.12" fill="rgb(200,200,200)"/>
<rect x="168.75" y="234.57" width="3.05" height="3.12" fill="rgb(172,172,172)"/>
<rect x="159.55" y="225.15" width="12.5" height="12.8" fill="none" stroke="#222" stroke-width="1.3"/>
<rect x="174.6" y="224.5" width="13.8" height="14.1" fill="#fff"/>
<rect x="178.55" y="231.55" width="3.05" height="3.12" fill="rgb(172,172,172)"/>
<rect x="181.5" y="231.55" width="3.05" height="3.12" fill="rgb(117,117,117)"/>
<rect x="184.45" y="231.55" width="3.05" height="3.12" fill="rgb(172,172,172)"/>
<rect x="175.6" y="234.57" width="3.05" height="3.12" fill="rgb(8,8,8)"/>
<rect x="178.55" y="234.57" width="3.05" height="3.12" fill="rgb(172,172,172)"/>
<rect x="175.25" y="225.15" width="12.5" height="12.8" fill="none" stroke="#222" stroke-width="1.3"/>
<rect x="51.9" y="240" width="13.8" height="14.1" fill="#fff"/>
<rect x="52.9" y="241" width="3.05" height="3.12" fill="rgb(200,200,200)"/>
<rect x="55.85" y="241" width="3.05" height="3.12" fill="rgb(117,117,117)"/>
<rect x="58.8" y="241" width="3.05" height="3.12" fill="rgb(172,172,172)"/>
<rect x="52.9" y="244.03" width="3.05" height="3.12" fill="rgb(145,145,145)"/>
<rect x="55.85" y="244.03" width="3.05" height="3.12" fill="rgb(172,172,172)"/>
<rect x="58.8" y="244.03" width="3.05" height="3.12" fill="rgb(117,117,117)"/>
<rect x="61.75" y="244.03" width="3.05" height="3.12" fill="rgb(172,172,172)"/>
<rect x="52.9" y="247.05" width="3.05" height="3.12" fill="rgb(117,117,117)"/>
<rect x="55.85" y="247.05" width="3.05" height="3.12" fill="rgb(8,8,8)"/>
<rect x="58.8" y="247.05" width="3.05" height="3.12" fill="rgb(8,8,8)"/>
<rect x="61.75" y="247.05" width="3.05" height="3.12" fill="rgb(172,172,172)"/>
<rect x="52.9" y="250.07" width="3.05" height="3.12" fill="rgb(200,200,200)"/>
<rect x="55.85" y="250.07" width="3.05" height="3.12" fill="rgb(172,172,172)"/>
<rect x="58.8" y="250.07" width="3.05" height="3.12" fill="rgb(145,145,145)"/>
<rect x="52.55" y="240.65" width="12.5" height="12.8" fill="none" stroke="#222" stroke-width="1.3"/>
<rect x="66.9" y="240" width="13.8" height="14.1" fill="#fff"/>
<rect x="67.9" y="244.03" width="3.05" height="3.12" fill="rgb(117,117,117)"/>
<rect x="70.85" y="244.03" width="3.05" height="3.12" fill="rgb(8,8,8)"/>
<rect x="73.8" y="244.03" width="3.05" height="3.12" fill="rgb(8,8,8)"/>
<rect x="76.75" y="244.03" width="3.05" height="3.12" fill="rgb(117,117,117)"/>
<rect x="67.9" y="247.05" width="3.05" height="3.12" fill="rgb(200,200,200)"/>
<rect x="70.85" y="247.05" width="3.05" height="3.12" fill="rgb(172,172,172)"/>
<rect x="73.8" y="247.05" width="3.05" height="3.12" fill="rgb(172,172,172)"/>
<rect x="76.75" y="247.05" width="3.05" height="3.12" fill="rgb(200,200,200)"/>
<rect x="67.55" y="240.65" width="12.5" height="12.8" fill="none" stroke="#222" stroke-width="1.3"/>
<rect x="81.2" y="240" width="13.8" height="14.1" fill="#fff"/>
<rect x="82.2" y="241" width="3.05" height="3.12" fill="rgb(117,117,117)"/>
<rect x="88.1" y="241" width="3.05" height="3.12" fill="rgb(172,172,172)"/>
<rect x="91.05" y="241" width="3.05" height="3.12" fill="rgb(117,117,117)"/>
<rect x="82.2" y="244.03" width="3.05" height="3.12" fill="rgb(200,200,200)"/>
<rect x="91.05" y="244.03" width="3.05" height="3.12" fill="rgb(8,8,8)"/>
<rect x="82.2" y="247.05" width="3.05" height="3.12" fill="rgb(172,172,172)"/>
<rect x="91.05" y="247.05" width="3.05" height="3.12" fill="rgb(200,200,200)"/>
<rect x="82.2" y="250.07" width="3.05" height="3.12" fill="rgb(117,117,117)"/>
<rect x="85.15" y="250.07" width="3.05" height="3.12" fill="rgb(8,8,8)"/>
<rect x="88.1" y="250.07" width="3.05" height="3.12" fill="rgb(8,8,8)"/>
<rect x="91.05" y="250.07" width="3.05" height="3.12" fill="rgb(117,117,117)"/>
<rect x="81.85" y="240.65" width="12.5" height="12.8" fill="none" stroke="#222" stroke-width="1.3"/>
<rect x="96.4" y="240" width="13.8" height="14.1" fill="#fff"/>
<rect x="97.4" y="244.03" width="3.05" height="3.12" fill="rgb(8,8,8)"/>
<rect x="100.35" y="244.03" width="3.05" height="3.12" fill="rgb(8,8,8)"/>
<rect x="103.3" y="244.03" width="3.05" height="3.12" fill="rgb(8,8,8)"/>
<rect x="106.25" y="244.03" width="3.05" height="3.12" fill="rgb(8,8,8)"/>
<rect x="97.4" y="247.05" width="3.05" height="3.12" fill="rgb(172,172,172)"/>
<rect x="100.35" y="247.05" width="3.05" height="3.12" fill="rgb(172,172,172)"/>
<rect x="103.3" y="247.05" width="3.05" height="3.12" fill="rgb(145,145,145)"/>
<rect x="106.25" y="247.05" width="3.05" height="3.12" fill="rgb(172,172,172)"/>
<rect x="97.4" y="250.07" width="3.05" height="3.12" fill="rgb(117,117,117)"/>
<rect x="100.35" y="250.07" width="3.05" height="3.12" fill="rgb(8,8,8)"/>
<rect x="103.3" y="250.07" width="3.05" height="3.12" fill="rgb(8,8,8)"/>
<rect x="106.25" y="250.07" width="3.05" height="3.12" fill="rgb(117,117,117)"/>
<rect x="97.05" y="240.65" width="12.5" height="12.8" fill="none" stroke="#222" stroke-width="1.3"/>
<rect x="111.7" y="240" width="13.8" height="14.1" fill="#fff"/>
<rect x="112.7" y="241" width="3.05" height="3.12" fill="rgb(172,172,172)"/>
<rect x="115.65" y="241" width="3.05" height="3.12" fill="rgb(172,172,172)"/>
<rect x="118.6" y="241" width="3.05" height="3.12" fill="rgb(172,172,172)"/>
<rect x="121.55" y="241" width="3.05" height="3.12" fill="rgb(172,172,172)"/>
<rect x="112.7" y="244.03" width="3.05" height="3.12" fill="rgb(145,145,145)"/>
<rect x="115.65" y="244.03" width="3.05" height="3.12" fill="rgb(8,8,8)"/>
<rect x="118.6" y="244.03" width="3.05" height="3.12" fill="rgb(8,8,8)"/>
<rect x="121.55" y="244.03" width="3.05" height="3.12" fill="rgb(145,145,145)"/>
<rect x="112.7" y="247.05" width="3.05" height="3.12" fill="rgb(200,200,200)"/>
<rect x="115.65" y="247.05" width="3.05" height="3.12" fill="rgb(172,172,172)"/>
<rect x="118.6" y="247.05" width="3.05" height="3.12" fill="rgb(172,172,172)"/>
<rect x="121.55" y="247.05" width="3.05" height="3.12" fill="rgb(200,200,200)"/>
<rect x="112.7" y="250.07" width="3.05" height="3.12" fill="rgb(172,172,172)"/>
<rect x="115.65" y="250.07" width="3.05" height="3.12" fill="rgb(145,145,145)"/>
<rect x="118.6" y="250.07" width="3.05" height="3.12" fill="rgb(145,145,145)"/>
<rect x="121.55" y="250.07" width="3.05" height="3.12" fill="rgb(172,172,172)"/>
<rect x="112.35" y="240.65" width="12.5" height="12.8" fill="none" stroke="#222" stroke-width="1.3"/>
<rect x="127.1" y="240" width="13.8" height="14.1" fill="#fff"/>
<rect x="128.1" y="244.03" width="3.05" height="3.12" fill="rgb(172,172,172)"/>
<rect x="131.05" y="244.03" width="3.05" height="3.12" fill="rgb(8,8,8)"/>
<rect x="134" y="244.03" width="3.05" height="3.12" fill="rgb(8,8,8)"/>
<rect x="136.95" y="244.03" width="3.05" height="3.12" fill="rgb(172,172,172)"/>
<rect x="128.1" y="247.05" width="3.05" height="3.12" fill="rgb(200,200,200)"/>
<rect x="131.05" y="247.05" width="3.05" height="3.12" fill="rgb(117,117,117)"/>
<rect x="134" y="247.05" width="3.05" height="3.12" fill="rgb(8,8,8)"/>
<rect x="136.95" y="247.05" width="3.05" height="3.12" fill="rgb(200,200,200)"/>
<rect x="131.05" y="250.07" width="3.05" height="3.12" fill="rgb(172,172,172)"/>
<rect x="136.95" y="250.07" width="3.05" height="3.12" fill="rgb(172,172,172)"/>
<rect x="127.75" y="240.65" width="12.5" height="12.8" fill="none" stroke="#222" stroke-width="1.3"/>
<rect x="143" y="240" width="13.8" height="14.1" fill="#fff"/>
<rect x="146.95" y="241" width="3.05" height="3.12" fill="rgb(117,117,117)"/>
<rect x="149.9" y="241" width="3.05" height="3.12" fill="rgb(8,8,8)"/>
<rect x="144" y="250.07" width="3.05" height="3.12" fill="rgb(172,172,172)"/>
<rect x="152.85" y="250.07" width="3.05" height="3.12" fill="rgb(172,172,172)"/>
<rect x="143.65" y="240.65" width="12.5" height="12.8" fill="none" stroke="#222" stroke-width="1.3"/>
<rect x="158.9" y="240" width="13.8" height="14.1" fill="#fff"/>
<rect x="168.75" y="244.03" width="3.05" height="3.12" fill="rgb(172,172,172)"/>
<rect x="162.85" y="250.07" width="3.05" height="3.12" fill="rgb(8,8,8)"/>
<rect x="165.8" y="250.07" width="3.05" height="3.12" fill="rgb(8,8,8)"/>
<rect x="159.55" y="240.65" width="12.5" height="12.8" fill="none" stroke="#222" stroke-width="1.3"/>
<rect x="174.6" y="240" width="13.8" height="14.1" fill="#fff"/>
<rect x="178.55" y="244.03" width="3.05" height="3.12" fill="rgb(200,200,200)"/>
<rect x="181.5" y="244.03" width="3.05" height="3.12" fill="rgb(8,8,8)"/>
<rect x="175.6" y="247.05" width="3.05" height="3.12" fill="rgb(145,145,145)"/>
<rect x="178.55" y="247.05" width="3.05" height="3.12" fill="rgb(8,8,8)"/>
<rect x="178.55" y="250.07" width="3.05" height="3.12" fill="rgb(172,172,172)"/>
<rect x="181.5" y="250.07" width="3.05" height="3.12" fill="rgb(172,172,172)"/>
<rect x="175.25" y="240.65" width="12.5" height="12.8" fill="none" stroke="#222" stroke-width="1.3"/>
<rect x="51.9" y="255.6" width="13.8" height="14.1" fill="#fff"/>
<rect x="55.85" y="256.6" width="3.05" height="3.12" fill="rgb(117,117,117)"/>
<rect x="58.8" y="256.6" width="3.05" height="3.12" fill="rgb(8,8,8)"/>
<rect x="52.9" y="262.65" width="3.05" height="3.12" fill="rgb(8,8,8)"/>
<rect x="61.75" y="262.65" width="3.05" height="3.12" fill="rgb(8,8,8)"/>
<rect x="58.8" y="265.68" width="3.05" height="3.12" fill="rgb(117,117,117)"/>
<rect x="52.55" y="256.25" width="12.5" height="12.8" fill="none" stroke="#222" stroke-width="1.3"/>
<rect x="66.9" y="255.6" width="13.8" height="14.1" fill="#fff"/>
<rect x="67.9" y="256.6" width="3.05" height="3.12" fill="rgb(145,145,145)"/>
<rect x="70.85" y="256.6" width="3.05" height="3.12" fill="rgb(8,8,8)"/>
<rect x="76.75" y="256.6" width="3.05" height="3.12" fill="rgb(8,8,8)"/>
<rect x="73.8" y="259.62" width="3.05" height="3.12" fill="rgb(145,145,145)"/>
<rect x="76.75" y="259.62" width="3.05" height="3.12" fill="rgb(172,172,172)"/>
<rect x="67.9" y="265.68" width="3.05" height="3.12" fill="rgb(8,8,8)"/>
<rect x="67.55" y="256.25" width="12.5" height="12.8" fill="none" stroke="#222" stroke-width="1.3"/>
<rect x="81.2" y="255.6" width="13.8" height="14.1" fill="#fff"/>
<rect x="82.2" y="256.6" width="3.05" height="3.12" fill="rgb(172,172,172)"/>
<rect x="91.05" y="256.6" width="3.05" height="3.12" fill="rgb(145,145,145)"/>
<rect x="82.2" y="259.62" width="3.05" height="3.12" fill="rgb(172,172,172)"/>
<rect x="85.15" y="259.62" width="3.05" height="3.12" fill="rgb(172,172,172)"/>
<rect x="88.1" y="259.62" width="3.05" height="3.12" fill="rgb(172,172,172)"/>
<rect x="91.05" y="259.62" width="3.05" height="3.12" fill="rgb(172,172,172)"/>
<rect x="82.2" y="262.65" width="3.05" height="3.12" fill="rgb(172,172,172)"/>
<rect x="85.15" y="262.65" width="3.05" height="3.12" fill="rgb(8,8,8)"/>
<rect x="88.1" y="262.65" width="3.05" height="3.12" fill="rgb(8,8,8)"/>
<rect x="91.05" y="262.65" width="3.05" height="3.12" fill="rgb(172,172,172)"/>
<rect x="85.15" y="265.68" width="3.05" height="3.12" fill="rgb(172,172,172)"/>
<rect x="88.1" y="265.68" width="3.05" height="3.12" fill="rgb(172,172,172)"/>
<rect x="81.85" y="256.25" width="12.5" height="12.8" fill="none" stroke="#222" stroke-width="1.3"/>
<rect x="96.4" y="255.6" width="13.8" height="14.1" fill="#fff"/>
<rect x="97.4" y="256.6" width="3.05" height="3.12" fill="rgb(172,172,172)"/>
<rect x="100.35" y="256.6" width="3.05" height="3.12" fill="rgb(117,117,117)"/>
<rect x="106.25" y="256.6" width="3.05" height="3.12" fill="rgb(172,172,172)"/>
<rect x="106.25" y="262.65" width="3.05" height="3.12" fill="rgb(8,8,8)"/>
<rect x="97.05" y="256.25" width="12.5" height="12.8" fill="none" stroke="#222" stroke-width="1.3"/>
<circle cx="114.3" cy="263.4" r="1.05" fill="#000"/>
<circle cx="118.3" cy="263.4" r="1.05" fill="#000"/>
<circle cx="122.3" cy="263.4" r="1.05" fill="#000"/>
<rect x="127.7" y="256.2" width="13" height="13.2" fill="#000" stroke="#cc6a2c" stroke-width="1.3"/>
<rect x="143.6" y="256.2" width="13" height="13.2" fill="#000" stroke="#cc6a2c" stroke-width="1.3"/>
<rect x="159.5" y="256.2" width="13" height="13.2" fill="#000" stroke="#cc6a2c" stroke-width="1.3"/>
<rect x="175.2" y="256.2" width="13" height="13.2" fill="#000" stroke="#cc6a2c" stroke-width="1.3"/>
<rect x="209.9" y="209.7" width="14.6" height="14.6" fill="#fff"/>
<rect x="210.9" y="210.7" width="3.25" height="3.25" fill="rgb(8,8,8)"/>
<rect x="214.05" y="210.7" width="3.25" height="3.25" fill="rgb(145,145,145)"/>
<rect x="220.35" y="213.85" width="3.25" height="3.25" fill="rgb(200,200,200)"/>
<rect x="214.05" y="220.15" width="3.25" height="3.25" fill="rgb(172,172,172)"/>
<rect x="217.2" y="220.15" width="3.25" height="3.25" fill="rgb(200,200,200)"/>
<rect x="210.55" y="210.35" width="13.3" height="13.3" fill="none" stroke="#222" stroke-width="1.3"/>
<rect x="225.49" y="209.7" width="14.6" height="14.6" fill="#fff"/>
<rect x="232.79" y="210.7" width="3.25" height="3.25" fill="rgb(200,200,200)"/>
<rect x="235.94" y="210.7" width="3.25" height="3.25" fill="rgb(200,200,200)"/>
<rect x="226.49" y="213.85" width="3.25" height="3.25" fill="rgb(8,8,8)"/>
<rect x="226.49" y="217" width="3.25" height="3.25" fill="rgb(200,200,200)"/>
<rect x="226.14" y="210.35" width="13.3" height="13.3" fill="none" stroke="#222" stroke-width="1.3"/>
<rect x="241.08" y="209.7" width="14.6" height="14.6" fill="#fff"/>
<rect x="242.08" y="210.7" width="3.25" height="3.25" fill="rgb(172,172,172)"/>
<rect x="245.23" y="210.7" width="3.25" height="3.25" fill="rgb(172,172,172)"/>
<rect x="248.38" y="210.7" width="3.25" height="3.25" fill="rgb(172,172,172)"/>
<rect x="251.53" y="210.7" width="3.25" height="3.25" fill="rgb(172,172,172)"/>
<rect x="242.08" y="213.85" width="3.25" height="3.25" fill="rgb(172,172,172)"/>
<rect x="245.23" y="213.85" width="3.25" height="3.25" fill="rgb(8,8,8)"/>
<rect x="248.38" y="213.85" width="3.25" height="3.25" fill="rgb(200,200,200)"/>
<rect x="251.53" y="213.85" width="3.25" height="3.25" fill="rgb(117,117,117)"/>
<rect x="242.08" y="217" width="3.25" height="3.25" fill="rgb(172,172,172)"/>
<rect x="245.23" y="217" width="3.25" height="3.25" fill="rgb(8,8,8)"/>
<rect x="251.53" y="217" width="3.25" height="3.25" fill="rgb(172,172,172)"/>
<rect x="242.08" y="220.15" width="3.25" height="3.25" fill="rgb(172,172,172)"/>
<rect x="245.23" y="220.15" width="3.25" height="3.25" fill="rgb(172,172,172)"/>
<rect x="248.38" y="220.15" width="3.25" height="3.25" fill="rgb(172,172,172)"/>
<rect x="251.53" y="220.15" width="3.25" height="3.25" fill="rgb(172,172,172)"/>
<rect x="241.73" y="210.35" width="13.3" height="13.3" fill="none" stroke="#222" stroke-width="1.3"/>
<rect x="256.67" y="209.7" width="14.6" height="14.6" fill="#fff"/>
<rect x="257.67" y="213.85" width="3.25" height="3.25" fill="rgb(145,145,145)"/>
<rect x="260.82" y="213.85" width="3.25" height="3.25" fill="rgb(63,63,63)"/>
<rect x="263.97" y="213.85" width="3.25" height="3.25" fill="rgb(63,63,63)"/>
<rect x="267.12" y="213.85" width="3.25" height="3.25" fill="rgb(145,145,145)"/>
<rect x="257.67" y="217" width="3.25" height="3.25" fill="rgb(200,200,200)"/>
<rect x="260.82" y="217" width="3.25" height="3.25" fill="rgb(172,172,172)"/>
<rect x="263.97" y="217" width="3.25" height="3.25" fill="rgb(172,172,172)"/>
<rect x="267.12" y="217" width="3.25" height="3.25" fill="rgb(200,200,200)"/>
<rect x="257.67" y="220.15" width="3.25" height="3.25" fill="rgb(35,35,35)"/>
<rect x="260.82" y="220.15" width="3.25" height="3.25" fill="rgb(8,8,8)"/>
<rect x="263.97" y="220.15" width="3.25" height="3.25" fill="rgb(8,8,8)"/>
<rect x="267.12" y="220.15" width="3.25" height="3.25" fill="rgb(35,35,35)"/>
<rect x="257.32" y="210.35" width="13.3" height="13.3" fill="none" stroke="#222" stroke-width="1.3"/>
<rect x="272.26" y="209.7" width="14.6" height="14.6" fill="#fff"/>
<rect x="273.26" y="210.7" width="3.25" height="3.25" fill="rgb(117,117,117)"/>
<rect x="276.41" y="210.7" width="3.25" height="3.25" fill="rgb(8,8,8)"/>
<rect x="279.56" y="210.7" width="3.25" height="3.25" fill="rgb(145,145,145)"/>
<rect x="282.71" y="210.7" width="3.25" height="3.25" fill="rgb(145,145,145)"/>
<rect x="273.26" y="213.85" width="3.25" height="3.25" fill="rgb(145,145,145)"/>
<rect x="276.41" y="213.85" width="3.25" height="3.25" fill="rgb(145,145,145)"/>
<rect x="282.71" y="213.85" width="3.25" height="3.25" fill="rgb(172,172,172)"/>
<rect x="276.41" y="217" width="3.25" height="3.25" fill="rgb(145,145,145)"/>
<rect x="279.56" y="217" width="3.25" height="3.25" fill="rgb(8,8,8)"/>
<rect x="282.71" y="217" width="3.25" height="3.25" fill="rgb(172,172,172)"/>
<rect x="273.26" y="220.15" width="3.25" height="3.25" fill="rgb(145,145,145)"/>
<rect x="276.41" y="220.15" width="3.25" height="3.25" fill="rgb(117,117,117)"/>
<rect x="279.56" y="220.15" width="3.25" height="3.25" fill="rgb(145,145,145)"/>
<rect x="282.71" y="220.15" width="3.25" height="3.25" fill="rgb(145,145,145)"/>
<rect x="272.91" y="210.35" width="13.3" height="13.3" fill="none" stroke="#222" stroke-width="1.3"/>
<rect x="287.85" y="209.7" width="14.6" height="14.6" fill="#fff"/>
<rect x="288.85" y="210.7" width="3.25" height="3.25" fill="rgb(145,145,145)"/>
<rect x="292" y="210.7" width="3.25" height="3.25" fill="rgb(145,145,145)"/>
<rect x="295.15" y="210.7" width="3.25" height="3.25" fill="rgb(145,145,145)"/>
<rect x="298.3" y="210.7" width="3.25" height="3.25" fill="rgb(145,145,145)"/>
<rect x="288.85" y="213.85" width="3.25" height="3.25" fill="rgb(35,35,35)"/>
<rect x="292" y="213.85" width="3.25" height="3.25" fill="rgb(8,8,8)"/>
<rect x="295.15" y="213.85" width="3.25" height="3.25" fill="rgb(35,35,35)"/>
<rect x="298.3" y="213.85" width="3.25" height="3.25" fill="rgb(35,35,35)"/>
<rect x="288.85" y="217" width="3.25" height="3.25" fill="rgb(35,35,35)"/>
<rect x="292" y="217" width="3.25" height="3.25" fill="rgb(8,8,8)"/>
<rect x="295.15" y="217" width="3.25" height="3.25" fill="rgb(8,8,8)"/>
<rect x="298.3" y="217" width="3.25" height="3.25" fill="rgb(35,35,35)"/>
<rect x="292" y="220.15" width="3.25" height="3.25" fill="rgb(35,35,35)"/>
<rect x="295.15" y="220.15" width="3.25" height="3.25" fill="rgb(35,35,35)"/>
<rect x="298.3" y="220.15" width="3.25" height="3.25" fill="rgb(35,35,35)"/>
<rect x="288.5" y="210.35" width="13.3" height="13.3" fill="none" stroke="#222" stroke-width="1.3"/>
<rect x="303.44" y="209.7" width="14.6" height="14.6" fill="#fff"/>
<rect x="304.44" y="210.7" width="3.25" height="3.25" fill="rgb(172,172,172)"/>
<rect x="307.59" y="210.7" width="3.25" height="3.25" fill="rgb(117,117,117)"/>
<rect x="310.74" y="210.7" width="3.25" height="3.25" fill="rgb(172,172,172)"/>
<rect x="304.44" y="213.85" width="3.25" height="3.25" fill="rgb(145,145,145)"/>
<rect x="307.59" y="213.85" width="3.25" height="3.25" fill="rgb(8,8,8)"/>
<rect x="310.74" y="213.85" width="3.25" height="3.25" fill="rgb(8,8,8)"/>
<rect x="310.74" y="217" width="3.25" height="3.25" fill="rgb(8,8,8)"/>
<rect x="310.74" y="220.15" width="3.25" height="3.25" fill="rgb(200,200,200)"/>
<rect x="313.89" y="220.15" width="3.25" height="3.25" fill="rgb(200,200,200)"/>
<rect x="304.09" y="210.35" width="13.3" height="13.3" fill="none" stroke="#222" stroke-width="1.3"/>
<circle cx="322.5" cy="215.8" r="1.05" fill="#000"/>
<circle cx="326.5" cy="215.8" r="1.05" fill="#000"/>
<circle cx="330.5" cy="215.8" r="1.05" fill="#000"/>
<rect x="335.22" y="210.3" width="13.8" height="13.6" fill="#000" stroke="#cc6a2c" stroke-width="1.3"/>
<rect x="210.5" y="225.2" width="13.8" height="13.6" fill="#000" stroke="#cc6a2c" stroke-width="1.3"/>
<rect x="226.09" y="225.2" width="13.8" height="13.6" fill="#000" stroke="#cc6a2c" stroke-width="1.3"/>
<rect x="241.68" y="225.2" width="13.8" height="13.6" fill="#000" stroke="#cc6a2c" stroke-width="1.3"/>
<rect x="257.27" y="225.2" width="13.8" height="13.6" fill="#000" stroke="#cc6a2c" stroke-width="1.3"/>
<rect x="272.86" y="225.2" width="13.8" height="13.6" fill="#000" stroke="#cc6a2c" stroke-width="1.3"/>
<rect x="288.45" y="225.2" width="13.8" height="13.6" fill="#000" stroke="#cc6a2c" stroke-width="1.3"/>
<rect x="304.04" y="225.2" width="13.8" height="13.6" fill="#000" stroke="#cc6a2c" stroke-width="1.3"/>
<rect x="319.63" y="225.2" width="13.8" height="13.6" fill="#000" stroke="#cc6a2c" stroke-width="1.3"/>
<rect x="335.22" y="225.2" width="13.8" height="13.6" fill="#000" stroke="#cc6a2c" stroke-width="1.3"/>
<rect x="210.5" y="241" width="13.8" height="13.6" fill="#000" stroke="#cc6a2c" stroke-width="1.3"/>
<rect x="226.09" y="241" width="13.8" height="13.6" fill="#000" stroke="#cc6a2c" stroke-width="1.3"/>
<rect x="241.68" y="241" width="13.8" height="13.6" fill="#000" stroke="#cc6a2c" stroke-width="1.3"/>
<rect x="257.27" y="241" width="13.8" height="13.6" fill="#000" stroke="#cc6a2c" stroke-width="1.3"/>
<rect x="272.86" y="241" width="13.8" height="13.6" fill="#000" stroke="#cc6a2c" stroke-width="1.3"/>
<rect x="288.45" y="241" width="13.8" height="13.6" fill="#000" stroke="#cc6a2c" stroke-width="1.3"/>
<rect x="304.04" y="241" width="13.8" height="13.6" fill="#000" stroke="#cc6a2c" stroke-width="1.3"/>
<rect x="319.63" y="241" width="13.8" height="13.6" fill="#000" stroke="#cc6a2c" stroke-width="1.3"/>
<rect x="335.22" y="241" width="13.8" height="13.6" fill="#000" stroke="#cc6a2c" stroke-width="1.3"/>
<rect x="210.5" y="256.4" width="13.8" height="13.6" fill="#000" stroke="#cc6a2c" stroke-width="1.3"/>
<rect x="226.09" y="256.4" width="13.8" height="13.6" fill="#000" stroke="#cc6a2c" stroke-width="1.3"/>
<rect x="241.68" y="256.4" width="13.8" height="13.6" fill="#000" stroke="#cc6a2c" stroke-width="1.3"/>
<rect x="257.27" y="256.4" width="13.8" height="13.6" fill="#000" stroke="#cc6a2c" stroke-width="1.3"/>
<rect x="272.86" y="256.4" width="13.8" height="13.6" fill="#000" stroke="#cc6a2c" stroke-width="1.3"/>
<rect x="288.45" y="256.4" width="13.8" height="13.6" fill="#000" stroke="#cc6a2c" stroke-width="1.3"/>
<rect x="304.04" y="256.4" width="13.8" height="13.6" fill="#000" stroke="#cc6a2c" stroke-width="1.3"/>
<rect x="319.63" y="256.4" width="13.8" height="13.6" fill="#000" stroke="#cc6a2c" stroke-width="1.3"/>
<rect x="335.22" y="256.4" width="13.8" height="13.6" fill="#000" stroke="#cc6a2c" stroke-width="1.3"/>
<text x="197.2" y="296.2" font-size="16.5" fill="#000">(a)</text>
<path d="M530 21.5 L551.5 21.5 C554 23 555.5 27 555 30 C554 34 551 37 548.5 40 C545.5 44 544 47 543 49.5 C541 52 540 54 540.5 57 C542 61 546 63 546.6 67 C547 72 544 78 541 85 C538.5 92 536.5 98 534.5 104 C533 108 531.5 112 530.5 115 L530 115 Z" fill="#7c7cff"/>
<path d="M530 21.5 L555.4 21.5 C559 23 561.5 27 560.9 30 C559.5 34 555 37 551.5 40 C548 44 546 47 544.6 49.3 C541 54 537.5 58 536 65 C535 75 534.5 90 533.5 105 C533 115 532.5 122 532 126 L530 126 Z" fill="#ff7c7c"/>
<clipPath id="c1"><path d="M530 21.5 L551.5 21.5 C554 23 555.5 27 555 30 C554 34 551 37 548.5 40 C545.5 44 544 47 543 49.5 C541 52 540 54 540.5 57 C542 61 546 63 546.6 67 C547 72 544 78 541 85 C538.5 92 536.5 98 534.5 104 C533 108 531.5 112 530.5 115 L530 115 Z"/></clipPath>
<path d="M530 21.5 L555.4 21.5 C559 23 561.5 27 560.9 30 C559.5 34 555 37 551.5 40 C548 44 546 47 544.6 49.3 C541 54 537.5 58 536 65 C535 75 534.5 90 533.5 105 C533 115 532.5 122 532 126 L530 126 Z" fill="#7a3cc0" clip-path="url(#c1)"/>
<path d="M791 58 C792 63 793 67 794.2 70 C797 76 799 79 801.7 82.3 C805 87 808 90 811.6 93.5 C815 97 818 99 822.8 104.7 C826 107 828.6 110 828.3 112.7 C826 116 818 118 808 119.7 C804 120.5 800 121 797 121.2 L791 121.2 Z" fill="#7c7cff"/>
<path d="M791 20.5 L803 20.5 C803.3 24 803 27 801 31 C798.5 37 796 43 794.8 48.4 C793.5 56 793 63 793 70 C793 78 795 84 797 90 C799.5 98 802 106 804.5 112 C805.5 116 805.5 119 805 121 L791 121 Z" fill="#ff7c7c"/>
<clipPath id="c3"><path d="M791 58 C792 63 793 67 794.2 70 C797 76 799 79 801.7 82.3 C805 87 808 90 811.6 93.5 C815 97 818 99 822.8 104.7 C826 107 828.6 110 828.3 112.7 C826 116 818 118 808 119.7 C804 120.5 800 121 797 121.2 L791 121.2 Z"/></clipPath>
<path d="M791 20.5 L803 20.5 C803.3 24 803 27 801 31 C798.5 37 796 43 794.8 48.4 C793.5 56 793 63 793 70 C793 78 795 84 797 90 C799.5 98 802 106 804.5 112 C805.5 116 805.5 119 805 121 L791 121 Z" fill="#7a3cc0" clip-path="url(#c3)"/>
<path d="M758 153.5 L767.5 153.5 C767.8 160 767.5 170 766.5 178 C766 183 766.5 188 768.2 191 C770.5 196 773 200 776.4 203 C780 207 782.8 211 783.5 215 C784.5 222 784.8 235 784.5 245 C784.3 252 784.8 258 783.3 262 C781 266 778 268.5 775 270.3 L758 270.3 Z" fill="#7c7cff"/>
<path d="M758 153.5 L823 153.5 C827 154 828 156 826.8 157.5 C815 160 800 162.5 781 167.2 C772 170 767.5 173.5 765.4 177.6 C763.5 181 762.5 186 762.2 192 C762 205 762.5 220 763.5 235 C764.5 250 765.3 260 765.3 266 L765.3 270.3 L758 270.3 Z" fill="#ff7c7c"/>
<clipPath id="c4"><path d="M758 153.5 L767.5 153.5 C767.8 160 767.5 170 766.5 178 C766 183 766.5 188 768.2 191 C770.5 196 773 200 776.4 203 C780 207 782.8 211 783.5 215 C784.5 222 784.8 235 784.5 245 C784.3 252 784.8 258 783.3 262 C781 266 778 268.5 775 270.3 L758 270.3 Z"/></clipPath>
<path d="M758 153.5 L823 153.5 C827 154 828 156 826.8 157.5 C815 160 800 162.5 781 167.2 C772 170 767.5 173.5 765.4 177.6 C763.5 181 762.5 186 762.2 192 C762 205 762.5 220 763.5 235 C764.5 250 765.3 260 765.3 266 L765.3 270.3 L758 270.3 Z" fill="#7a3cc0" clip-path="url(#c4)"/>
<rect x="410" y="18.8" width="120" height="107.2" fill="none" stroke="#000" stroke-width="1.5"/>
<rect x="581.3" y="16.9" width="209.4" height="108.6" fill="none" stroke="#000" stroke-width="1.5"/>
<rect x="409.2" y="150.3" width="348.4" height="121.5" fill="none" stroke="#000" stroke-width="1.5"/>
<path d="M427.9 25.2a1.7 1.7 0 1 0 3.4 0a1.7 1.7 0 1 0 -3.4 0zM433.8 25.8a1.7 1.7 0 1 0 3.4 0a1.7 1.7 0 1 0 -3.4 0zM445.6 28.4a1.7 1.7 0 1 0 3.4 0a1.7 1.7 0 1 0 -3.4 0zM458.3 26.8a1.7 1.7 0 1 0 3.4 0a1.7 1.7 0 1 0 -3.4 0zM415.1 32.3a1.7 1.7 0 1 0 3.4 0a1.7 1.7 0 1 0 -3.4 0zM467.6 44.5a1.7 1.7 0 1 0 3.4 0a1.7 1.7 0 1 0 -3.4 0zM469.2 48.4a1.7 1.7 0 1 0 3.4 0a1.7 1.7 0 1 0 -3.4 0zM453.1 55.7a1.7 1.7 0 1 0 3.4 0a1.7 1.7 0 1 0 -3.4 0zM456.6 55.9a1.7 1.7 0 1 0 3.4 0a1.7 1.7 0 1 0 -3.4 0zM443.6 60.6a1.7 1.7 0 1 0 3.4 0a1.7 1.7 0 1 0 -3.4 0zM442.3 64.7a1.7 1.7 0 1 0 3.4 0a1.7 1.7 0 1 0 -3.4 0zM417.1 68a1.7 1.7 0 1 0 3.4 0a1.7 1.7 0 1 0 -3.4 0zM420.4 69.6a1.7 1.7 0 1 0 3.4 0a1.7 1.7 0 1 0 -3.4 0zM429.9 68.4a1.7 1.7 0 1 0 3.4 0a1.7 1.7 0 1 0 -3.4 0zM462.1 63.7a1.7 1.7 0 1 0 3.4 0a1.7 1.7 0 1 0 -3.4 0zM460.3 68a1.7 1.7 0 1 0 3.4 0a1.7 1.7 0 1 0 -3.4 0zM424.4 74a1.7 1.7 0 1 0 3.4 0a1.7 1.7 0 1 0 -3.4 0zM482 28.4a1.7 1.7 0 1 0 3.4 0a1.7 1.7 0 1 0 -3.4 0zM492.8 25.2a1.7 1.7 0 1 0 3.4 0a1.7 1.7 0 1 0 -3.4 0zM512.4 36.2a1.7 1.7 0 1 0 3.4 0a1.7 1.7 0 1 0 -3.4 0zM499.7 38a1.7 1.7 0 1 0 3.4 0a1.7 1.7 0 1 0 -3.4 0zM519.7 41.1a1.7 1.7 0 1 0 3.4 0a1.7 1.7 0 1 0 -3.4 0zM510.9 43.1a1.7 1.7 0 1 0 3.4 0a1.7 1.7 0 1 0 -3.4 0zM515.8 51a1.7 1.7 0 1 0 3.4 0a1.7 1.7 0 1 0 -3.4 0zM490.8 53.3a1.7 1.7 0 1 0 3.4 0a1.7 1.7 0 1 0 -3.4 0zM501.6 53.3a1.7 1.7 0 1 0 3.4 0a1.7 1.7 0 1 0 -3.4 0zM498.1 60.2a1.7 1.7 0 1 0 3.4 0a1.7 1.7 0 1 0 -3.4 0zM478.1 68a1.7 1.7 0 1 0 3.4 0a1.7 1.7 0 1 0 -3.4 0zM505 69.4a1.7 1.7 0 1 0 3.4 0a1.7 1.7 0 1 0 -3.4 0zM474.5 73.5a1.7 1.7 0 1 0 3.4 0a1.7 1.7 0 1 0 -3.4 0zM483.4 73a1.7 1.7 0 1 0 3.4 0a1.7 1.7 0 1 0 -3.4 0zM436.8 76.3a1.7 1.7 0 1 0 3.4 0a1.7 1.7 0 1 0 -3.4 0zM449.5 78.3a1.7 1.7 0 1 0 3.4 0a1.7 1.7 0 1 0 -3.4 0zM454.8 79.2a1.7 1.7 0 1 0 3.4 0a1.7 1.7 0 1 0 -3.4 0zM463.7 76.3a1.7 1.7 0 1 0 3.4 0a1.7 1.7 0 1 0 -3.4 0zM438.7 87.1a1.7 1.7 0 1 0 3.4 0a1.7 1.7 0 1 0 -3.4 0zM422.6 91a1.7 1.7 0 1 0 3.4 0a1.7 1.7 0 1 0 -3.4 0zM419.1 115.6a1.7 1.7 0 1 0 3.4 0a1.7 1.7 0 1 0 -3.4 0zM508.7 76.3a1.7 1.7 0 1 0 3.4 0a1.7 1.7 0 1 0 -3.4 0zM476.5 80.4a1.7 1.7 0 1 0 3.4 0a1.7 1.7 0 1 0 -3.4 0zM487.1 83.8a1.7 1.7 0 1 0 3.4 0a1.7 1.7 0 1 0 -3.4 0zM494.2 82.8a1.7 1.7 0 1 0 3.4 0a1.7 1.7 0 1 0 -3.4 0zM480 115.8a1.7 1.7 0 1 0 3.4 0a1.7 1.7 0 1 0 -3.4 0z" fill="#3c3cf2"/>
<path d="M411.95 23.6a1.55 1.55 0 1 0 3.1 0a1.55 1.55 0 1 0 -3.1 0zM414.35 23.6a1.55 1.55 0 1 0 3.1 0a1.55 1.55 0 1 0 -3.1 0zM415.85 23.6a1.55 1.55 0 1 0 3.1 0a1.55 1.55 0 1 0 -3.1 0zM426.05 23.6a1.55 1.55 0 1 0 3.1 0a1.55 1.55 0 1 0 -3.1 0zM433.95 23.6a1.55 1.55 0 1 0 3.1 0a1.55 1.55 0 1 0 -3.1 0zM435.95 23.6a1.55 1.55 0 1 0 3.1 0a1.55 1.55 0 1 0 -3.1 0zM446.75 24.8a1.55 1.55 0 1 0 3.1 0a1.55 1.55 0 1 0 -3.1 0zM448.65 23.6a1.55 1.55 0 1 0 3.1 0a1.55 1.55 0 1 0 -3.1 0zM451.25 23.6a1.55 1.55 0 1 0 3.1 0a1.55 1.55 0 1 0 -3.1 0zM458.45 23.6a1.55 1.55 0 1 0 3.1 0a1.55 1.55 0 1 0 -3.1 0zM465.75 23.6a1.55 1.55 0 1 0 3.1 0a1.55 1.55 0 1 0 -3.1 0zM469.75 28.8a1.55 1.55 0 1 0 3.1 0a1.55 1.55 0 1 0 -3.1 0zM431.55 28.8a1.55 1.55 0 1 0 3.1 0a1.55 1.55 0 1 0 -3.1 0zM430.05 31.7a1.55 1.55 0 1 0 3.1 0a1.55 1.55 0 1 0 -3.1 0zM428.05 35a1.55 1.55 0 1 0 3.1 0a1.55 1.55 0 1 0 -3.1 0zM438.85 31.7a1.55 1.55 0 1 0 3.1 0a1.55 1.55 0 1 0 -3.1 0zM440.85 33.7a1.55 1.55 0 1 0 3.1 0a1.55 1.55 0 1 0 -3.1 0zM444.15 29.7a1.55 1.55 0 1 0 3.1 0a1.55 1.55 0 1 0 -3.1 0zM453.25 34a1.55 1.55 0 1 0 3.1 0a1.55 1.55 0 1 0 -3.1 0zM456.95 35.2a1.55 1.55 0 1 0 3.1 0a1.55 1.55 0 1 0 -3.1 0zM467.35 36a1.55 1.55 0 1 0 3.1 0a1.55 1.55 0 1 0 -3.1 0zM420.55 45.8a1.55 1.55 0 1 0 3.1 0a1.55 1.55 0 1 0 -3.1 0zM460.45 51.3a1.55 1.55 0 1 0 3.1 0a1.55 1.55 0 1 0 -3.1 0zM462.45 49.8a1.55 1.55 0 1 0 3.1 0a1.55 1.55 0 1 0 -3.1 0zM417.25 59.2a1.55 1.55 0 1 0 3.1 0a1.55 1.55 0 1 0 -3.1 0zM442.25 57.8a1.55 1.55 0 1 0 3.1 0a1.55 1.55 0 1 0 -3.1 0zM424.55 70.4a1.55 1.55 0 1 0 3.1 0a1.55 1.55 0 1 0 -3.1 0zM465.45 23.6a1.55 1.55 0 1 0 3.1 0a1.55 1.55 0 1 0 -3.1 0zM471.35 23.6a1.55 1.55 0 1 0 3.1 0a1.55 1.55 0 1 0 -3.1 0zM472.75 23.6a1.55 1.55 0 1 0 3.1 0a1.55 1.55 0 1 0 -3.1 0zM481.75 24a1.55 1.55 0 1 0 3.1 0a1.55 1.55 0 1 0 -3.1 0zM489.05 23.6a1.55 1.55 0 1 0 3.1 0a1.55 1.55 0 1 0 -3.1 0zM491.95 23.6a1.55 1.55 0 1 0 3.1 0a1.55 1.55 0 1 0 -3.1 0zM495.85 23.6a1.55 1.55 0 1 0 3.1 0a1.55 1.55 0 1 0 -3.1 0zM499.45 23.6a1.55 1.55 0 1 0 3.1 0a1.55 1.55 0 1 0 -3.1 0zM503.15 23.6a1.55 1.55 0 1 0 3.1 0a1.55 1.55 0 1 0 -3.1 0zM506.65 23.6a1.55 1.55 0 1 0 3.1 0a1.55 1.55 0 1 0 -3.1 0zM512.55 25.8a1.55 1.55 0 1 0 3.1 0a1.55 1.55 0 1 0 -3.1 0zM514.55 23.6a1.55 1.55 0 1 0 3.1 0a1.55 1.55 0 1 0 -3.1 0zM517.45 23.6a1.55 1.55 0 1 0 3.1 0a1.55 1.55 0 1 0 -3.1 0zM520.45 23.6a1.55 1.55 0 1 0 3.1 0a1.55 1.55 0 1 0 -3.1 0zM522.45 23.6a1.55 1.55 0 1 0 3.1 0a1.55 1.55 0 1 0 -3.1 0zM524.95 23.6a1.55 1.55 0 1 0 3.1 0a1.55 1.55 0 1 0 -3.1 0zM469.35 28.8a1.55 1.55 0 1 0 3.1 0a1.55 1.55 0 1 0 -3.1 0zM485.65 28.8a1.55 1.55 0 1 0 3.1 0a1.55 1.55 0 1 0 -3.1 0zM467.45 36.2a1.55 1.55 0 1 0 3.1 0a1.55 1.55 0 1 0 -3.1 0zM498.25 32.3a1.55 1.55 0 1 0 3.1 0a1.55 1.55 0 1 0 -3.1 0zM490.95 39.6a1.55 1.55 0 1 0 3.1 0a1.55 1.55 0 1 0 -3.1 0zM510.65 35a1.55 1.55 0 1 0 3.1 0a1.55 1.55 0 1 0 -3.1 0zM478.25 46.8a1.55 1.55 0 1 0 3.1 0a1.55 1.55 0 1 0 -3.1 0zM501.35 45.8a1.55 1.55 0 1 0 3.1 0a1.55 1.55 0 1 0 -3.1 0zM505.35 48.8a1.55 1.55 0 1 0 3.1 0a1.55 1.55 0 1 0 -3.1 0zM508.65 70.6a1.55 1.55 0 1 0 3.1 0a1.55 1.55 0 1 0 -3.1 0zM436.95 80.2a1.55 1.55 0 1 0 3.1 0a1.55 1.55 0 1 0 -3.1 0zM454.95 78.3a1.55 1.55 0 1 0 3.1 0a1.55 1.55 0 1 0 -3.1 0zM422.75 107.3a1.55 1.55 0 1 0 3.1 0a1.55 1.55 0 1 0 -3.1 0zM419.25 120.1a1.55 1.55 0 1 0 3.1 0a1.55 1.55 0 1 0 -3.1 0zM463.85 114.4a1.55 1.55 0 1 0 3.1 0a1.55 1.55 0 1 0 -3.1 0zM483.55 78.3a1.55 1.55 0 1 0 3.1 0a1.55 1.55 0 1 0 -3.1 0zM476.65 90.6a1.55 1.55 0 1 0 3.1 0a1.55 1.55 0 1 0 -3.1 0zM487.05 96.1a1.55 1.55 0 1 0 3.1 0a1.55 1.55 0 1 0 -3.1 0zM494.35 97.1a1.55 1.55 0 1 0 3.1 0a1.55 1.55 0 1 0 -3.1 0zM515.95 93.8a1.55 1.55 0 1 0 3.1 0a1.55 1.55 0 1 0 -3.1 0zM474.65 114.4a1.55 1.55 0 1 0 3.1 0a1.55 1.55 0 1 0 -3.1 0zM480.15 119.5a1.55 1.55 0 1 0 3.1 0a1.55 1.55 0 1 0 -3.1 0z" fill="#ff0000" stroke="#a80000" stroke-width="0.5"/>
<path d="M604.35 78.3a1.55 1.55 0 1 0 3.1 0a1.55 1.55 0 1 0 -3.1 0zM614.35 78.3a1.55 1.55 0 1 0 3.1 0a1.55 1.55 0 1 0 -3.1 0zM615.75 81.7a1.55 1.55 0 1 0 3.1 0a1.55 1.55 0 1 0 -3.1 0zM616.65 84.6a1.55 1.55 0 1 0 3.1 0a1.55 1.55 0 1 0 -3.1 0zM618.65 87.5a1.55 1.55 0 1 0 3.1 0a1.55 1.55 0 1 0 -3.1 0zM602.95 84.2a1.55 1.55 0 1 0 3.1 0a1.55 1.55 0 1 0 -3.1 0zM628.45 88.9a1.55 1.55 0 1 0 3.1 0a1.55 1.55 0 1 0 -3.1 0zM633.35 87.5a1.55 1.55 0 1 0 3.1 0a1.55 1.55 0 1 0 -3.1 0zM636.25 84.6a1.55 1.55 0 1 0 3.1 0a1.55 1.55 0 1 0 -3.1 0zM598.05 91.5a1.55 1.55 0 1 0 3.1 0a1.55 1.55 0 1 0 -3.1 0zM593.75 93.4a1.55 1.55 0 1 0 3.1 0a1.55 1.55 0 1 0 -3.1 0zM590.65 96.4a1.55 1.55 0 1 0 3.1 0a1.55 1.55 0 1 0 -3.1 0zM592.55 97.4a1.55 1.55 0 1 0 3.1 0a1.55 1.55 0 1 0 -3.1 0zM595.75 96.4a1.55 1.55 0 1 0 3.1 0a1.55 1.55 0 1 0 -3.1 0zM605.95 94.4a1.55 1.55 0 1 0 3.1 0a1.55 1.55 0 1 0 -3.1 0zM610.85 96.4a1.55 1.55 0 1 0 3.1 0a1.55 1.55 0 1 0 -3.1 0zM608.85 101.3a1.55 1.55 0 1 0 3.1 0a1.55 1.55 0 1 0 -3.1 0zM611.75 99.9a1.55 1.55 0 1 0 3.1 0a1.55 1.55 0 1 0 -3.1 0zM613.35 98.3a1.55 1.55 0 1 0 3.1 0a1.55 1.55 0 1 0 -3.1 0zM618.65 101.3a1.55 1.55 0 1 0 3.1 0a1.55 1.55 0 1 0 -3.1 0zM621.55 100.7a1.55 1.55 0 1 0 3.1 0a1.55 1.55 0 1 0 -3.1 0zM624.55 100.7a1.55 1.55 0 1 0 3.1 0a1.55 1.55 0 1 0 -3.1 0zM587.25 103.2a1.55 1.55 0 1 0 3.1 0a1.55 1.55 0 1 0 -3.1 0zM586.25 105.2a1.55 1.55 0 1 0 3.1 0a1.55 1.55 0 1 0 -3.1 0zM592.15 107.2a1.55 1.55 0 1 0 3.1 0a1.55 1.55 0 1 0 -3.1 0zM598.05 104.2a1.55 1.55 0 1 0 3.1 0a1.55 1.55 0 1 0 -3.1 0zM611.35 105.8a1.55 1.55 0 1 0 3.1 0a1.55 1.55 0 1 0 -3.1 0zM620.65 107.2a1.55 1.55 0 1 0 3.1 0a1.55 1.55 0 1 0 -3.1 0zM622.55 106.2a1.55 1.55 0 1 0 3.1 0a1.55 1.55 0 1 0 -3.1 0zM629.05 108.5a1.55 1.55 0 1 0 3.1 0a1.55 1.55 0 1 0 -3.1 0zM633.35 105.2a1.55 1.55 0 1 0 3.1 0a1.55 1.55 0 1 0 -3.1 0zM636.85 106.2a1.55 1.55 0 1 0 3.1 0a1.55 1.55 0 1 0 -3.1 0zM588.25 113a1.55 1.55 0 1 0 3.1 0a1.55 1.55 0 1 0 -3.1 0zM591.15 114a1.55 1.55 0 1 0 3.1 0a1.55 1.55 0 1 0 -3.1 0zM598.05 115.6a1.55 1.55 0 1 0 3.1 0a1.55 1.55 0 1 0 -3.1 0zM599.65 116.4a1.55 1.55 0 1 0 3.1 0a1.55 1.55 0 1 0 -3.1 0zM604.95 115.6a1.55 1.55 0 1 0 3.1 0a1.55 1.55 0 1 0 -3.1 0zM605.55 117a1.55 1.55 0 1 0 3.1 0a1.55 1.55 0 1 0 -3.1 0zM621.55 115a1.55 1.55 0 1 0 3.1 0a1.55 1.55 0 1 0 -3.1 0zM623.55 117a1.55 1.55 0 1 0 3.1 0a1.55 1.55 0 1 0 -3.1 0zM626.45 116.4a1.55 1.55 0 1 0 3.1 0a1.55 1.55 0 1 0 -3.1 0zM630.95 116.4a1.55 1.55 0 1 0 3.1 0a1.55 1.55 0 1 0 -3.1 0zM636.25 115a1.55 1.55 0 1 0 3.1 0a1.55 1.55 0 1 0 -3.1 0zM586.25 118.9a1.55 1.55 0 1 0 3.1 0a1.55 1.55 0 1 0 -3.1 0zM609.85 118.9a1.55 1.55 0 1 0 3.1 0a1.55 1.55 0 1 0 -3.1 0zM595.15 117a1.55 1.55 0 1 0 3.1 0a1.55 1.55 0 1 0 -3.1 0zM691.25 66.2a1.55 1.55 0 1 0 3.1 0a1.55 1.55 0 1 0 -3.1 0zM634.45 79.7a1.55 1.55 0 1 0 3.1 0a1.55 1.55 0 1 0 -3.1 0zM636.45 83.6a1.55 1.55 0 1 0 3.1 0a1.55 1.55 0 1 0 -3.1 0zM639.35 84.6a1.55 1.55 0 1 0 3.1 0a1.55 1.55 0 1 0 -3.1 0zM644.25 84.6a1.55 1.55 0 1 0 3.1 0a1.55 1.55 0 1 0 -3.1 0zM645.65 84.2a1.55 1.55 0 1 0 3.1 0a1.55 1.55 0 1 0 -3.1 0zM654.65 82.6a1.55 1.55 0 1 0 3.1 0a1.55 1.55 0 1 0 -3.1 0zM655.05 87a1.55 1.55 0 1 0 3.1 0a1.55 1.55 0 1 0 -3.1 0zM650.75 89.5a1.55 1.55 0 1 0 3.1 0a1.55 1.55 0 1 0 -3.1 0zM634.45 88.1a1.55 1.55 0 1 0 3.1 0a1.55 1.55 0 1 0 -3.1 0zM685.95 85.6a1.55 1.55 0 1 0 3.1 0a1.55 1.55 0 1 0 -3.1 0zM674.65 90.1a1.55 1.55 0 1 0 3.1 0a1.55 1.55 0 1 0 -3.1 0zM680.15 92.1a1.55 1.55 0 1 0 3.1 0a1.55 1.55 0 1 0 -3.1 0zM664.85 94.8a1.55 1.55 0 1 0 3.1 0a1.55 1.55 0 1 0 -3.1 0zM666.75 96.8a1.55 1.55 0 1 0 3.1 0a1.55 1.55 0 1 0 -3.1 0zM683.45 94.8a1.55 1.55 0 1 0 3.1 0a1.55 1.55 0 1 0 -3.1 0zM678.95 96.4a1.55 1.55 0 1 0 3.1 0a1.55 1.55 0 1 0 -3.1 0zM646.75 97.4a1.55 1.55 0 1 0 3.1 0a1.55 1.55 0 1 0 -3.1 0zM635.85 96.4a1.55 1.55 0 1 0 3.1 0a1.55 1.55 0 1 0 -3.1 0zM658.55 99.9a1.55 1.55 0 1 0 3.1 0a1.55 1.55 0 1 0 -3.1 0zM649.55 102.3a1.55 1.55 0 1 0 3.1 0a1.55 1.55 0 1 0 -3.1 0zM652.05 102.3a1.55 1.55 0 1 0 3.1 0a1.55 1.55 0 1 0 -3.1 0zM673.65 99.9a1.55 1.55 0 1 0 3.1 0a1.55 1.55 0 1 0 -3.1 0zM636.35 102.3a1.55 1.55 0 1 0 3.1 0a1.55 1.55 0 1 0 -3.1 0zM637.75 104.2a1.55 1.55 0 1 0 3.1 0a1.55 1.55 0 1 0 -3.1 0zM641.65 104.2a1.55 1.55 0 1 0 3.1 0a1.55 1.55 0 1 0 -3.1 0zM642.25 106.2a1.55 1.55 0 1 0 3.1 0a1.55 1.55 0 1 0 -3.1 0zM682.85 102.6a1.55 1.55 0 1 0 3.1 0a1.55 1.55 0 1 0 -3.1 0zM688.35 103.2a1.55 1.55 0 1 0 3.1 0a1.55 1.55 0 1 0 -3.1 0zM671.65 107.2a1.55 1.55 0 1 0 3.1 0a1.55 1.55 0 1 0 -3.1 0zM675.65 108.5a1.55 1.55 0 1 0 3.1 0a1.55 1.55 0 1 0 -3.1 0zM658.95 106.2a1.55 1.55 0 1 0 3.1 0a1.55 1.55 0 1 0 -3.1 0zM660.95 105.2a1.55 1.55 0 1 0 3.1 0a1.55 1.55 0 1 0 -3.1 0zM656.95 107.7a1.55 1.55 0 1 0 3.1 0a1.55 1.55 0 1 0 -3.1 0zM687.35 108.1a1.55 1.55 0 1 0 3.1 0a1.55 1.55 0 1 0 -3.1 0zM689.35 107.2a1.55 1.55 0 1 0 3.1 0a1.55 1.55 0 1 0 -3.1 0zM662.85 113a1.55 1.55 0 1 0 3.1 0a1.55 1.55 0 1 0 -3.1 0zM665.85 114a1.55 1.55 0 1 0 3.1 0a1.55 1.55 0 1 0 -3.1 0zM664.45 116.4a1.55 1.55 0 1 0 3.1 0a1.55 1.55 0 1 0 -3.1 0zM648.75 110.5a1.55 1.55 0 1 0 3.1 0a1.55 1.55 0 1 0 -3.1 0zM649.15 113a1.55 1.55 0 1 0 3.1 0a1.55 1.55 0 1 0 -3.1 0zM672.65 111.7a1.55 1.55 0 1 0 3.1 0a1.55 1.55 0 1 0 -3.1 0zM674.65 113a1.55 1.55 0 1 0 3.1 0a1.55 1.55 0 1 0 -3.1 0zM677.55 112a1.55 1.55 0 1 0 3.1 0a1.55 1.55 0 1 0 -3.1 0zM670.75 116.4a1.55 1.55 0 1 0 3.1 0a1.55 1.55 0 1 0 -3.1 0zM672.65 117a1.55 1.55 0 1 0 3.1 0a1.55 1.55 0 1 0 -3.1 0zM678.55 117a1.55 1.55 0 1 0 3.1 0a1.55 1.55 0 1 0 -3.1 0zM681.45 117.5a1.55 1.55 0 1 0 3.1 0a1.55 1.55 0 1 0 -3.1 0zM638.35 116.4a1.55 1.55 0 1 0 3.1 0a1.55 1.55 0 1 0 -3.1 0zM655.95 117a1.55 1.55 0 1 0 3.1 0a1.55 1.55 0 1 0 -3.1 0zM682.45 120.9a1.55 1.55 0 1 0 3.1 0a1.55 1.55 0 1 0 -3.1 0zM685.45 119.9a1.55 1.55 0 1 0 3.1 0a1.55 1.55 0 1 0 -3.1 0zM691.25 115a1.55 1.55 0 1 0 3.1 0a1.55 1.55 0 1 0 -3.1 0zM692.25 118.9a1.55 1.55 0 1 0 3.1 0a1.55 1.55 0 1 0 -3.1 0zM634.45 114.4a1.55 1.55 0 1 0 3.1 0a1.55 1.55 0 1 0 -3.1 0zM712.65 58.4a1.55 1.55 0 1 0 3.1 0a1.55 1.55 0 1 0 -3.1 0zM691.65 66.2a1.55 1.55 0 1 0 3.1 0a1.55 1.55 0 1 0 -3.1 0zM728.35 69.2a1.55 1.55 0 1 0 3.1 0a1.55 1.55 0 1 0 -3.1 0zM728.65 70.5a1.55 1.55 0 1 0 3.1 0a1.55 1.55 0 1 0 -3.1 0zM724.75 75.2a1.55 1.55 0 1 0 3.1 0a1.55 1.55 0 1 0 -3.1 0zM720.85 78.3a1.55 1.55 0 1 0 3.1 0a1.55 1.55 0 1 0 -3.1 0zM737.45 73.8a1.55 1.55 0 1 0 3.1 0a1.55 1.55 0 1 0 -3.1 0zM733.15 79.7a1.55 1.55 0 1 0 3.1 0a1.55 1.55 0 1 0 -3.1 0zM746.25 81.1a1.55 1.55 0 1 0 3.1 0a1.55 1.55 0 1 0 -3.1 0zM744.35 86.6a1.55 1.55 0 1 0 3.1 0a1.55 1.55 0 1 0 -3.1 0zM693.35 88.9a1.55 1.55 0 1 0 3.1 0a1.55 1.55 0 1 0 -3.1 0zM701.15 96.4a1.55 1.55 0 1 0 3.1 0a1.55 1.55 0 1 0 -3.1 0zM703.15 94a1.55 1.55 0 1 0 3.1 0a1.55 1.55 0 1 0 -3.1 0zM713.95 93.4a1.55 1.55 0 1 0 3.1 0a1.55 1.55 0 1 0 -3.1 0zM719.85 97.4a1.55 1.55 0 1 0 3.1 0a1.55 1.55 0 1 0 -3.1 0zM722.75 94.8a1.55 1.55 0 1 0 3.1 0a1.55 1.55 0 1 0 -3.1 0zM725.75 96.4a1.55 1.55 0 1 0 3.1 0a1.55 1.55 0 1 0 -3.1 0zM727.65 99.3a1.55 1.55 0 1 0 3.1 0a1.55 1.55 0 1 0 -3.1 0zM738.45 94.4a1.55 1.55 0 1 0 3.1 0a1.55 1.55 0 1 0 -3.1 0zM739.85 92.1a1.55 1.55 0 1 0 3.1 0a1.55 1.55 0 1 0 -3.1 0zM739.05 98.3a1.55 1.55 0 1 0 3.1 0a1.55 1.55 0 1 0 -3.1 0zM734.55 101.3a1.55 1.55 0 1 0 3.1 0a1.55 1.55 0 1 0 -3.1 0zM731.55 101.3a1.55 1.55 0 1 0 3.1 0a1.55 1.55 0 1 0 -3.1 0zM746.25 96.4a1.55 1.55 0 1 0 3.1 0a1.55 1.55 0 1 0 -3.1 0zM747.25 93.4a1.55 1.55 0 1 0 3.1 0a1.55 1.55 0 1 0 -3.1 0zM695.35 99.3a1.55 1.55 0 1 0 3.1 0a1.55 1.55 0 1 0 -3.1 0zM694.35 104.2a1.55 1.55 0 1 0 3.1 0a1.55 1.55 0 1 0 -3.1 0zM702.15 101.3a1.55 1.55 0 1 0 3.1 0a1.55 1.55 0 1 0 -3.1 0zM705.15 102.3a1.55 1.55 0 1 0 3.1 0a1.55 1.55 0 1 0 -3.1 0zM715.95 102.3a1.55 1.55 0 1 0 3.1 0a1.55 1.55 0 1 0 -3.1 0zM718.85 97.4a1.55 1.55 0 1 0 3.1 0a1.55 1.55 0 1 0 -3.1 0zM728.65 105.8a1.55 1.55 0 1 0 3.1 0a1.55 1.55 0 1 0 -3.1 0zM741.35 102.3a1.55 1.55 0 1 0 3.1 0a1.55 1.55 0 1 0 -3.1 0zM737.05 107.2a1.55 1.55 0 1 0 3.1 0a1.55 1.55 0 1 0 -3.1 0zM689.45 104.2a1.55 1.55 0 1 0 3.1 0a1.55 1.55 0 1 0 -3.1 0zM688.45 107.2a1.55 1.55 0 1 0 3.1 0a1.55 1.55 0 1 0 -3.1 0zM696.25 108.5a1.55 1.55 0 1 0 3.1 0a1.55 1.55 0 1 0 -3.1 0zM697.25 110.5a1.55 1.55 0 1 0 3.1 0a1.55 1.55 0 1 0 -3.1 0zM710.05 108.5a1.55 1.55 0 1 0 3.1 0a1.55 1.55 0 1 0 -3.1 0zM708.05 111.7a1.55 1.55 0 1 0 3.1 0a1.55 1.55 0 1 0 -3.1 0zM706.45 114a1.55 1.55 0 1 0 3.1 0a1.55 1.55 0 1 0 -3.1 0zM709.05 114.4a1.55 1.55 0 1 0 3.1 0a1.55 1.55 0 1 0 -3.1 0zM722.75 108.5a1.55 1.55 0 1 0 3.1 0a1.55 1.55 0 1 0 -3.1 0zM726.05 111.7a1.55 1.55 0 1 0 3.1 0a1.55 1.55 0 1 0 -3.1 0zM730.65 111.7a1.55 1.55 0 1 0 3.1 0a1.55 1.55 0 1 0 -3.1 0zM739.05 111.1a1.55 1.55 0 1 0 3.1 0a1.55 1.55 0 1 0 -3.1 0zM745.35 110.5a1.55 1.55 0 1 0 3.1 0a1.55 1.55 0 1 0 -3.1 0zM702.15 114a1.55 1.55 0 1 0 3.1 0a1.55 1.55 0 1 0 -3.1 0zM696.25 117.5a1.55 1.55 0 1 0 3.1 0a1.55 1.55 0 1 0 -3.1 0zM712.95 117a1.55 1.55 0 1 0 3.1 0a1.55 1.55 0 1 0 -3.1 0zM717.85 117.9a1.55 1.55 0 1 0 3.1 0a1.55 1.55 0 1 0 -3.1 0zM735.15 115a1.55 1.55 0 1 0 3.1 0a1.55 1.55 0 1 0 -3.1 0zM737.45 116a1.55 1.55 0 1 0 3.1 0a1.55 1.55 0 1 0 -3.1 0zM743.35 119.9a1.55 1.55 0 1 0 3.1 0a1.55 1.55 0 1 0 -3.1 0zM746.25 118.9a1.55 1.55 0 1 0 3.1 0a1.55 1.55 0 1 0 -3.1 0zM692.35 113a1.55 1.55 0 1 0 3.1 0a1.55 1.55 0 1 0 -3.1 0zM723.75 118.9a1.55 1.55 0 1 0 3.1 0a1.55 1.55 0 1 0 -3.1 0zM754.95 69.3a1.55 1.55 0 1 0 3.1 0a1.55 1.55 0 1 0 -3.1 0zM755.15 70.5a1.55 1.55 0 1 0 3.1 0a1.55 1.55 0 1 0 -3.1 0zM776.75 73.8a1.55 1.55 0 1 0 3.1 0a1.55 1.55 0 1 0 -3.1 0zM749.25 78.4a1.55 1.55 0 1 0 3.1 0a1.55 1.55 0 1 0 -3.1 0zM746.35 81.1a1.55 1.55 0 1 0 3.1 0a1.55 1.55 0 1 0 -3.1 0zM743.35 87.6a1.55 1.55 0 1 0 3.1 0a1.55 1.55 0 1 0 -3.1 0zM738.45 73.8a1.55 1.55 0 1 0 3.1 0a1.55 1.55 0 1 0 -3.1 0zM770.85 90.1a1.55 1.55 0 1 0 3.1 0a1.55 1.55 0 1 0 -3.1 0zM771.45 92.5a1.55 1.55 0 1 0 3.1 0a1.55 1.55 0 1 0 -3.1 0zM740.05 92.5a1.55 1.55 0 1 0 3.1 0a1.55 1.55 0 1 0 -3.1 0zM739.45 95.5a1.55 1.55 0 1 0 3.1 0a1.55 1.55 0 1 0 -3.1 0zM740.45 97.4a1.55 1.55 0 1 0 3.1 0a1.55 1.55 0 1 0 -3.1 0zM747.25 96.4a1.55 1.55 0 1 0 3.1 0a1.55 1.55 0 1 0 -3.1 0zM755.15 99.4a1.55 1.55 0 1 0 3.1 0a1.55 1.55 0 1 0 -3.1 0zM763.05 101.3a1.55 1.55 0 1 0 3.1 0a1.55 1.55 0 1 0 -3.1 0zM764.95 102.7a1.55 1.55 0 1 0 3.1 0a1.55 1.55 0 1 0 -3.1 0zM767.95 100.8a1.55 1.55 0 1 0 3.1 0a1.55 1.55 0 1 0 -3.1 0zM779.75 93.5a1.55 1.55 0 1 0 3.1 0a1.55 1.55 0 1 0 -3.1 0zM784.65 99.4a1.55 1.55 0 1 0 3.1 0a1.55 1.55 0 1 0 -3.1 0zM740.45 102.3a1.55 1.55 0 1 0 3.1 0a1.55 1.55 0 1 0 -3.1 0zM763.95 105.9a1.55 1.55 0 1 0 3.1 0a1.55 1.55 0 1 0 -3.1 0zM765.95 105.3a1.55 1.55 0 1 0 3.1 0a1.55 1.55 0 1 0 -3.1 0zM758.05 108.2a1.55 1.55 0 1 0 3.1 0a1.55 1.55 0 1 0 -3.1 0zM760.45 109.2a1.55 1.55 0 1 0 3.1 0a1.55 1.55 0 1 0 -3.1 0zM782.65 108.6a1.55 1.55 0 1 0 3.1 0a1.55 1.55 0 1 0 -3.1 0zM781.65 110.6a1.55 1.55 0 1 0 3.1 0a1.55 1.55 0 1 0 -3.1 0zM741.45 110.2a1.55 1.55 0 1 0 3.1 0a1.55 1.55 0 1 0 -3.1 0zM745.35 111.2a1.55 1.55 0 1 0 3.1 0a1.55 1.55 0 1 0 -3.1 0zM747.25 113.1a1.55 1.55 0 1 0 3.1 0a1.55 1.55 0 1 0 -3.1 0zM749.25 114.1a1.55 1.55 0 1 0 3.1 0a1.55 1.55 0 1 0 -3.1 0zM769.85 110.6a1.55 1.55 0 1 0 3.1 0a1.55 1.55 0 1 0 -3.1 0zM767.95 113.1a1.55 1.55 0 1 0 3.1 0a1.55 1.55 0 1 0 -3.1 0zM777.75 111.8a1.55 1.55 0 1 0 3.1 0a1.55 1.55 0 1 0 -3.1 0zM784.05 113.1a1.55 1.55 0 1 0 3.1 0a1.55 1.55 0 1 0 -3.1 0zM753.15 115.7a1.55 1.55 0 1 0 3.1 0a1.55 1.55 0 1 0 -3.1 0zM774.75 116.5a1.55 1.55 0 1 0 3.1 0a1.55 1.55 0 1 0 -3.1 0zM776.75 117.7a1.55 1.55 0 1 0 3.1 0a1.55 1.55 0 1 0 -3.1 0zM742.35 117a1.55 1.55 0 1 0 3.1 0a1.55 1.55 0 1 0 -3.1 0zM757.15 119a1.55 1.55 0 1 0 3.1 0a1.55 1.55 0 1 0 -3.1 0zM785.65 121a1.55 1.55 0 1 0 3.1 0a1.55 1.55 0 1 0 -3.1 0z" fill="#3c3cf2"/>
<path d="M604.5 33.9a1.5 1.5 0 1 0 3 0a1.5 1.5 0 1 0 -3 0zM611.2 52.3a1.5 1.5 0 1 0 3 0a1.5 1.5 0 1 0 -3 0zM597.4 59.9a1.5 1.5 0 1 0 3 0a1.5 1.5 0 1 0 -3 0zM615.3 63a1.5 1.5 0 1 0 3 0a1.5 1.5 0 1 0 -3 0zM635.1 65.8a1.5 1.5 0 1 0 3 0a1.5 1.5 0 1 0 -3 0zM587.5 69.4a1.5 1.5 0 1 0 3 0a1.5 1.5 0 1 0 -3 0zM592 69.4a1.5 1.5 0 1 0 3 0a1.5 1.5 0 1 0 -3 0zM588.3 70.5a1.5 1.5 0 1 0 3 0a1.5 1.5 0 1 0 -3 0zM592.6 70.5a1.5 1.5 0 1 0 3 0a1.5 1.5 0 1 0 -3 0zM606.9 85.6a1.5 1.5 0 1 0 3 0a1.5 1.5 0 1 0 -3 0zM622 84.6a1.5 1.5 0 1 0 3 0a1.5 1.5 0 1 0 -3 0zM625.6 81.1a1.5 1.5 0 1 0 3 0a1.5 1.5 0 1 0 -3 0zM621.6 88.9a1.5 1.5 0 1 0 3 0a1.5 1.5 0 1 0 -3 0zM594.6 100.3a1.5 1.5 0 1 0 3 0a1.5 1.5 0 1 0 -3 0zM596.5 99.3a1.5 1.5 0 1 0 3 0a1.5 1.5 0 1 0 -3 0zM600.5 99.3a1.5 1.5 0 1 0 3 0a1.5 1.5 0 1 0 -3 0zM602 108.5a1.5 1.5 0 1 0 3 0a1.5 1.5 0 1 0 -3 0zM604 111a1.5 1.5 0 1 0 3 0a1.5 1.5 0 1 0 -3 0zM606.9 110.5a1.5 1.5 0 1 0 3 0a1.5 1.5 0 1 0 -3 0zM608.9 110.5a1.5 1.5 0 1 0 3 0a1.5 1.5 0 1 0 -3 0zM608.3 115a1.5 1.5 0 1 0 3 0a1.5 1.5 0 1 0 -3 0zM617.7 110.5a1.5 1.5 0 1 0 3 0a1.5 1.5 0 1 0 -3 0zM627.5 104.2a1.5 1.5 0 1 0 3 0a1.5 1.5 0 1 0 -3 0zM631.5 110.5a1.5 1.5 0 1 0 3 0a1.5 1.5 0 1 0 -3 0zM636.9 99.9a1.5 1.5 0 1 0 3 0a1.5 1.5 0 1 0 -3 0zM586 110.5a1.5 1.5 0 1 0 3 0a1.5 1.5 0 1 0 -3 0zM589.3 120.9a1.5 1.5 0 1 0 3 0a1.5 1.5 0 1 0 -3 0zM591.2 120.9a1.5 1.5 0 1 0 3 0a1.5 1.5 0 1 0 -3 0zM595.2 120.9a1.5 1.5 0 1 0 3 0a1.5 1.5 0 1 0 -3 0zM601.6 120.9a1.5 1.5 0 1 0 3 0a1.5 1.5 0 1 0 -3 0zM603.6 120.9a1.5 1.5 0 1 0 3 0a1.5 1.5 0 1 0 -3 0zM612.8 117.9a1.5 1.5 0 1 0 3 0a1.5 1.5 0 1 0 -3 0zM614.8 119.9a1.5 1.5 0 1 0 3 0a1.5 1.5 0 1 0 -3 0zM617.7 120.9a1.5 1.5 0 1 0 3 0a1.5 1.5 0 1 0 -3 0zM620.7 120.9a1.5 1.5 0 1 0 3 0a1.5 1.5 0 1 0 -3 0zM631.5 120.9a1.5 1.5 0 1 0 3 0a1.5 1.5 0 1 0 -3 0zM634.5 120.9a1.5 1.5 0 1 0 3 0a1.5 1.5 0 1 0 -3 0zM615.8 120.9a1.5 1.5 0 1 0 3 0a1.5 1.5 0 1 0 -3 0zM645.2 64.4a1.5 1.5 0 1 0 3 0a1.5 1.5 0 1 0 -3 0zM661.3 66.2a1.5 1.5 0 1 0 3 0a1.5 1.5 0 1 0 -3 0zM680.5 63.1a1.5 1.5 0 1 0 3 0a1.5 1.5 0 1 0 -3 0zM665.3 78.3a1.5 1.5 0 1 0 3 0a1.5 1.5 0 1 0 -3 0zM687.4 76.8a1.5 1.5 0 1 0 3 0a1.5 1.5 0 1 0 -3 0zM636.5 88.9a1.5 1.5 0 1 0 3 0a1.5 1.5 0 1 0 -3 0zM642.3 88.9a1.5 1.5 0 1 0 3 0a1.5 1.5 0 1 0 -3 0zM647.2 88.9a1.5 1.5 0 1 0 3 0a1.5 1.5 0 1 0 -3 0zM650.8 92.1a1.5 1.5 0 1 0 3 0a1.5 1.5 0 1 0 -3 0zM670.4 88.9a1.5 1.5 0 1 0 3 0a1.5 1.5 0 1 0 -3 0zM668.8 92.1a1.5 1.5 0 1 0 3 0a1.5 1.5 0 1 0 -3 0zM692.7 85.6a1.5 1.5 0 1 0 3 0a1.5 1.5 0 1 0 -3 0zM641.3 94.8a1.5 1.5 0 1 0 3 0a1.5 1.5 0 1 0 -3 0zM669.8 98.3a1.5 1.5 0 1 0 3 0a1.5 1.5 0 1 0 -3 0zM637.8 99.3a1.5 1.5 0 1 0 3 0a1.5 1.5 0 1 0 -3 0zM635.5 107.2a1.5 1.5 0 1 0 3 0a1.5 1.5 0 1 0 -3 0zM647.2 108.5a1.5 1.5 0 1 0 3 0a1.5 1.5 0 1 0 -3 0zM654.1 108.5a1.5 1.5 0 1 0 3 0a1.5 1.5 0 1 0 -3 0zM653.1 112a1.5 1.5 0 1 0 3 0a1.5 1.5 0 1 0 -3 0zM659 113a1.5 1.5 0 1 0 3 0a1.5 1.5 0 1 0 -3 0zM680.5 110.5a1.5 1.5 0 1 0 3 0a1.5 1.5 0 1 0 -3 0zM688 112a1.5 1.5 0 1 0 3 0a1.5 1.5 0 1 0 -3 0zM640.4 114.4a1.5 1.5 0 1 0 3 0a1.5 1.5 0 1 0 -3 0zM643.3 117a1.5 1.5 0 1 0 3 0a1.5 1.5 0 1 0 -3 0zM641.3 119.9a1.5 1.5 0 1 0 3 0a1.5 1.5 0 1 0 -3 0zM638.4 120.9a1.5 1.5 0 1 0 3 0a1.5 1.5 0 1 0 -3 0zM648.2 120.9a1.5 1.5 0 1 0 3 0a1.5 1.5 0 1 0 -3 0zM652.1 120.9a1.5 1.5 0 1 0 3 0a1.5 1.5 0 1 0 -3 0zM655.1 120.9a1.5 1.5 0 1 0 3 0a1.5 1.5 0 1 0 -3 0zM660 120.9a1.5 1.5 0 1 0 3 0a1.5 1.5 0 1 0 -3 0zM663.9 118.9a1.5 1.5 0 1 0 3 0a1.5 1.5 0 1 0 -3 0zM672.7 119.9a1.5 1.5 0 1 0 3 0a1.5 1.5 0 1 0 -3 0zM675.7 120.9a1.5 1.5 0 1 0 3 0a1.5 1.5 0 1 0 -3 0zM677 116.4a1.5 1.5 0 1 0 3 0a1.5 1.5 0 1 0 -3 0zM686.5 120.9a1.5 1.5 0 1 0 3 0a1.5 1.5 0 1 0 -3 0zM690.4 117.9a1.5 1.5 0 1 0 3 0a1.5 1.5 0 1 0 -3 0zM718.1 52.3a1.5 1.5 0 1 0 3 0a1.5 1.5 0 1 0 -3 0zM720.5 61.7a1.5 1.5 0 1 0 3 0a1.5 1.5 0 1 0 -3 0zM699.9 76.8a1.5 1.5 0 1 0 3 0a1.5 1.5 0 1 0 -3 0zM709.7 81.1a1.5 1.5 0 1 0 3 0a1.5 1.5 0 1 0 -3 0zM726.7 78.3a1.5 1.5 0 1 0 3 0a1.5 1.5 0 1 0 -3 0zM693.4 85.6a1.5 1.5 0 1 0 3 0a1.5 1.5 0 1 0 -3 0zM722.8 87.5a1.5 1.5 0 1 0 3 0a1.5 1.5 0 1 0 -3 0zM734.6 90.1a1.5 1.5 0 1 0 3 0a1.5 1.5 0 1 0 -3 0zM741 84.2a1.5 1.5 0 1 0 3 0a1.5 1.5 0 1 0 -3 0zM702.6 93.4a1.5 1.5 0 1 0 3 0a1.5 1.5 0 1 0 -3 0zM709.1 97.9a1.5 1.5 0 1 0 3 0a1.5 1.5 0 1 0 -3 0zM712 99.9a1.5 1.5 0 1 0 3 0a1.5 1.5 0 1 0 -3 0zM724.2 97.4a1.5 1.5 0 1 0 3 0a1.5 1.5 0 1 0 -3 0zM746.3 101.3a1.5 1.5 0 1 0 3 0a1.5 1.5 0 1 0 -3 0zM723.8 104.2a1.5 1.5 0 1 0 3 0a1.5 1.5 0 1 0 -3 0zM736.5 103.8a1.5 1.5 0 1 0 3 0a1.5 1.5 0 1 0 -3 0zM690.5 108.5a1.5 1.5 0 1 0 3 0a1.5 1.5 0 1 0 -3 0zM700.3 107.2a1.5 1.5 0 1 0 3 0a1.5 1.5 0 1 0 -3 0zM703.8 108.1a1.5 1.5 0 1 0 3 0a1.5 1.5 0 1 0 -3 0zM706.5 107.2a1.5 1.5 0 1 0 3 0a1.5 1.5 0 1 0 -3 0zM697.9 113a1.5 1.5 0 1 0 3 0a1.5 1.5 0 1 0 -3 0zM718.9 111.7a1.5 1.5 0 1 0 3 0a1.5 1.5 0 1 0 -3 0zM719.9 113.6a1.5 1.5 0 1 0 3 0a1.5 1.5 0 1 0 -3 0zM725.8 113a1.5 1.5 0 1 0 3 0a1.5 1.5 0 1 0 -3 0zM730.7 110.5a1.5 1.5 0 1 0 3 0a1.5 1.5 0 1 0 -3 0zM741 111.7a1.5 1.5 0 1 0 3 0a1.5 1.5 0 1 0 -3 0zM742.4 107.2a1.5 1.5 0 1 0 3 0a1.5 1.5 0 1 0 -3 0zM690.5 117.5a1.5 1.5 0 1 0 3 0a1.5 1.5 0 1 0 -3 0zM693.4 120.9a1.5 1.5 0 1 0 3 0a1.5 1.5 0 1 0 -3 0zM700.7 118.9a1.5 1.5 0 1 0 3 0a1.5 1.5 0 1 0 -3 0zM703.2 120.9a1.5 1.5 0 1 0 3 0a1.5 1.5 0 1 0 -3 0zM706.5 119.9a1.5 1.5 0 1 0 3 0a1.5 1.5 0 1 0 -3 0zM711.6 116.4a1.5 1.5 0 1 0 3 0a1.5 1.5 0 1 0 -3 0zM714 120.9a1.5 1.5 0 1 0 3 0a1.5 1.5 0 1 0 -3 0zM716 117.9a1.5 1.5 0 1 0 3 0a1.5 1.5 0 1 0 -3 0zM722.8 117.9a1.5 1.5 0 1 0 3 0a1.5 1.5 0 1 0 -3 0zM728.7 119.9a1.5 1.5 0 1 0 3 0a1.5 1.5 0 1 0 -3 0zM731.6 120.9a1.5 1.5 0 1 0 3 0a1.5 1.5 0 1 0 -3 0zM734.6 118.9a1.5 1.5 0 1 0 3 0a1.5 1.5 0 1 0 -3 0zM739.9 117.5a1.5 1.5 0 1 0 3 0a1.5 1.5 0 1 0 -3 0zM743.4 120.9a1.5 1.5 0 1 0 3 0a1.5 1.5 0 1 0 -3 0zM747.3 118.9a1.5 1.5 0 1 0 3 0a1.5 1.5 0 1 0 -3 0zM776.6 46.5a1.5 1.5 0 1 0 3 0a1.5 1.5 0 1 0 -3 0zM775.4 57.3a1.5 1.5 0 1 0 3 0a1.5 1.5 0 1 0 -3 0zM778.8 76.8a1.5 1.5 0 1 0 3 0a1.5 1.5 0 1 0 -3 0zM740.9 84.3a1.5 1.5 0 1 0 3 0a1.5 1.5 0 1 0 -3 0zM769 84.3a1.5 1.5 0 1 0 3 0a1.5 1.5 0 1 0 -3 0zM757.2 89a1.5 1.5 0 1 0 3 0a1.5 1.5 0 1 0 -3 0zM748.7 93.5a1.5 1.5 0 1 0 3 0a1.5 1.5 0 1 0 -3 0zM758.1 96.4a1.5 1.5 0 1 0 3 0a1.5 1.5 0 1 0 -3 0zM746.4 100.8a1.5 1.5 0 1 0 3 0a1.5 1.5 0 1 0 -3 0zM756.6 102.3a1.5 1.5 0 1 0 3 0a1.5 1.5 0 1 0 -3 0zM769.9 96.4a1.5 1.5 0 1 0 3 0a1.5 1.5 0 1 0 -3 0zM779.8 98a1.5 1.5 0 1 0 3 0a1.5 1.5 0 1 0 -3 0zM777.8 96.4a1.5 1.5 0 1 0 3 0a1.5 1.5 0 1 0 -3 0zM771.5 100.8a1.5 1.5 0 1 0 3 0a1.5 1.5 0 1 0 -3 0zM775.5 100a1.5 1.5 0 1 0 3 0a1.5 1.5 0 1 0 -3 0zM742.4 107.2a1.5 1.5 0 1 0 3 0a1.5 1.5 0 1 0 -3 0zM750.3 108.6a1.5 1.5 0 1 0 3 0a1.5 1.5 0 1 0 -3 0zM751.9 105.9a1.5 1.5 0 1 0 3 0a1.5 1.5 0 1 0 -3 0zM770.9 107.2a1.5 1.5 0 1 0 3 0a1.5 1.5 0 1 0 -3 0zM773.9 107.2a1.5 1.5 0 1 0 3 0a1.5 1.5 0 1 0 -3 0zM763.6 110.6a1.5 1.5 0 1 0 3 0a1.5 1.5 0 1 0 -3 0zM755.2 113.1a1.5 1.5 0 1 0 3 0a1.5 1.5 0 1 0 -3 0zM755.8 115.7a1.5 1.5 0 1 0 3 0a1.5 1.5 0 1 0 -3 0zM760.1 116.5a1.5 1.5 0 1 0 3 0a1.5 1.5 0 1 0 -3 0zM766 116.5a1.5 1.5 0 1 0 3 0a1.5 1.5 0 1 0 -3 0zM739.5 118a1.5 1.5 0 1 0 3 0a1.5 1.5 0 1 0 -3 0zM744.4 120a1.5 1.5 0 1 0 3 0a1.5 1.5 0 1 0 -3 0zM751.3 121a1.5 1.5 0 1 0 3 0a1.5 1.5 0 1 0 -3 0zM753.2 121a1.5 1.5 0 1 0 3 0a1.5 1.5 0 1 0 -3 0zM762.1 121a1.5 1.5 0 1 0 3 0a1.5 1.5 0 1 0 -3 0zM766 121a1.5 1.5 0 1 0 3 0a1.5 1.5 0 1 0 -3 0zM768 121a1.5 1.5 0 1 0 3 0a1.5 1.5 0 1 0 -3 0zM776.8 119.6a1.5 1.5 0 1 0 3 0a1.5 1.5 0 1 0 -3 0zM782.7 121a1.5 1.5 0 1 0 3 0a1.5 1.5 0 1 0 -3 0zM783.7 119a1.5 1.5 0 1 0 3 0a1.5 1.5 0 1 0 -3 0z" fill="#ff0000" stroke="#a80000" stroke-width="0.5"/>
<path d="M587.9 23.9a1.3 1.3 0 1 0 2.6 0a1.3 1.3 0 1 0 -2.6 0zM590.2 23.9a1.3 1.3 0 1 0 2.6 0a1.3 1.3 0 1 0 -2.6 0zM592.5 23.9a1.3 1.3 0 1 0 2.6 0a1.3 1.3 0 1 0 -2.6 0zM594.8 23.9a1.3 1.3 0 1 0 2.6 0a1.3 1.3 0 1 0 -2.6 0zM597.1 23.9a1.3 1.3 0 1 0 2.6 0a1.3 1.3 0 1 0 -2.6 0zM599.4 23.9a1.3 1.3 0 1 0 2.6 0a1.3 1.3 0 1 0 -2.6 0zM606.4 23.9a1.3 1.3 0 1 0 2.6 0a1.3 1.3 0 1 0 -2.6 0zM608.86 23.9a1.3 1.3 0 1 0 2.6 0a1.3 1.3 0 1 0 -2.6 0zM611.32 23.9a1.3 1.3 0 1 0 2.6 0a1.3 1.3 0 1 0 -2.6 0zM613.78 23.9a1.3 1.3 0 1 0 2.6 0a1.3 1.3 0 1 0 -2.6 0zM616.24 23.9a1.3 1.3 0 1 0 2.6 0a1.3 1.3 0 1 0 -2.6 0zM618.7 23.9a1.3 1.3 0 1 0 2.6 0a1.3 1.3 0 1 0 -2.6 0zM624.9 23.9a1.3 1.3 0 1 0 2.6 0a1.3 1.3 0 1 0 -2.6 0zM627.48 23.9a1.3 1.3 0 1 0 2.6 0a1.3 1.3 0 1 0 -2.6 0zM630.06 23.9a1.3 1.3 0 1 0 2.6 0a1.3 1.3 0 1 0 -2.6 0zM632.64 23.9a1.3 1.3 0 1 0 2.6 0a1.3 1.3 0 1 0 -2.6 0zM635.22 23.9a1.3 1.3 0 1 0 2.6 0a1.3 1.3 0 1 0 -2.6 0zM637.8 23.9a1.3 1.3 0 1 0 2.6 0a1.3 1.3 0 1 0 -2.6 0zM643.5 23.9a1.3 1.3 0 1 0 2.6 0a1.3 1.3 0 1 0 -2.6 0zM646.08 23.9a1.3 1.3 0 1 0 2.6 0a1.3 1.3 0 1 0 -2.6 0zM648.66 23.9a1.3 1.3 0 1 0 2.6 0a1.3 1.3 0 1 0 -2.6 0zM651.24 23.9a1.3 1.3 0 1 0 2.6 0a1.3 1.3 0 1 0 -2.6 0zM653.82 23.9a1.3 1.3 0 1 0 2.6 0a1.3 1.3 0 1 0 -2.6 0zM656.4 23.9a1.3 1.3 0 1 0 2.6 0a1.3 1.3 0 1 0 -2.6 0zM660.7 23.9a1.3 1.3 0 1 0 2.6 0a1.3 1.3 0 1 0 -2.6 0zM663.14 23.9a1.3 1.3 0 1 0 2.6 0a1.3 1.3 0 1 0 -2.6 0zM665.58 23.9a1.3 1.3 0 1 0 2.6 0a1.3 1.3 0 1 0 -2.6 0zM668.02 23.9a1.3 1.3 0 1 0 2.6 0a1.3 1.3 0 1 0 -2.6 0zM670.46 23.9a1.3 1.3 0 1 0 2.6 0a1.3 1.3 0 1 0 -2.6 0zM672.9 23.9a1.3 1.3 0 1 0 2.6 0a1.3 1.3 0 1 0 -2.6 0zM677.3 23.9a1.3 1.3 0 1 0 2.6 0a1.3 1.3 0 1 0 -2.6 0zM680.03 23.9a1.3 1.3 0 1 0 2.6 0a1.3 1.3 0 1 0 -2.6 0zM682.76 23.9a1.3 1.3 0 1 0 2.6 0a1.3 1.3 0 1 0 -2.6 0zM685.49 23.9a1.3 1.3 0 1 0 2.6 0a1.3 1.3 0 1 0 -2.6 0zM688.21 23.9a1.3 1.3 0 1 0 2.6 0a1.3 1.3 0 1 0 -2.6 0zM690.94 23.9a1.3 1.3 0 1 0 2.6 0a1.3 1.3 0 1 0 -2.6 0zM693.67 23.9a1.3 1.3 0 1 0 2.6 0a1.3 1.3 0 1 0 -2.6 0zM696.4 23.9a1.3 1.3 0 1 0 2.6 0a1.3 1.3 0 1 0 -2.6 0zM700.6 23.9a1.3 1.3 0 1 0 2.6 0a1.3 1.3 0 1 0 -2.6 0zM707.7 23.9a1.3 1.3 0 1 0 2.6 0a1.3 1.3 0 1 0 -2.6 0zM712.7 23.9a1.3 1.3 0 1 0 2.6 0a1.3 1.3 0 1 0 -2.6 0zM715.23 23.9a1.3 1.3 0 1 0 2.6 0a1.3 1.3 0 1 0 -2.6 0zM717.75 23.9a1.3 1.3 0 1 0 2.6 0a1.3 1.3 0 1 0 -2.6 0zM720.28 23.9a1.3 1.3 0 1 0 2.6 0a1.3 1.3 0 1 0 -2.6 0zM722.8 23.9a1.3 1.3 0 1 0 2.6 0a1.3 1.3 0 1 0 -2.6 0zM725.33 23.9a1.3 1.3 0 1 0 2.6 0a1.3 1.3 0 1 0 -2.6 0zM727.85 23.9a1.3 1.3 0 1 0 2.6 0a1.3 1.3 0 1 0 -2.6 0zM730.38 23.9a1.3 1.3 0 1 0 2.6 0a1.3 1.3 0 1 0 -2.6 0zM732.9 23.9a1.3 1.3 0 1 0 2.6 0a1.3 1.3 0 1 0 -2.6 0zM738.6 23.9a1.3 1.3 0 1 0 2.6 0a1.3 1.3 0 1 0 -2.6 0zM741.18 23.9a1.3 1.3 0 1 0 2.6 0a1.3 1.3 0 1 0 -2.6 0zM743.77 23.9a1.3 1.3 0 1 0 2.6 0a1.3 1.3 0 1 0 -2.6 0zM746.35 23.9a1.3 1.3 0 1 0 2.6 0a1.3 1.3 0 1 0 -2.6 0zM748.93 23.9a1.3 1.3 0 1 0 2.6 0a1.3 1.3 0 1 0 -2.6 0zM751.52 23.9a1.3 1.3 0 1 0 2.6 0a1.3 1.3 0 1 0 -2.6 0zM754.1 23.9a1.3 1.3 0 1 0 2.6 0a1.3 1.3 0 1 0 -2.6 0zM759.1 23.9a1.3 1.3 0 1 0 2.6 0a1.3 1.3 0 1 0 -2.6 0zM762.7 23.9a1.3 1.3 0 1 0 2.6 0a1.3 1.3 0 1 0 -2.6 0zM767.8 23.9a1.3 1.3 0 1 0 2.6 0a1.3 1.3 0 1 0 -2.6 0zM773 23.9a1.3 1.3 0 1 0 2.6 0a1.3 1.3 0 1 0 -2.6 0zM774.6 23.9a1.3 1.3 0 1 0 2.6 0a1.3 1.3 0 1 0 -2.6 0zM781 23.9a1.3 1.3 0 1 0 2.6 0a1.3 1.3 0 1 0 -2.6 0zM783.1 23.9a1.3 1.3 0 1 0 2.6 0a1.3 1.3 0 1 0 -2.6 0zM785.2 23.9a1.3 1.3 0 1 0 2.6 0a1.3 1.3 0 1 0 -2.6 0z" fill="#ff0000" stroke="#a80000" stroke-width="0.5"/>
<path d="M531.9 163.15a1.8 1.8 0 1 0 3.6 0a1.8 1.8 0 1 0 -3.6 0zM533.2 163.15a1.8 1.8 0 1 0 3.6 0a1.8 1.8 0 1 0 -3.6 0zM444 170.04a1.8 1.8 0 1 0 3.6 0a1.8 1.8 0 1 0 -3.6 0zM463.3 170.04a1.8 1.8 0 1 0 3.6 0a1.8 1.8 0 1 0 -3.6 0zM465.8 170.04a1.8 1.8 0 1 0 3.6 0a1.8 1.8 0 1 0 -3.6 0zM480.9 170.04a1.8 1.8 0 1 0 3.6 0a1.8 1.8 0 1 0 -3.6 0zM501.1 170.04a1.8 1.8 0 1 0 3.6 0a1.8 1.8 0 1 0 -3.6 0zM583.7 170.04a1.8 1.8 0 1 0 3.6 0a1.8 1.8 0 1 0 -3.6 0zM594.3 170.04a1.8 1.8 0 1 0 3.6 0a1.8 1.8 0 1 0 -3.6 0zM617.7 170.04a1.8 1.8 0 1 0 3.6 0a1.8 1.8 0 1 0 -3.6 0zM692.5 170.04a1.8 1.8 0 1 0 3.6 0a1.8 1.8 0 1 0 -3.6 0zM700.4 170.04a1.8 1.8 0 1 0 3.6 0a1.8 1.8 0 1 0 -3.6 0zM730.2 170.04a1.8 1.8 0 1 0 3.6 0a1.8 1.8 0 1 0 -3.6 0zM448.2 176.93a1.8 1.8 0 1 0 3.6 0a1.8 1.8 0 1 0 -3.6 0zM561.9 176.93a1.8 1.8 0 1 0 3.6 0a1.8 1.8 0 1 0 -3.6 0zM735 176.93a1.8 1.8 0 1 0 3.6 0a1.8 1.8 0 1 0 -3.6 0zM417.6 183.82a1.8 1.8 0 1 0 3.6 0a1.8 1.8 0 1 0 -3.6 0zM436.1 183.82a1.8 1.8 0 1 0 3.6 0a1.8 1.8 0 1 0 -3.6 0zM501.7 183.82a1.8 1.8 0 1 0 3.6 0a1.8 1.8 0 1 0 -3.6 0zM516.6 183.82a1.8 1.8 0 1 0 3.6 0a1.8 1.8 0 1 0 -3.6 0zM585.2 183.82a1.8 1.8 0 1 0 3.6 0a1.8 1.8 0 1 0 -3.6 0zM589.5 183.82a1.8 1.8 0 1 0 3.6 0a1.8 1.8 0 1 0 -3.6 0zM616.2 183.82a1.8 1.8 0 1 0 3.6 0a1.8 1.8 0 1 0 -3.6 0zM618.4 183.82a1.8 1.8 0 1 0 3.6 0a1.8 1.8 0 1 0 -3.6 0zM650.2 183.82a1.8 1.8 0 1 0 3.6 0a1.8 1.8 0 1 0 -3.6 0zM652.3 183.82a1.8 1.8 0 1 0 3.6 0a1.8 1.8 0 1 0 -3.6 0zM656.6 183.82a1.8 1.8 0 1 0 3.6 0a1.8 1.8 0 1 0 -3.6 0zM671.7 183.82a1.8 1.8 0 1 0 3.6 0a1.8 1.8 0 1 0 -3.6 0zM707.4 183.82a1.8 1.8 0 1 0 3.6 0a1.8 1.8 0 1 0 -3.6 0zM731.6 183.82a1.8 1.8 0 1 0 3.6 0a1.8 1.8 0 1 0 -3.6 0zM523 190.71a1.8 1.8 0 1 0 3.6 0a1.8 1.8 0 1 0 -3.6 0zM602.8 190.71a1.8 1.8 0 1 0 3.6 0a1.8 1.8 0 1 0 -3.6 0zM604.6 190.71a1.8 1.8 0 1 0 3.6 0a1.8 1.8 0 1 0 -3.6 0zM612.6 190.71a1.8 1.8 0 1 0 3.6 0a1.8 1.8 0 1 0 -3.6 0zM620.5 190.71a1.8 1.8 0 1 0 3.6 0a1.8 1.8 0 1 0 -3.6 0zM641.7 190.71a1.8 1.8 0 1 0 3.6 0a1.8 1.8 0 1 0 -3.6 0zM653.8 190.71a1.8 1.8 0 1 0 3.6 0a1.8 1.8 0 1 0 -3.6 0zM739.7 190.71a1.8 1.8 0 1 0 3.6 0a1.8 1.8 0 1 0 -3.6 0zM456.3 197.6a1.8 1.8 0 1 0 3.6 0a1.8 1.8 0 1 0 -3.6 0zM476.7 197.6a1.8 1.8 0 1 0 3.6 0a1.8 1.8 0 1 0 -3.6 0zM607.1 197.6a1.8 1.8 0 1 0 3.6 0a1.8 1.8 0 1 0 -3.6 0zM687.6 197.6a1.8 1.8 0 1 0 3.6 0a1.8 1.8 0 1 0 -3.6 0zM690.8 197.6a1.8 1.8 0 1 0 3.6 0a1.8 1.8 0 1 0 -3.6 0zM444.6 204.49a1.8 1.8 0 1 0 3.6 0a1.8 1.8 0 1 0 -3.6 0zM452.5 204.49a1.8 1.8 0 1 0 3.6 0a1.8 1.8 0 1 0 -3.6 0zM513.2 204.49a1.8 1.8 0 1 0 3.6 0a1.8 1.8 0 1 0 -3.6 0zM543.4 204.49a1.8 1.8 0 1 0 3.6 0a1.8 1.8 0 1 0 -3.6 0zM545.5 204.49a1.8 1.8 0 1 0 3.6 0a1.8 1.8 0 1 0 -3.6 0zM555.5 204.49a1.8 1.8 0 1 0 3.6 0a1.8 1.8 0 1 0 -3.6 0zM575.2 204.49a1.8 1.8 0 1 0 3.6 0a1.8 1.8 0 1 0 -3.6 0zM587.3 204.49a1.8 1.8 0 1 0 3.6 0a1.8 1.8 0 1 0 -3.6 0zM589.5 204.49a1.8 1.8 0 1 0 3.6 0a1.8 1.8 0 1 0 -3.6 0zM619 204.49a1.8 1.8 0 1 0 3.6 0a1.8 1.8 0 1 0 -3.6 0zM738 204.49a1.8 1.8 0 1 0 3.6 0a1.8 1.8 0 1 0 -3.6 0zM444.3 204.49a1.8 1.8 0 1 0 3.6 0a1.8 1.8 0 1 0 -3.6 0zM452.2 204.49a1.8 1.8 0 1 0 3.6 0a1.8 1.8 0 1 0 -3.6 0zM513.5 204.49a1.8 1.8 0 1 0 3.6 0a1.8 1.8 0 1 0 -3.6 0zM538 204.49a1.8 1.8 0 1 0 3.6 0a1.8 1.8 0 1 0 -3.6 0zM541.8 204.49a1.8 1.8 0 1 0 3.6 0a1.8 1.8 0 1 0 -3.6 0zM544.9 204.49a1.8 1.8 0 1 0 3.6 0a1.8 1.8 0 1 0 -3.6 0zM555.7 204.49a1.8 1.8 0 1 0 3.6 0a1.8 1.8 0 1 0 -3.6 0zM575.3 204.49a1.8 1.8 0 1 0 3.6 0a1.8 1.8 0 1 0 -3.6 0zM586.6 204.49a1.8 1.8 0 1 0 3.6 0a1.8 1.8 0 1 0 -3.6 0zM589 204.49a1.8 1.8 0 1 0 3.6 0a1.8 1.8 0 1 0 -3.6 0zM738.6 204.49a1.8 1.8 0 1 0 3.6 0a1.8 1.8 0 1 0 -3.6 0zM426.9 211.38a1.8 1.8 0 1 0 3.6 0a1.8 1.8 0 1 0 -3.6 0zM442.4 211.38a1.8 1.8 0 1 0 3.6 0a1.8 1.8 0 1 0 -3.6 0zM449.7 211.38a1.8 1.8 0 1 0 3.6 0a1.8 1.8 0 1 0 -3.6 0zM457 211.38a1.8 1.8 0 1 0 3.6 0a1.8 1.8 0 1 0 -3.6 0zM460.7 211.38a1.8 1.8 0 1 0 3.6 0a1.8 1.8 0 1 0 -3.6 0zM473 211.38a1.8 1.8 0 1 0 3.6 0a1.8 1.8 0 1 0 -3.6 0zM473.6 211.38a1.8 1.8 0 1 0 3.6 0a1.8 1.8 0 1 0 -3.6 0zM491.4 211.38a1.8 1.8 0 1 0 3.6 0a1.8 1.8 0 1 0 -3.6 0zM497.6 211.38a1.8 1.8 0 1 0 3.6 0a1.8 1.8 0 1 0 -3.6 0zM503.7 211.38a1.8 1.8 0 1 0 3.6 0a1.8 1.8 0 1 0 -3.6 0zM505.4 211.38a1.8 1.8 0 1 0 3.6 0a1.8 1.8 0 1 0 -3.6 0zM515.2 211.38a1.8 1.8 0 1 0 3.6 0a1.8 1.8 0 1 0 -3.6 0zM524 211.38a1.8 1.8 0 1 0 3.6 0a1.8 1.8 0 1 0 -3.6 0zM529.9 211.38a1.8 1.8 0 1 0 3.6 0a1.8 1.8 0 1 0 -3.6 0zM541.8 211.38a1.8 1.8 0 1 0 3.6 0a1.8 1.8 0 1 0 -3.6 0zM571.1 211.38a1.8 1.8 0 1 0 3.6 0a1.8 1.8 0 1 0 -3.6 0zM572.8 211.38a1.8 1.8 0 1 0 3.6 0a1.8 1.8 0 1 0 -3.6 0zM579.2 211.38a1.8 1.8 0 1 0 3.6 0a1.8 1.8 0 1 0 -3.6 0zM591.9 211.38a1.8 1.8 0 1 0 3.6 0a1.8 1.8 0 1 0 -3.6 0zM614.1 211.38a1.8 1.8 0 1 0 3.6 0a1.8 1.8 0 1 0 -3.6 0zM620.7 211.38a1.8 1.8 0 1 0 3.6 0a1.8 1.8 0 1 0 -3.6 0zM622.7 211.38a1.8 1.8 0 1 0 3.6 0a1.8 1.8 0 1 0 -3.6 0zM645.9 211.38a1.8 1.8 0 1 0 3.6 0a1.8 1.8 0 1 0 -3.6 0zM670.5 211.38a1.8 1.8 0 1 0 3.6 0a1.8 1.8 0 1 0 -3.6 0zM674.2 211.38a1.8 1.8 0 1 0 3.6 0a1.8 1.8 0 1 0 -3.6 0zM684 211.38a1.8 1.8 0 1 0 3.6 0a1.8 1.8 0 1 0 -3.6 0zM688.9 211.38a1.8 1.8 0 1 0 3.6 0a1.8 1.8 0 1 0 -3.6 0zM692.1 211.38a1.8 1.8 0 1 0 3.6 0a1.8 1.8 0 1 0 -3.6 0zM693.8 211.38a1.8 1.8 0 1 0 3.6 0a1.8 1.8 0 1 0 -3.6 0zM701.9 211.38a1.8 1.8 0 1 0 3.6 0a1.8 1.8 0 1 0 -3.6 0zM705.3 211.38a1.8 1.8 0 1 0 3.6 0a1.8 1.8 0 1 0 -3.6 0zM707.3 211.38a1.8 1.8 0 1 0 3.6 0a1.8 1.8 0 1 0 -3.6 0zM712.2 211.38a1.8 1.8 0 1 0 3.6 0a1.8 1.8 0 1 0 -3.6 0zM742 211.38a1.8 1.8 0 1 0 3.6 0a1.8 1.8 0 1 0 -3.6 0zM744 211.38a1.8 1.8 0 1 0 3.6 0a1.8 1.8 0 1 0 -3.6 0zM432.6 218.27a1.8 1.8 0 1 0 3.6 0a1.8 1.8 0 1 0 -3.6 0zM439.9 218.27a1.8 1.8 0 1 0 3.6 0a1.8 1.8 0 1 0 -3.6 0zM450.9 218.27a1.8 1.8 0 1 0 3.6 0a1.8 1.8 0 1 0 -3.6 0zM459 218.27a1.8 1.8 0 1 0 3.6 0a1.8 1.8 0 1 0 -3.6 0zM464.9 218.27a1.8 1.8 0 1 0 3.6 0a1.8 1.8 0 1 0 -3.6 0zM470.5 218.27a1.8 1.8 0 1 0 3.6 0a1.8 1.8 0 1 0 -3.6 0zM471.1 218.27a1.8 1.8 0 1 0 3.6 0a1.8 1.8 0 1 0 -3.6 0zM475.1 218.27a1.8 1.8 0 1 0 3.6 0a1.8 1.8 0 1 0 -3.6 0zM486.6 218.27a1.8 1.8 0 1 0 3.6 0a1.8 1.8 0 1 0 -3.6 0zM500 218.27a1.8 1.8 0 1 0 3.6 0a1.8 1.8 0 1 0 -3.6 0zM509.3 218.27a1.8 1.8 0 1 0 3.6 0a1.8 1.8 0 1 0 -3.6 0zM535.5 218.27a1.8 1.8 0 1 0 3.6 0a1.8 1.8 0 1 0 -3.6 0zM536.1 218.27a1.8 1.8 0 1 0 3.6 0a1.8 1.8 0 1 0 -3.6 0zM545.4 218.27a1.8 1.8 0 1 0 3.6 0a1.8 1.8 0 1 0 -3.6 0zM546.7 218.27a1.8 1.8 0 1 0 3.6 0a1.8 1.8 0 1 0 -3.6 0zM558.2 218.27a1.8 1.8 0 1 0 3.6 0a1.8 1.8 0 1 0 -3.6 0zM563.8 218.27a1.8 1.8 0 1 0 3.6 0a1.8 1.8 0 1 0 -3.6 0zM565 218.27a1.8 1.8 0 1 0 3.6 0a1.8 1.8 0 1 0 -3.6 0zM576 218.27a1.8 1.8 0 1 0 3.6 0a1.8 1.8 0 1 0 -3.6 0zM577.7 218.27a1.8 1.8 0 1 0 3.6 0a1.8 1.8 0 1 0 -3.6 0zM596.3 218.27a1.8 1.8 0 1 0 3.6 0a1.8 1.8 0 1 0 -3.6 0zM598.2 218.27a1.8 1.8 0 1 0 3.6 0a1.8 1.8 0 1 0 -3.6 0zM608 218.27a1.8 1.8 0 1 0 3.6 0a1.8 1.8 0 1 0 -3.6 0zM611.7 218.27a1.8 1.8 0 1 0 3.6 0a1.8 1.8 0 1 0 -3.6 0zM647.1 218.27a1.8 1.8 0 1 0 3.6 0a1.8 1.8 0 1 0 -3.6 0zM665.5 218.27a1.8 1.8 0 1 0 3.6 0a1.8 1.8 0 1 0 -3.6 0zM666.2 218.27a1.8 1.8 0 1 0 3.6 0a1.8 1.8 0 1 0 -3.6 0zM670.1 218.27a1.8 1.8 0 1 0 3.6 0a1.8 1.8 0 1 0 -3.6 0zM675 218.27a1.8 1.8 0 1 0 3.6 0a1.8 1.8 0 1 0 -3.6 0zM676.7 218.27a1.8 1.8 0 1 0 3.6 0a1.8 1.8 0 1 0 -3.6 0zM687.2 218.27a1.8 1.8 0 1 0 3.6 0a1.8 1.8 0 1 0 -3.6 0zM695 218.27a1.8 1.8 0 1 0 3.6 0a1.8 1.8 0 1 0 -3.6 0zM718.3 218.27a1.8 1.8 0 1 0 3.6 0a1.8 1.8 0 1 0 -3.6 0zM729.3 218.27a1.8 1.8 0 1 0 3.6 0a1.8 1.8 0 1 0 -3.6 0zM732.2 218.27a1.8 1.8 0 1 0 3.6 0a1.8 1.8 0 1 0 -3.6 0zM747.7 218.27a1.8 1.8 0 1 0 3.6 0a1.8 1.8 0 1 0 -3.6 0zM414.9 225.16a1.8 1.8 0 1 0 3.6 0a1.8 1.8 0 1 0 -3.6 0zM430.1 225.16a1.8 1.8 0 1 0 3.6 0a1.8 1.8 0 1 0 -3.6 0zM441.9 225.16a1.8 1.8 0 1 0 3.6 0a1.8 1.8 0 1 0 -3.6 0zM445.3 225.16a1.8 1.8 0 1 0 3.6 0a1.8 1.8 0 1 0 -3.6 0zM455.8 225.16a1.8 1.8 0 1 0 3.6 0a1.8 1.8 0 1 0 -3.6 0zM470.5 225.16a1.8 1.8 0 1 0 3.6 0a1.8 1.8 0 1 0 -3.6 0zM476.8 225.16a1.8 1.8 0 1 0 3.6 0a1.8 1.8 0 1 0 -3.6 0zM485.8 225.16a1.8 1.8 0 1 0 3.6 0a1.8 1.8 0 1 0 -3.6 0zM490.7 225.16a1.8 1.8 0 1 0 3.6 0a1.8 1.8 0 1 0 -3.6 0zM493.9 225.16a1.8 1.8 0 1 0 3.6 0a1.8 1.8 0 1 0 -3.6 0zM499.5 225.16a1.8 1.8 0 1 0 3.6 0a1.8 1.8 0 1 0 -3.6 0zM508.6 225.16a1.8 1.8 0 1 0 3.6 0a1.8 1.8 0 1 0 -3.6 0zM511 225.16a1.8 1.8 0 1 0 3.6 0a1.8 1.8 0 1 0 -3.6 0zM518.4 225.16a1.8 1.8 0 1 0 3.6 0a1.8 1.8 0 1 0 -3.6 0zM532.3 225.16a1.8 1.8 0 1 0 3.6 0a1.8 1.8 0 1 0 -3.6 0zM540.1 225.16a1.8 1.8 0 1 0 3.6 0a1.8 1.8 0 1 0 -3.6 0zM536.9 225.16a1.8 1.8 0 1 0 3.6 0a1.8 1.8 0 1 0 -3.6 0zM552.3 225.16a1.8 1.8 0 1 0 3.6 0a1.8 1.8 0 1 0 -3.6 0zM554.7 225.16a1.8 1.8 0 1 0 3.6 0a1.8 1.8 0 1 0 -3.6 0zM562.6 225.16a1.8 1.8 0 1 0 3.6 0a1.8 1.8 0 1 0 -3.6 0zM582.1 225.16a1.8 1.8 0 1 0 3.6 0a1.8 1.8 0 1 0 -3.6 0zM595.6 225.16a1.8 1.8 0 1 0 3.6 0a1.8 1.8 0 1 0 -3.6 0zM599.3 225.16a1.8 1.8 0 1 0 3.6 0a1.8 1.8 0 1 0 -3.6 0zM600.6 225.16a1.8 1.8 0 1 0 3.6 0a1.8 1.8 0 1 0 -3.6 0zM610.4 225.16a1.8 1.8 0 1 0 3.6 0a1.8 1.8 0 1 0 -3.6 0zM622.2 225.16a1.8 1.8 0 1 0 3.6 0a1.8 1.8 0 1 0 -3.6 0zM648.4 225.16a1.8 1.8 0 1 0 3.6 0a1.8 1.8 0 1 0 -3.6 0zM655 225.16a1.8 1.8 0 1 0 3.6 0a1.8 1.8 0 1 0 -3.6 0zM658.2 225.16a1.8 1.8 0 1 0 3.6 0a1.8 1.8 0 1 0 -3.6 0zM682.3 225.16a1.8 1.8 0 1 0 3.6 0a1.8 1.8 0 1 0 -3.6 0zM684 225.16a1.8 1.8 0 1 0 3.6 0a1.8 1.8 0 1 0 -3.6 0zM685.7 225.16a1.8 1.8 0 1 0 3.6 0a1.8 1.8 0 1 0 -3.6 0zM699.4 225.16a1.8 1.8 0 1 0 3.6 0a1.8 1.8 0 1 0 -3.6 0zM708.5 225.16a1.8 1.8 0 1 0 3.6 0a1.8 1.8 0 1 0 -3.6 0zM725.6 225.16a1.8 1.8 0 1 0 3.6 0a1.8 1.8 0 1 0 -3.6 0zM727.4 225.16a1.8 1.8 0 1 0 3.6 0a1.8 1.8 0 1 0 -3.6 0zM736.7 225.16a1.8 1.8 0 1 0 3.6 0a1.8 1.8 0 1 0 -3.6 0zM741.1 225.16a1.8 1.8 0 1 0 3.6 0a1.8 1.8 0 1 0 -3.6 0zM419.8 232.05a1.8 1.8 0 1 0 3.6 0a1.8 1.8 0 1 0 -3.6 0zM424.7 232.05a1.8 1.8 0 1 0 3.6 0a1.8 1.8 0 1 0 -3.6 0zM426.4 232.05a1.8 1.8 0 1 0 3.6 0a1.8 1.8 0 1 0 -3.6 0zM431.3 232.05a1.8 1.8 0 1 0 3.6 0a1.8 1.8 0 1 0 -3.6 0zM446.8 232.05a1.8 1.8 0 1 0 3.6 0a1.8 1.8 0 1 0 -3.6 0zM449.7 232.05a1.8 1.8 0 1 0 3.6 0a1.8 1.8 0 1 0 -3.6 0zM452.1 232.05a1.8 1.8 0 1 0 3.6 0a1.8 1.8 0 1 0 -3.6 0zM454.6 232.05a1.8 1.8 0 1 0 3.6 0a1.8 1.8 0 1 0 -3.6 0zM457.5 232.05a1.8 1.8 0 1 0 3.6 0a1.8 1.8 0 1 0 -3.6 0zM463.9 232.05a1.8 1.8 0 1 0 3.6 0a1.8 1.8 0 1 0 -3.6 0zM468.1 232.05a1.8 1.8 0 1 0 3.6 0a1.8 1.8 0 1 0 -3.6 0zM468.2 232.05a1.8 1.8 0 1 0 3.6 0a1.8 1.8 0 1 0 -3.6 0zM484.1 232.05a1.8 1.8 0 1 0 3.6 0a1.8 1.8 0 1 0 -3.6 0zM487.8 232.05a1.8 1.8 0 1 0 3.6 0a1.8 1.8 0 1 0 -3.6 0zM497.1 232.05a1.8 1.8 0 1 0 3.6 0a1.8 1.8 0 1 0 -3.6 0zM502.5 232.05a1.8 1.8 0 1 0 3.6 0a1.8 1.8 0 1 0 -3.6 0zM505.4 232.05a1.8 1.8 0 1 0 3.6 0a1.8 1.8 0 1 0 -3.6 0zM522.5 232.05a1.8 1.8 0 1 0 3.6 0a1.8 1.8 0 1 0 -3.6 0zM528.2 232.05a1.8 1.8 0 1 0 3.6 0a1.8 1.8 0 1 0 -3.6 0zM533.8 232.05a1.8 1.8 0 1 0 3.6 0a1.8 1.8 0 1 0 -3.6 0zM536.2 232.05a1.8 1.8 0 1 0 3.6 0a1.8 1.8 0 1 0 -3.6 0zM535.6 232.05a1.8 1.8 0 1 0 3.6 0a1.8 1.8 0 1 0 -3.6 0zM538.1 232.05a1.8 1.8 0 1 0 3.6 0a1.8 1.8 0 1 0 -3.6 0zM556.4 232.05a1.8 1.8 0 1 0 3.6 0a1.8 1.8 0 1 0 -3.6 0zM567.5 232.05a1.8 1.8 0 1 0 3.6 0a1.8 1.8 0 1 0 -3.6 0zM569.9 232.05a1.8 1.8 0 1 0 3.6 0a1.8 1.8 0 1 0 -3.6 0zM572.4 232.05a1.8 1.8 0 1 0 3.6 0a1.8 1.8 0 1 0 -3.6 0zM590.7 232.05a1.8 1.8 0 1 0 3.6 0a1.8 1.8 0 1 0 -3.6 0zM594.4 232.05a1.8 1.8 0 1 0 3.6 0a1.8 1.8 0 1 0 -3.6 0zM605.5 232.05a1.8 1.8 0 1 0 3.6 0a1.8 1.8 0 1 0 -3.6 0zM617.3 232.05a1.8 1.8 0 1 0 3.6 0a1.8 1.8 0 1 0 -3.6 0zM621.4 232.05a1.8 1.8 0 1 0 3.6 0a1.8 1.8 0 1 0 -3.6 0zM623.9 232.05a1.8 1.8 0 1 0 3.6 0a1.8 1.8 0 1 0 -3.6 0zM627.1 232.05a1.8 1.8 0 1 0 3.6 0a1.8 1.8 0 1 0 -3.6 0zM629.5 232.05a1.8 1.8 0 1 0 3.6 0a1.8 1.8 0 1 0 -3.6 0zM634.4 232.05a1.8 1.8 0 1 0 3.6 0a1.8 1.8 0 1 0 -3.6 0zM637.4 232.05a1.8 1.8 0 1 0 3.6 0a1.8 1.8 0 1 0 -3.6 0zM640.3 232.05a1.8 1.8 0 1 0 3.6 0a1.8 1.8 0 1 0 -3.6 0zM642.7 232.05a1.8 1.8 0 1 0 3.6 0a1.8 1.8 0 1 0 -3.6 0zM648.4 232.05a1.8 1.8 0 1 0 3.6 0a1.8 1.8 0 1 0 -3.6 0zM655 232.05a1.8 1.8 0 1 0 3.6 0a1.8 1.8 0 1 0 -3.6 0zM663.1 232.05a1.8 1.8 0 1 0 3.6 0a1.8 1.8 0 1 0 -3.6 0zM665.5 232.05a1.8 1.8 0 1 0 3.6 0a1.8 1.8 0 1 0 -3.6 0zM664.4 232.05a1.8 1.8 0 1 0 3.6 0a1.8 1.8 0 1 0 -3.6 0zM667.6 232.05a1.8 1.8 0 1 0 3.6 0a1.8 1.8 0 1 0 -3.6 0zM669.3 232.05a1.8 1.8 0 1 0 3.6 0a1.8 1.8 0 1 0 -3.6 0zM680.8 232.05a1.8 1.8 0 1 0 3.6 0a1.8 1.8 0 1 0 -3.6 0zM682.3 232.05a1.8 1.8 0 1 0 3.6 0a1.8 1.8 0 1 0 -3.6 0zM698 232.05a1.8 1.8 0 1 0 3.6 0a1.8 1.8 0 1 0 -3.6 0zM702.9 232.05a1.8 1.8 0 1 0 3.6 0a1.8 1.8 0 1 0 -3.6 0zM706 232.05a1.8 1.8 0 1 0 3.6 0a1.8 1.8 0 1 0 -3.6 0zM708.5 232.05a1.8 1.8 0 1 0 3.6 0a1.8 1.8 0 1 0 -3.6 0zM713.4 232.05a1.8 1.8 0 1 0 3.6 0a1.8 1.8 0 1 0 -3.6 0zM719 232.05a1.8 1.8 0 1 0 3.6 0a1.8 1.8 0 1 0 -3.6 0zM723.2 232.05a1.8 1.8 0 1 0 3.6 0a1.8 1.8 0 1 0 -3.6 0zM728.1 232.05a1.8 1.8 0 1 0 3.6 0a1.8 1.8 0 1 0 -3.6 0zM736.2 232.05a1.8 1.8 0 1 0 3.6 0a1.8 1.8 0 1 0 -3.6 0zM740.3 232.05a1.8 1.8 0 1 0 3.6 0a1.8 1.8 0 1 0 -3.6 0zM747.7 232.05a1.8 1.8 0 1 0 3.6 0a1.8 1.8 0 1 0 -3.6 0zM418.4 238.94a1.8 1.8 0 1 0 3.6 0a1.8 1.8 0 1 0 -3.6 0zM423.3 238.94a1.8 1.8 0 1 0 3.6 0a1.8 1.8 0 1 0 -3.6 0zM434.5 238.94a1.8 1.8 0 1 0 3.6 0a1.8 1.8 0 1 0 -3.6 0zM438 238.94a1.8 1.8 0 1 0 3.6 0a1.8 1.8 0 1 0 -3.6 0zM456.6 238.94a1.8 1.8 0 1 0 3.6 0a1.8 1.8 0 1 0 -3.6 0zM489 238.94a1.8 1.8 0 1 0 3.6 0a1.8 1.8 0 1 0 -3.6 0zM511 238.94a1.8 1.8 0 1 0 3.6 0a1.8 1.8 0 1 0 -3.6 0zM547.4 238.94a1.8 1.8 0 1 0 3.6 0a1.8 1.8 0 1 0 -3.6 0zM551.6 238.94a1.8 1.8 0 1 0 3.6 0a1.8 1.8 0 1 0 -3.6 0zM558.9 238.94a1.8 1.8 0 1 0 3.6 0a1.8 1.8 0 1 0 -3.6 0zM578.5 238.94a1.8 1.8 0 1 0 3.6 0a1.8 1.8 0 1 0 -3.6 0zM590 238.94a1.8 1.8 0 1 0 3.6 0a1.8 1.8 0 1 0 -3.6 0zM601.2 238.94a1.8 1.8 0 1 0 3.6 0a1.8 1.8 0 1 0 -3.6 0zM601.1 238.94a1.8 1.8 0 1 0 3.6 0a1.8 1.8 0 1 0 -3.6 0zM632.5 238.94a1.8 1.8 0 1 0 3.6 0a1.8 1.8 0 1 0 -3.6 0zM636.9 238.94a1.8 1.8 0 1 0 3.6 0a1.8 1.8 0 1 0 -3.6 0zM649.6 238.94a1.8 1.8 0 1 0 3.6 0a1.8 1.8 0 1 0 -3.6 0zM664.3 238.94a1.8 1.8 0 1 0 3.6 0a1.8 1.8 0 1 0 -3.6 0zM667.6 238.94a1.8 1.8 0 1 0 3.6 0a1.8 1.8 0 1 0 -3.6 0zM669.3 238.94a1.8 1.8 0 1 0 3.6 0a1.8 1.8 0 1 0 -3.6 0zM678.4 238.94a1.8 1.8 0 1 0 3.6 0a1.8 1.8 0 1 0 -3.6 0zM679.9 238.94a1.8 1.8 0 1 0 3.6 0a1.8 1.8 0 1 0 -3.6 0zM698 238.94a1.8 1.8 0 1 0 3.6 0a1.8 1.8 0 1 0 -3.6 0zM709.7 238.94a1.8 1.8 0 1 0 3.6 0a1.8 1.8 0 1 0 -3.6 0zM720.7 238.94a1.8 1.8 0 1 0 3.6 0a1.8 1.8 0 1 0 -3.6 0zM728.1 238.94a1.8 1.8 0 1 0 3.6 0a1.8 1.8 0 1 0 -3.6 0zM733.7 238.94a1.8 1.8 0 1 0 3.6 0a1.8 1.8 0 1 0 -3.6 0zM736.2 238.94a1.8 1.8 0 1 0 3.6 0a1.8 1.8 0 1 0 -3.6 0zM744 238.94a1.8 1.8 0 1 0 3.6 0a1.8 1.8 0 1 0 -3.6 0zM747.7 238.94a1.8 1.8 0 1 0 3.6 0a1.8 1.8 0 1 0 -3.6 0zM421.6 245.83a1.8 1.8 0 1 0 3.6 0a1.8 1.8 0 1 0 -3.6 0zM423.3 245.83a1.8 1.8 0 1 0 3.6 0a1.8 1.8 0 1 0 -3.6 0zM428.9 245.83a1.8 1.8 0 1 0 3.6 0a1.8 1.8 0 1 0 -3.6 0zM432.6 245.83a1.8 1.8 0 1 0 3.6 0a1.8 1.8 0 1 0 -3.6 0zM447.3 245.83a1.8 1.8 0 1 0 3.6 0a1.8 1.8 0 1 0 -3.6 0zM454.6 245.83a1.8 1.8 0 1 0 3.6 0a1.8 1.8 0 1 0 -3.6 0zM460 245.83a1.8 1.8 0 1 0 3.6 0a1.8 1.8 0 1 0 -3.6 0zM480.4 245.83a1.8 1.8 0 1 0 3.6 0a1.8 1.8 0 1 0 -3.6 0zM482.9 245.83a1.8 1.8 0 1 0 3.6 0a1.8 1.8 0 1 0 -3.6 0zM484.8 245.83a1.8 1.8 0 1 0 3.6 0a1.8 1.8 0 1 0 -3.6 0zM498.8 245.83a1.8 1.8 0 1 0 3.6 0a1.8 1.8 0 1 0 -3.6 0zM506.9 245.83a1.8 1.8 0 1 0 3.6 0a1.8 1.8 0 1 0 -3.6 0zM515.9 245.83a1.8 1.8 0 1 0 3.6 0a1.8 1.8 0 1 0 -3.6 0zM520.1 245.83a1.8 1.8 0 1 0 3.6 0a1.8 1.8 0 1 0 -3.6 0zM521.6 245.83a1.8 1.8 0 1 0 3.6 0a1.8 1.8 0 1 0 -3.6 0zM526.9 245.83a1.8 1.8 0 1 0 3.6 0a1.8 1.8 0 1 0 -3.6 0zM532.3 245.83a1.8 1.8 0 1 0 3.6 0a1.8 1.8 0 1 0 -3.6 0zM533.2 245.83a1.8 1.8 0 1 0 3.6 0a1.8 1.8 0 1 0 -3.6 0zM557.2 245.83a1.8 1.8 0 1 0 3.6 0a1.8 1.8 0 1 0 -3.6 0zM574.3 245.83a1.8 1.8 0 1 0 3.6 0a1.8 1.8 0 1 0 -3.6 0zM577.3 245.83a1.8 1.8 0 1 0 3.6 0a1.8 1.8 0 1 0 -3.6 0zM580.2 245.83a1.8 1.8 0 1 0 3.6 0a1.8 1.8 0 1 0 -3.6 0zM583.4 245.83a1.8 1.8 0 1 0 3.6 0a1.8 1.8 0 1 0 -3.6 0zM586.6 245.83a1.8 1.8 0 1 0 3.6 0a1.8 1.8 0 1 0 -3.6 0zM591.9 245.83a1.8 1.8 0 1 0 3.6 0a1.8 1.8 0 1 0 -3.6 0zM601.7 245.83a1.8 1.8 0 1 0 3.6 0a1.8 1.8 0 1 0 -3.6 0zM602.6 245.83a1.8 1.8 0 1 0 3.6 0a1.8 1.8 0 1 0 -3.6 0zM605.5 245.83a1.8 1.8 0 1 0 3.6 0a1.8 1.8 0 1 0 -3.6 0zM613.4 245.83a1.8 1.8 0 1 0 3.6 0a1.8 1.8 0 1 0 -3.6 0zM614.8 245.83a1.8 1.8 0 1 0 3.6 0a1.8 1.8 0 1 0 -3.6 0zM630 245.83a1.8 1.8 0 1 0 3.6 0a1.8 1.8 0 1 0 -3.6 0zM638.6 245.83a1.8 1.8 0 1 0 3.6 0a1.8 1.8 0 1 0 -3.6 0zM640.3 245.83a1.8 1.8 0 1 0 3.6 0a1.8 1.8 0 1 0 -3.6 0zM655.7 245.83a1.8 1.8 0 1 0 3.6 0a1.8 1.8 0 1 0 -3.6 0zM679.9 245.83a1.8 1.8 0 1 0 3.6 0a1.8 1.8 0 1 0 -3.6 0zM689.6 245.83a1.8 1.8 0 1 0 3.6 0a1.8 1.8 0 1 0 -3.6 0zM690.6 245.83a1.8 1.8 0 1 0 3.6 0a1.8 1.8 0 1 0 -3.6 0zM695.5 245.83a1.8 1.8 0 1 0 3.6 0a1.8 1.8 0 1 0 -3.6 0zM715.8 245.83a1.8 1.8 0 1 0 3.6 0a1.8 1.8 0 1 0 -3.6 0zM717.6 245.83a1.8 1.8 0 1 0 3.6 0a1.8 1.8 0 1 0 -3.6 0zM415.4 252.72a1.8 1.8 0 1 0 3.6 0a1.8 1.8 0 1 0 -3.6 0zM467.3 252.72a1.8 1.8 0 1 0 3.6 0a1.8 1.8 0 1 0 -3.6 0zM469.3 252.72a1.8 1.8 0 1 0 3.6 0a1.8 1.8 0 1 0 -3.6 0zM469.4 252.72a1.8 1.8 0 1 0 3.6 0a1.8 1.8 0 1 0 -3.6 0zM478 252.72a1.8 1.8 0 1 0 3.6 0a1.8 1.8 0 1 0 -3.6 0zM481.7 252.72a1.8 1.8 0 1 0 3.6 0a1.8 1.8 0 1 0 -3.6 0zM490.2 252.72a1.8 1.8 0 1 0 3.6 0a1.8 1.8 0 1 0 -3.6 0zM496.3 252.72a1.8 1.8 0 1 0 3.6 0a1.8 1.8 0 1 0 -3.6 0zM501.2 252.72a1.8 1.8 0 1 0 3.6 0a1.8 1.8 0 1 0 -3.6 0zM517.2 252.72a1.8 1.8 0 1 0 3.6 0a1.8 1.8 0 1 0 -3.6 0zM522 252.72a1.8 1.8 0 1 0 3.6 0a1.8 1.8 0 1 0 -3.6 0zM535.5 252.72a1.8 1.8 0 1 0 3.6 0a1.8 1.8 0 1 0 -3.6 0zM550.8 252.72a1.8 1.8 0 1 0 3.6 0a1.8 1.8 0 1 0 -3.6 0zM559.6 252.72a1.8 1.8 0 1 0 3.6 0a1.8 1.8 0 1 0 -3.6 0zM565 252.72a1.8 1.8 0 1 0 3.6 0a1.8 1.8 0 1 0 -3.6 0zM573.6 252.72a1.8 1.8 0 1 0 3.6 0a1.8 1.8 0 1 0 -3.6 0zM601.2 252.72a1.8 1.8 0 1 0 3.6 0a1.8 1.8 0 1 0 -3.6 0zM623.2 252.72a1.8 1.8 0 1 0 3.6 0a1.8 1.8 0 1 0 -3.6 0zM627.6 252.72a1.8 1.8 0 1 0 3.6 0a1.8 1.8 0 1 0 -3.6 0zM630 252.72a1.8 1.8 0 1 0 3.6 0a1.8 1.8 0 1 0 -3.6 0zM650.8 252.72a1.8 1.8 0 1 0 3.6 0a1.8 1.8 0 1 0 -3.6 0zM661.3 252.72a1.8 1.8 0 1 0 3.6 0a1.8 1.8 0 1 0 -3.6 0zM701.2 252.72a1.8 1.8 0 1 0 3.6 0a1.8 1.8 0 1 0 -3.6 0zM702.9 252.72a1.8 1.8 0 1 0 3.6 0a1.8 1.8 0 1 0 -3.6 0zM712.2 252.72a1.8 1.8 0 1 0 3.6 0a1.8 1.8 0 1 0 -3.6 0zM715.8 252.72a1.8 1.8 0 1 0 3.6 0a1.8 1.8 0 1 0 -3.6 0zM719.5 252.72a1.8 1.8 0 1 0 3.6 0a1.8 1.8 0 1 0 -3.6 0zM721.5 252.72a1.8 1.8 0 1 0 3.6 0a1.8 1.8 0 1 0 -3.6 0zM726.4 252.72a1.8 1.8 0 1 0 3.6 0a1.8 1.8 0 1 0 -3.6 0zM746 252.72a1.8 1.8 0 1 0 3.6 0a1.8 1.8 0 1 0 -3.6 0zM428.9 259.61a1.8 1.8 0 1 0 3.6 0a1.8 1.8 0 1 0 -3.6 0zM438.7 259.61a1.8 1.8 0 1 0 3.6 0a1.8 1.8 0 1 0 -3.6 0zM479.2 259.61a1.8 1.8 0 1 0 3.6 0a1.8 1.8 0 1 0 -3.6 0zM482.9 259.61a1.8 1.8 0 1 0 3.6 0a1.8 1.8 0 1 0 -3.6 0zM487.8 259.61a1.8 1.8 0 1 0 3.6 0a1.8 1.8 0 1 0 -3.6 0zM490.7 259.61a1.8 1.8 0 1 0 3.6 0a1.8 1.8 0 1 0 -3.6 0zM493.2 259.61a1.8 1.8 0 1 0 3.6 0a1.8 1.8 0 1 0 -3.6 0zM502.5 259.61a1.8 1.8 0 1 0 3.6 0a1.8 1.8 0 1 0 -3.6 0zM511 259.61a1.8 1.8 0 1 0 3.6 0a1.8 1.8 0 1 0 -3.6 0zM525.7 259.61a1.8 1.8 0 1 0 3.6 0a1.8 1.8 0 1 0 -3.6 0zM538 259.61a1.8 1.8 0 1 0 3.6 0a1.8 1.8 0 1 0 -3.6 0zM539.3 259.61a1.8 1.8 0 1 0 3.6 0a1.8 1.8 0 1 0 -3.6 0zM541 259.61a1.8 1.8 0 1 0 3.6 0a1.8 1.8 0 1 0 -3.6 0zM543.5 259.61a1.8 1.8 0 1 0 3.6 0a1.8 1.8 0 1 0 -3.6 0zM546.7 259.61a1.8 1.8 0 1 0 3.6 0a1.8 1.8 0 1 0 -3.6 0zM549.1 259.61a1.8 1.8 0 1 0 3.6 0a1.8 1.8 0 1 0 -3.6 0zM552.8 259.61a1.8 1.8 0 1 0 3.6 0a1.8 1.8 0 1 0 -3.6 0zM560.6 259.61a1.8 1.8 0 1 0 3.6 0a1.8 1.8 0 1 0 -3.6 0zM562.1 259.61a1.8 1.8 0 1 0 3.6 0a1.8 1.8 0 1 0 -3.6 0zM566.2 259.61a1.8 1.8 0 1 0 3.6 0a1.8 1.8 0 1 0 -3.6 0zM577.7 259.61a1.8 1.8 0 1 0 3.6 0a1.8 1.8 0 1 0 -3.6 0zM585.1 259.61a1.8 1.8 0 1 0 3.6 0a1.8 1.8 0 1 0 -3.6 0zM591.9 259.61a1.8 1.8 0 1 0 3.6 0a1.8 1.8 0 1 0 -3.6 0zM598.8 259.61a1.8 1.8 0 1 0 3.6 0a1.8 1.8 0 1 0 -3.6 0zM599.4 259.61a1.8 1.8 0 1 0 3.6 0a1.8 1.8 0 1 0 -3.6 0zM606.8 259.61a1.8 1.8 0 1 0 3.6 0a1.8 1.8 0 1 0 -3.6 0zM608.5 259.61a1.8 1.8 0 1 0 3.6 0a1.8 1.8 0 1 0 -3.6 0zM614.1 259.61a1.8 1.8 0 1 0 3.6 0a1.8 1.8 0 1 0 -3.6 0zM623.2 259.61a1.8 1.8 0 1 0 3.6 0a1.8 1.8 0 1 0 -3.6 0zM625.6 259.61a1.8 1.8 0 1 0 3.6 0a1.8 1.8 0 1 0 -3.6 0zM634.4 259.61a1.8 1.8 0 1 0 3.6 0a1.8 1.8 0 1 0 -3.6 0zM656.9 259.61a1.8 1.8 0 1 0 3.6 0a1.8 1.8 0 1 0 -3.6 0zM662.3 259.61a1.8 1.8 0 1 0 3.6 0a1.8 1.8 0 1 0 -3.6 0zM665.5 259.61a1.8 1.8 0 1 0 3.6 0a1.8 1.8 0 1 0 -3.6 0zM665.6 259.61a1.8 1.8 0 1 0 3.6 0a1.8 1.8 0 1 0 -3.6 0zM673 259.61a1.8 1.8 0 1 0 3.6 0a1.8 1.8 0 1 0 -3.6 0zM694.5 259.61a1.8 1.8 0 1 0 3.6 0a1.8 1.8 0 1 0 -3.6 0zM710.9 259.61a1.8 1.8 0 1 0 3.6 0a1.8 1.8 0 1 0 -3.6 0zM714.6 259.61a1.8 1.8 0 1 0 3.6 0a1.8 1.8 0 1 0 -3.6 0zM722 259.61a1.8 1.8 0 1 0 3.6 0a1.8 1.8 0 1 0 -3.6 0zM742.8 259.61a1.8 1.8 0 1 0 3.6 0a1.8 1.8 0 1 0 -3.6 0zM749.4 259.61a1.8 1.8 0 1 0 3.6 0a1.8 1.8 0 1 0 -3.6 0zM414.2 266.5a1.8 1.8 0 1 0 3.6 0a1.8 1.8 0 1 0 -3.6 0zM417.4 266.5a1.8 1.8 0 1 0 3.6 0a1.8 1.8 0 1 0 -3.6 0zM422.8 266.5a1.8 1.8 0 1 0 3.6 0a1.8 1.8 0 1 0 -3.6 0zM425.2 266.5a1.8 1.8 0 1 0 3.6 0a1.8 1.8 0 1 0 -3.6 0zM428.9 266.5a1.8 1.8 0 1 0 3.6 0a1.8 1.8 0 1 0 -3.6 0zM431.3 266.5a1.8 1.8 0 1 0 3.6 0a1.8 1.8 0 1 0 -3.6 0zM437 266.5a1.8 1.8 0 1 0 3.6 0a1.8 1.8 0 1 0 -3.6 0zM450.2 266.5a1.8 1.8 0 1 0 3.6 0a1.8 1.8 0 1 0 -3.6 0zM454.1 266.5a1.8 1.8 0 1 0 3.6 0a1.8 1.8 0 1 0 -3.6 0zM458.3 266.5a1.8 1.8 0 1 0 3.6 0a1.8 1.8 0 1 0 -3.6 0zM460.7 266.5a1.8 1.8 0 1 0 3.6 0a1.8 1.8 0 1 0 -3.6 0zM471.2 266.5a1.8 1.8 0 1 0 3.6 0a1.8 1.8 0 1 0 -3.6 0zM471.9 266.5a1.8 1.8 0 1 0 3.6 0a1.8 1.8 0 1 0 -3.6 0zM474.3 266.5a1.8 1.8 0 1 0 3.6 0a1.8 1.8 0 1 0 -3.6 0zM477.5 266.5a1.8 1.8 0 1 0 3.6 0a1.8 1.8 0 1 0 -3.6 0zM480.4 266.5a1.8 1.8 0 1 0 3.6 0a1.8 1.8 0 1 0 -3.6 0zM506.1 266.5a1.8 1.8 0 1 0 3.6 0a1.8 1.8 0 1 0 -3.6 0zM514.7 266.5a1.8 1.8 0 1 0 3.6 0a1.8 1.8 0 1 0 -3.6 0zM519.6 266.5a1.8 1.8 0 1 0 3.6 0a1.8 1.8 0 1 0 -3.6 0zM530.6 266.5a1.8 1.8 0 1 0 3.6 0a1.8 1.8 0 1 0 -3.6 0zM542.5 266.5a1.8 1.8 0 1 0 3.6 0a1.8 1.8 0 1 0 -3.6 0zM544.9 266.5a1.8 1.8 0 1 0 3.6 0a1.8 1.8 0 1 0 -3.6 0zM551.6 266.5a1.8 1.8 0 1 0 3.6 0a1.8 1.8 0 1 0 -3.6 0zM554.7 266.5a1.8 1.8 0 1 0 3.6 0a1.8 1.8 0 1 0 -3.6 0zM557.7 266.5a1.8 1.8 0 1 0 3.6 0a1.8 1.8 0 1 0 -3.6 0zM563.1 266.5a1.8 1.8 0 1 0 3.6 0a1.8 1.8 0 1 0 -3.6 0zM575.3 266.5a1.8 1.8 0 1 0 3.6 0a1.8 1.8 0 1 0 -3.6 0zM584.6 266.5a1.8 1.8 0 1 0 3.6 0a1.8 1.8 0 1 0 -3.6 0zM609.2 266.5a1.8 1.8 0 1 0 3.6 0a1.8 1.8 0 1 0 -3.6 0zM615.3 266.5a1.8 1.8 0 1 0 3.6 0a1.8 1.8 0 1 0 -3.6 0zM643.5 266.5a1.8 1.8 0 1 0 3.6 0a1.8 1.8 0 1 0 -3.6 0zM645.2 266.5a1.8 1.8 0 1 0 3.6 0a1.8 1.8 0 1 0 -3.6 0zM650.8 266.5a1.8 1.8 0 1 0 3.6 0a1.8 1.8 0 1 0 -3.6 0zM653.3 266.5a1.8 1.8 0 1 0 3.6 0a1.8 1.8 0 1 0 -3.6 0zM656.9 266.5a1.8 1.8 0 1 0 3.6 0a1.8 1.8 0 1 0 -3.6 0zM663.1 266.5a1.8 1.8 0 1 0 3.6 0a1.8 1.8 0 1 0 -3.6 0zM664.4 266.5a1.8 1.8 0 1 0 3.6 0a1.8 1.8 0 1 0 -3.6 0zM666.9 266.5a1.8 1.8 0 1 0 3.6 0a1.8 1.8 0 1 0 -3.6 0zM668.6 266.5a1.8 1.8 0 1 0 3.6 0a1.8 1.8 0 1 0 -3.6 0zM673 266.5a1.8 1.8 0 1 0 3.6 0a1.8 1.8 0 1 0 -3.6 0zM692.6 266.5a1.8 1.8 0 1 0 3.6 0a1.8 1.8 0 1 0 -3.6 0zM694.5 266.5a1.8 1.8 0 1 0 3.6 0a1.8 1.8 0 1 0 -3.6 0zM696.3 266.5a1.8 1.8 0 1 0 3.6 0a1.8 1.8 0 1 0 -3.6 0zM702.4 266.5a1.8 1.8 0 1 0 3.6 0a1.8 1.8 0 1 0 -3.6 0zM709.2 266.5a1.8 1.8 0 1 0 3.6 0a1.8 1.8 0 1 0 -3.6 0zM718.3 266.5a1.8 1.8 0 1 0 3.6 0a1.8 1.8 0 1 0 -3.6 0zM729.3 266.5a1.8 1.8 0 1 0 3.6 0a1.8 1.8 0 1 0 -3.6 0zM749.4 266.5a1.8 1.8 0 1 0 3.6 0a1.8 1.8 0 1 0 -3.6 0z" fill="#3c3cf2"/>
<path d="M430.8 163.15a1.8 1.8 0 1 0 3.6 0a1.8 1.8 0 1 0 -3.6 0zM441.4 163.15a1.8 1.8 0 1 0 3.6 0a1.8 1.8 0 1 0 -3.6 0zM501.1 163.15a1.8 1.8 0 1 0 3.6 0a1.8 1.8 0 1 0 -3.6 0zM567.2 163.15a1.8 1.8 0 1 0 3.6 0a1.8 1.8 0 1 0 -3.6 0zM576.7 163.15a1.8 1.8 0 1 0 3.6 0a1.8 1.8 0 1 0 -3.6 0zM579.9 163.15a1.8 1.8 0 1 0 3.6 0a1.8 1.8 0 1 0 -3.6 0zM602.8 163.15a1.8 1.8 0 1 0 3.6 0a1.8 1.8 0 1 0 -3.6 0zM602.9 163.15a1.8 1.8 0 1 0 3.6 0a1.8 1.8 0 1 0 -3.6 0zM670.2 163.15a1.8 1.8 0 1 0 3.6 0a1.8 1.8 0 1 0 -3.6 0zM689.1 163.15a1.8 1.8 0 1 0 3.6 0a1.8 1.8 0 1 0 -3.6 0zM694 163.15a1.8 1.8 0 1 0 3.6 0a1.8 1.8 0 1 0 -3.6 0zM739.7 163.15a1.8 1.8 0 1 0 3.6 0a1.8 1.8 0 1 0 -3.6 0zM437.2 170.04a1.8 1.8 0 1 0 3.6 0a1.8 1.8 0 1 0 -3.6 0zM494.1 170.04a1.8 1.8 0 1 0 3.6 0a1.8 1.8 0 1 0 -3.6 0zM497.5 170.04a1.8 1.8 0 1 0 3.6 0a1.8 1.8 0 1 0 -3.6 0zM529.8 170.04a1.8 1.8 0 1 0 3.6 0a1.8 1.8 0 1 0 -3.6 0zM590.1 170.04a1.8 1.8 0 1 0 3.6 0a1.8 1.8 0 1 0 -3.6 0zM745 170.04a1.8 1.8 0 1 0 3.6 0a1.8 1.8 0 1 0 -3.6 0zM455.2 176.93a1.8 1.8 0 1 0 3.6 0a1.8 1.8 0 1 0 -3.6 0zM478.4 176.93a1.8 1.8 0 1 0 3.6 0a1.8 1.8 0 1 0 -3.6 0zM429.1 183.82a1.8 1.8 0 1 0 3.6 0a1.8 1.8 0 1 0 -3.6 0zM469 183.82a1.8 1.8 0 1 0 3.6 0a1.8 1.8 0 1 0 -3.6 0zM469.3 183.82a1.8 1.8 0 1 0 3.6 0a1.8 1.8 0 1 0 -3.6 0zM546.4 183.82a1.8 1.8 0 1 0 3.6 0a1.8 1.8 0 1 0 -3.6 0zM598 183.82a1.8 1.8 0 1 0 3.6 0a1.8 1.8 0 1 0 -3.6 0zM598.6 183.82a1.8 1.8 0 1 0 3.6 0a1.8 1.8 0 1 0 -3.6 0zM691.9 183.82a1.8 1.8 0 1 0 3.6 0a1.8 1.8 0 1 0 -3.6 0zM516.6 190.71a1.8 1.8 0 1 0 3.6 0a1.8 1.8 0 1 0 -3.6 0zM672.1 190.71a1.8 1.8 0 1 0 3.6 0a1.8 1.8 0 1 0 -3.6 0zM447.8 197.6a1.8 1.8 0 1 0 3.6 0a1.8 1.8 0 1 0 -3.6 0zM521.3 197.6a1.8 1.8 0 1 0 3.6 0a1.8 1.8 0 1 0 -3.6 0zM524.5 197.6a1.8 1.8 0 1 0 3.6 0a1.8 1.8 0 1 0 -3.6 0zM559.7 197.6a1.8 1.8 0 1 0 3.6 0a1.8 1.8 0 1 0 -3.6 0zM561.9 197.6a1.8 1.8 0 1 0 3.6 0a1.8 1.8 0 1 0 -3.6 0zM698.3 197.6a1.8 1.8 0 1 0 3.6 0a1.8 1.8 0 1 0 -3.6 0zM703.2 197.6a1.8 1.8 0 1 0 3.6 0a1.8 1.8 0 1 0 -3.6 0zM707.4 197.6a1.8 1.8 0 1 0 3.6 0a1.8 1.8 0 1 0 -3.6 0zM539.6 204.49a1.8 1.8 0 1 0 3.6 0a1.8 1.8 0 1 0 -3.6 0zM583.7 204.49a1.8 1.8 0 1 0 3.6 0a1.8 1.8 0 1 0 -3.6 0zM682.8 204.49a1.8 1.8 0 1 0 3.6 0a1.8 1.8 0 1 0 -3.6 0zM718 204.49a1.8 1.8 0 1 0 3.6 0a1.8 1.8 0 1 0 -3.6 0zM726.5 204.49a1.8 1.8 0 1 0 3.6 0a1.8 1.8 0 1 0 -3.6 0zM730.2 204.49a1.8 1.8 0 1 0 3.6 0a1.8 1.8 0 1 0 -3.6 0zM539.3 204.49a1.8 1.8 0 1 0 3.6 0a1.8 1.8 0 1 0 -3.6 0zM583.4 204.49a1.8 1.8 0 1 0 3.6 0a1.8 1.8 0 1 0 -3.6 0zM682.3 204.49a1.8 1.8 0 1 0 3.6 0a1.8 1.8 0 1 0 -3.6 0zM718.3 204.49a1.8 1.8 0 1 0 3.6 0a1.8 1.8 0 1 0 -3.6 0zM726.4 204.49a1.8 1.8 0 1 0 3.6 0a1.8 1.8 0 1 0 -3.6 0zM729.8 204.49a1.8 1.8 0 1 0 3.6 0a1.8 1.8 0 1 0 -3.6 0zM446 211.38a1.8 1.8 0 1 0 3.6 0a1.8 1.8 0 1 0 -3.6 0zM549.8 211.38a1.8 1.8 0 1 0 3.6 0a1.8 1.8 0 1 0 -3.6 0zM552.3 211.38a1.8 1.8 0 1 0 3.6 0a1.8 1.8 0 1 0 -3.6 0zM554.7 211.38a1.8 1.8 0 1 0 3.6 0a1.8 1.8 0 1 0 -3.6 0zM655 211.38a1.8 1.8 0 1 0 3.6 0a1.8 1.8 0 1 0 -3.6 0zM736.7 211.38a1.8 1.8 0 1 0 3.6 0a1.8 1.8 0 1 0 -3.6 0zM738.6 211.38a1.8 1.8 0 1 0 3.6 0a1.8 1.8 0 1 0 -3.6 0zM415.9 218.27a1.8 1.8 0 1 0 3.6 0a1.8 1.8 0 1 0 -3.6 0zM435 218.27a1.8 1.8 0 1 0 3.6 0a1.8 1.8 0 1 0 -3.6 0zM520.1 218.27a1.8 1.8 0 1 0 3.6 0a1.8 1.8 0 1 0 -3.6 0zM585.1 218.27a1.8 1.8 0 1 0 3.6 0a1.8 1.8 0 1 0 -3.6 0zM594.9 218.27a1.8 1.8 0 1 0 3.6 0a1.8 1.8 0 1 0 -3.6 0zM464.9 225.16a1.8 1.8 0 1 0 3.6 0a1.8 1.8 0 1 0 -3.6 0zM617.3 225.16a1.8 1.8 0 1 0 3.6 0a1.8 1.8 0 1 0 -3.6 0zM634.9 225.16a1.8 1.8 0 1 0 3.6 0a1.8 1.8 0 1 0 -3.6 0zM641 225.16a1.8 1.8 0 1 0 3.6 0a1.8 1.8 0 1 0 -3.6 0zM674.2 225.16a1.8 1.8 0 1 0 3.6 0a1.8 1.8 0 1 0 -3.6 0zM514.7 232.05a1.8 1.8 0 1 0 3.6 0a1.8 1.8 0 1 0 -3.6 0zM545.4 232.05a1.8 1.8 0 1 0 3.6 0a1.8 1.8 0 1 0 -3.6 0zM442.4 238.94a1.8 1.8 0 1 0 3.6 0a1.8 1.8 0 1 0 -3.6 0zM470.5 238.94a1.8 1.8 0 1 0 3.6 0a1.8 1.8 0 1 0 -3.6 0zM470.6 238.94a1.8 1.8 0 1 0 3.6 0a1.8 1.8 0 1 0 -3.6 0zM515.2 238.94a1.8 1.8 0 1 0 3.6 0a1.8 1.8 0 1 0 -3.6 0zM713.4 238.94a1.8 1.8 0 1 0 3.6 0a1.8 1.8 0 1 0 -3.6 0zM461.9 245.83a1.8 1.8 0 1 0 3.6 0a1.8 1.8 0 1 0 -3.6 0zM544.9 245.83a1.8 1.8 0 1 0 3.6 0a1.8 1.8 0 1 0 -3.6 0zM571.1 245.83a1.8 1.8 0 1 0 3.6 0a1.8 1.8 0 1 0 -3.6 0zM665.5 245.83a1.8 1.8 0 1 0 3.6 0a1.8 1.8 0 1 0 -3.6 0zM665.6 245.83a1.8 1.8 0 1 0 3.6 0a1.8 1.8 0 1 0 -3.6 0zM734.2 245.83a1.8 1.8 0 1 0 3.6 0a1.8 1.8 0 1 0 -3.6 0zM453.4 252.72a1.8 1.8 0 1 0 3.6 0a1.8 1.8 0 1 0 -3.6 0zM555.7 252.72a1.8 1.8 0 1 0 3.6 0a1.8 1.8 0 1 0 -3.6 0zM588.3 252.72a1.8 1.8 0 1 0 3.6 0a1.8 1.8 0 1 0 -3.6 0zM602.5 252.72a1.8 1.8 0 1 0 3.6 0a1.8 1.8 0 1 0 -3.6 0zM601.1 252.72a1.8 1.8 0 1 0 3.6 0a1.8 1.8 0 1 0 -3.6 0zM602.6 252.72a1.8 1.8 0 1 0 3.6 0a1.8 1.8 0 1 0 -3.6 0zM676.7 252.72a1.8 1.8 0 1 0 3.6 0a1.8 1.8 0 1 0 -3.6 0zM678.4 252.72a1.8 1.8 0 1 0 3.6 0a1.8 1.8 0 1 0 -3.6 0zM679.9 252.72a1.8 1.8 0 1 0 3.6 0a1.8 1.8 0 1 0 -3.6 0zM684.7 252.72a1.8 1.8 0 1 0 3.6 0a1.8 1.8 0 1 0 -3.6 0zM705.3 252.72a1.8 1.8 0 1 0 3.6 0a1.8 1.8 0 1 0 -3.6 0zM419.8 259.61a1.8 1.8 0 1 0 3.6 0a1.8 1.8 0 1 0 -3.6 0zM441.9 259.61a1.8 1.8 0 1 0 3.6 0a1.8 1.8 0 1 0 -3.6 0zM507.8 259.61a1.8 1.8 0 1 0 3.6 0a1.8 1.8 0 1 0 -3.6 0zM643.5 259.61a1.8 1.8 0 1 0 3.6 0a1.8 1.8 0 1 0 -3.6 0zM648.4 259.61a1.8 1.8 0 1 0 3.6 0a1.8 1.8 0 1 0 -3.6 0zM679.9 259.61a1.8 1.8 0 1 0 3.6 0a1.8 1.8 0 1 0 -3.6 0zM731.3 259.61a1.8 1.8 0 1 0 3.6 0a1.8 1.8 0 1 0 -3.6 0zM433.1 266.5a1.8 1.8 0 1 0 3.6 0a1.8 1.8 0 1 0 -3.6 0zM440.4 266.5a1.8 1.8 0 1 0 3.6 0a1.8 1.8 0 1 0 -3.6 0zM445.3 266.5a1.8 1.8 0 1 0 3.6 0a1.8 1.8 0 1 0 -3.6 0zM485.8 266.5a1.8 1.8 0 1 0 3.6 0a1.8 1.8 0 1 0 -3.6 0zM510.3 266.5a1.8 1.8 0 1 0 3.6 0a1.8 1.8 0 1 0 -3.6 0zM525 266.5a1.8 1.8 0 1 0 3.6 0a1.8 1.8 0 1 0 -3.6 0zM535.5 266.5a1.8 1.8 0 1 0 3.6 0a1.8 1.8 0 1 0 -3.6 0zM538 266.5a1.8 1.8 0 1 0 3.6 0a1.8 1.8 0 1 0 -3.6 0zM535.2 266.5a1.8 1.8 0 1 0 3.6 0a1.8 1.8 0 1 0 -3.6 0zM537.6 266.5a1.8 1.8 0 1 0 3.6 0a1.8 1.8 0 1 0 -3.6 0zM549.1 266.5a1.8 1.8 0 1 0 3.6 0a1.8 1.8 0 1 0 -3.6 0zM569.9 266.5a1.8 1.8 0 1 0 3.6 0a1.8 1.8 0 1 0 -3.6 0zM580.9 266.5a1.8 1.8 0 1 0 3.6 0a1.8 1.8 0 1 0 -3.6 0zM589 266.5a1.8 1.8 0 1 0 3.6 0a1.8 1.8 0 1 0 -3.6 0zM612.4 266.5a1.8 1.8 0 1 0 3.6 0a1.8 1.8 0 1 0 -3.6 0zM627.6 266.5a1.8 1.8 0 1 0 3.6 0a1.8 1.8 0 1 0 -3.6 0zM630 266.5a1.8 1.8 0 1 0 3.6 0a1.8 1.8 0 1 0 -3.6 0zM636.1 266.5a1.8 1.8 0 1 0 3.6 0a1.8 1.8 0 1 0 -3.6 0zM648.4 266.5a1.8 1.8 0 1 0 3.6 0a1.8 1.8 0 1 0 -3.6 0zM658.9 266.5a1.8 1.8 0 1 0 3.6 0a1.8 1.8 0 1 0 -3.6 0zM665.5 266.5a1.8 1.8 0 1 0 3.6 0a1.8 1.8 0 1 0 -3.6 0zM687.2 266.5a1.8 1.8 0 1 0 3.6 0a1.8 1.8 0 1 0 -3.6 0zM699.4 266.5a1.8 1.8 0 1 0 3.6 0a1.8 1.8 0 1 0 -3.6 0zM706.8 266.5a1.8 1.8 0 1 0 3.6 0a1.8 1.8 0 1 0 -3.6 0zM711.7 266.5a1.8 1.8 0 1 0 3.6 0a1.8 1.8 0 1 0 -3.6 0zM715.8 266.5a1.8 1.8 0 1 0 3.6 0a1.8 1.8 0 1 0 -3.6 0zM722 266.5a1.8 1.8 0 1 0 3.6 0a1.8 1.8 0 1 0 -3.6 0zM724.9 266.5a1.8 1.8 0 1 0 3.6 0a1.8 1.8 0 1 0 -3.6 0zM727.4 266.5a1.8 1.8 0 1 0 3.6 0a1.8 1.8 0 1 0 -3.6 0zM733 266.5a1.8 1.8 0 1 0 3.6 0a1.8 1.8 0 1 0 -3.6 0z" fill="#ff0000" stroke="#a80000" stroke-width="0.5"/>
<path d="M414.45 156.6a1.75 1.75 0 1 0 3.5 0a1.75 1.75 0 1 0 -3.5 0zM416.75 156.6a1.75 1.75 0 1 0 3.5 0a1.75 1.75 0 1 0 -3.5 0zM419.05 156.6a1.75 1.75 0 1 0 3.5 0a1.75 1.75 0 1 0 -3.5 0zM421.35 156.6a1.75 1.75 0 1 0 3.5 0a1.75 1.75 0 1 0 -3.5 0zM423.65 156.6a1.75 1.75 0 1 0 3.5 0a1.75 1.75 0 1 0 -3.5 0zM425.95 156.6a1.75 1.75 0 1 0 3.5 0a1.75 1.75 0 1 0 -3.5 0zM428.25 156.6a1.75 1.75 0 1 0 3.5 0a1.75 1.75 0 1 0 -3.5 0zM430.55 156.6a1.75 1.75 0 1 0 3.5 0a1.75 1.75 0 1 0 -3.5 0zM432.85 156.6a1.75 1.75 0 1 0 3.5 0a1.75 1.75 0 1 0 -3.5 0zM435.15 156.6a1.75 1.75 0 1 0 3.5 0a1.75 1.75 0 1 0 -3.5 0zM437.45 156.6a1.75 1.75 0 1 0 3.5 0a1.75 1.75 0 1 0 -3.5 0zM439.75 156.6a1.75 1.75 0 1 0 3.5 0a1.75 1.75 0 1 0 -3.5 0zM442.05 156.6a1.75 1.75 0 1 0 3.5 0a1.75 1.75 0 1 0 -3.5 0zM444.35 156.6a1.75 1.75 0 1 0 3.5 0a1.75 1.75 0 1 0 -3.5 0zM446.65 156.6a1.75 1.75 0 1 0 3.5 0a1.75 1.75 0 1 0 -3.5 0zM448.95 156.6a1.75 1.75 0 1 0 3.5 0a1.75 1.75 0 1 0 -3.5 0zM451.25 156.6a1.75 1.75 0 1 0 3.5 0a1.75 1.75 0 1 0 -3.5 0zM453.55 156.6a1.75 1.75 0 1 0 3.5 0a1.75 1.75 0 1 0 -3.5 0zM455.85 156.6a1.75 1.75 0 1 0 3.5 0a1.75 1.75 0 1 0 -3.5 0zM458.15 156.6a1.75 1.75 0 1 0 3.5 0a1.75 1.75 0 1 0 -3.5 0zM460.45 156.6a1.75 1.75 0 1 0 3.5 0a1.75 1.75 0 1 0 -3.5 0zM462.75 156.6a1.75 1.75 0 1 0 3.5 0a1.75 1.75 0 1 0 -3.5 0zM465.05 156.6a1.75 1.75 0 1 0 3.5 0a1.75 1.75 0 1 0 -3.5 0zM467.35 156.6a1.75 1.75 0 1 0 3.5 0a1.75 1.75 0 1 0 -3.5 0zM469.65 156.6a1.75 1.75 0 1 0 3.5 0a1.75 1.75 0 1 0 -3.5 0zM471.95 156.6a1.75 1.75 0 1 0 3.5 0a1.75 1.75 0 1 0 -3.5 0zM474.25 156.6a1.75 1.75 0 1 0 3.5 0a1.75 1.75 0 1 0 -3.5 0zM476.55 156.6a1.75 1.75 0 1 0 3.5 0a1.75 1.75 0 1 0 -3.5 0zM478.85 156.6a1.75 1.75 0 1 0 3.5 0a1.75 1.75 0 1 0 -3.5 0zM481.15 156.6a1.75 1.75 0 1 0 3.5 0a1.75 1.75 0 1 0 -3.5 0zM483.45 156.6a1.75 1.75 0 1 0 3.5 0a1.75 1.75 0 1 0 -3.5 0zM485.75 156.6a1.75 1.75 0 1 0 3.5 0a1.75 1.75 0 1 0 -3.5 0zM488.05 156.6a1.75 1.75 0 1 0 3.5 0a1.75 1.75 0 1 0 -3.5 0zM490.35 156.6a1.75 1.75 0 1 0 3.5 0a1.75 1.75 0 1 0 -3.5 0zM492.65 156.6a1.75 1.75 0 1 0 3.5 0a1.75 1.75 0 1 0 -3.5 0zM494.95 156.6a1.75 1.75 0 1 0 3.5 0a1.75 1.75 0 1 0 -3.5 0zM497.25 156.6a1.75 1.75 0 1 0 3.5 0a1.75 1.75 0 1 0 -3.5 0zM499.55 156.6a1.75 1.75 0 1 0 3.5 0a1.75 1.75 0 1 0 -3.5 0zM501.85 156.6a1.75 1.75 0 1 0 3.5 0a1.75 1.75 0 1 0 -3.5 0zM504.15 156.6a1.75 1.75 0 1 0 3.5 0a1.75 1.75 0 1 0 -3.5 0zM506.45 156.6a1.75 1.75 0 1 0 3.5 0a1.75 1.75 0 1 0 -3.5 0zM508.75 156.6a1.75 1.75 0 1 0 3.5 0a1.75 1.75 0 1 0 -3.5 0zM511.05 156.6a1.75 1.75 0 1 0 3.5 0a1.75 1.75 0 1 0 -3.5 0zM513.35 156.6a1.75 1.75 0 1 0 3.5 0a1.75 1.75 0 1 0 -3.5 0zM515.65 156.6a1.75 1.75 0 1 0 3.5 0a1.75 1.75 0 1 0 -3.5 0zM517.95 156.6a1.75 1.75 0 1 0 3.5 0a1.75 1.75 0 1 0 -3.5 0zM520.25 156.6a1.75 1.75 0 1 0 3.5 0a1.75 1.75 0 1 0 -3.5 0zM522.55 156.6a1.75 1.75 0 1 0 3.5 0a1.75 1.75 0 1 0 -3.5 0zM524.85 156.6a1.75 1.75 0 1 0 3.5 0a1.75 1.75 0 1 0 -3.5 0zM527.15 156.6a1.75 1.75 0 1 0 3.5 0a1.75 1.75 0 1 0 -3.5 0zM529.45 156.6a1.75 1.75 0 1 0 3.5 0a1.75 1.75 0 1 0 -3.5 0zM531.75 156.6a1.75 1.75 0 1 0 3.5 0a1.75 1.75 0 1 0 -3.5 0zM534.05 156.6a1.75 1.75 0 1 0 3.5 0a1.75 1.75 0 1 0 -3.5 0zM536.35 156.6a1.75 1.75 0 1 0 3.5 0a1.75 1.75 0 1 0 -3.5 0zM538.65 156.6a1.75 1.75 0 1 0 3.5 0a1.75 1.75 0 1 0 -3.5 0zM540.95 156.6a1.75 1.75 0 1 0 3.5 0a1.75 1.75 0 1 0 -3.5 0zM543.25 156.6a1.75 1.75 0 1 0 3.5 0a1.75 1.75 0 1 0 -3.5 0zM545.55 156.6a1.75 1.75 0 1 0 3.5 0a1.75 1.75 0 1 0 -3.5 0zM547.85 156.6a1.75 1.75 0 1 0 3.5 0a1.75 1.75 0 1 0 -3.5 0zM550.15 156.6a1.75 1.75 0 1 0 3.5 0a1.75 1.75 0 1 0 -3.5 0zM552.45 156.6a1.75 1.75 0 1 0 3.5 0a1.75 1.75 0 1 0 -3.5 0zM554.75 156.6a1.75 1.75 0 1 0 3.5 0a1.75 1.75 0 1 0 -3.5 0zM557.05 156.6a1.75 1.75 0 1 0 3.5 0a1.75 1.75 0 1 0 -3.5 0zM559.35 156.6a1.75 1.75 0 1 0 3.5 0a1.75 1.75 0 1 0 -3.5 0zM561.65 156.6a1.75 1.75 0 1 0 3.5 0a1.75 1.75 0 1 0 -3.5 0zM563.95 156.6a1.75 1.75 0 1 0 3.5 0a1.75 1.75 0 1 0 -3.5 0zM566.25 156.6a1.75 1.75 0 1 0 3.5 0a1.75 1.75 0 1 0 -3.5 0zM568.55 156.6a1.75 1.75 0 1 0 3.5 0a1.75 1.75 0 1 0 -3.5 0zM570.85 156.6a1.75 1.75 0 1 0 3.5 0a1.75 1.75 0 1 0 -3.5 0zM573.15 156.6a1.75 1.75 0 1 0 3.5 0a1.75 1.75 0 1 0 -3.5 0zM575.45 156.6a1.75 1.75 0 1 0 3.5 0a1.75 1.75 0 1 0 -3.5 0zM577.75 156.6a1.75 1.75 0 1 0 3.5 0a1.75 1.75 0 1 0 -3.5 0zM580.05 156.6a1.75 1.75 0 1 0 3.5 0a1.75 1.75 0 1 0 -3.5 0zM582.35 156.6a1.75 1.75 0 1 0 3.5 0a1.75 1.75 0 1 0 -3.5 0zM584.65 156.6a1.75 1.75 0 1 0 3.5 0a1.75 1.75 0 1 0 -3.5 0zM586.95 156.6a1.75 1.75 0 1 0 3.5 0a1.75 1.75 0 1 0 -3.5 0zM589.25 156.6a1.75 1.75 0 1 0 3.5 0a1.75 1.75 0 1 0 -3.5 0zM591.55 156.6a1.75 1.75 0 1 0 3.5 0a1.75 1.75 0 1 0 -3.5 0zM593.85 156.6a1.75 1.75 0 1 0 3.5 0a1.75 1.75 0 1 0 -3.5 0zM596.15 156.6a1.75 1.75 0 1 0 3.5 0a1.75 1.75 0 1 0 -3.5 0zM598.45 156.6a1.75 1.75 0 1 0 3.5 0a1.75 1.75 0 1 0 -3.5 0zM600.75 156.6a1.75 1.75 0 1 0 3.5 0a1.75 1.75 0 1 0 -3.5 0zM603.05 156.6a1.75 1.75 0 1 0 3.5 0a1.75 1.75 0 1 0 -3.5 0zM605.35 156.6a1.75 1.75 0 1 0 3.5 0a1.75 1.75 0 1 0 -3.5 0zM607.65 156.6a1.75 1.75 0 1 0 3.5 0a1.75 1.75 0 1 0 -3.5 0zM609.95 156.6a1.75 1.75 0 1 0 3.5 0a1.75 1.75 0 1 0 -3.5 0zM612.25 156.6a1.75 1.75 0 1 0 3.5 0a1.75 1.75 0 1 0 -3.5 0zM614.55 156.6a1.75 1.75 0 1 0 3.5 0a1.75 1.75 0 1 0 -3.5 0zM616.85 156.6a1.75 1.75 0 1 0 3.5 0a1.75 1.75 0 1 0 -3.5 0zM619.15 156.6a1.75 1.75 0 1 0 3.5 0a1.75 1.75 0 1 0 -3.5 0zM621.45 156.6a1.75 1.75 0 1 0 3.5 0a1.75 1.75 0 1 0 -3.5 0zM623.75 156.6a1.75 1.75 0 1 0 3.5 0a1.75 1.75 0 1 0 -3.5 0zM626.05 156.6a1.75 1.75 0 1 0 3.5 0a1.75 1.75 0 1 0 -3.5 0zM628.35 156.6a1.75 1.75 0 1 0 3.5 0a1.75 1.75 0 1 0 -3.5 0zM630.65 156.6a1.75 1.75 0 1 0 3.5 0a1.75 1.75 0 1 0 -3.5 0zM632.95 156.6a1.75 1.75 0 1 0 3.5 0a1.75 1.75 0 1 0 -3.5 0zM635.25 156.6a1.75 1.75 0 1 0 3.5 0a1.75 1.75 0 1 0 -3.5 0zM637.55 156.6a1.75 1.75 0 1 0 3.5 0a1.75 1.75 0 1 0 -3.5 0zM639.85 156.6a1.75 1.75 0 1 0 3.5 0a1.75 1.75 0 1 0 -3.5 0zM642.15 156.6a1.75 1.75 0 1 0 3.5 0a1.75 1.75 0 1 0 -3.5 0zM644.45 156.6a1.75 1.75 0 1 0 3.5 0a1.75 1.75 0 1 0 -3.5 0zM646.75 156.6a1.75 1.75 0 1 0 3.5 0a1.75 1.75 0 1 0 -3.5 0zM649.05 156.6a1.75 1.75 0 1 0 3.5 0a1.75 1.75 0 1 0 -3.5 0zM651.35 156.6a1.75 1.75 0 1 0 3.5 0a1.75 1.75 0 1 0 -3.5 0zM653.65 156.6a1.75 1.75 0 1 0 3.5 0a1.75 1.75 0 1 0 -3.5 0zM655.95 156.6a1.75 1.75 0 1 0 3.5 0a1.75 1.75 0 1 0 -3.5 0zM658.25 156.6a1.75 1.75 0 1 0 3.5 0a1.75 1.75 0 1 0 -3.5 0zM660.55 156.6a1.75 1.75 0 1 0 3.5 0a1.75 1.75 0 1 0 -3.5 0zM662.85 156.6a1.75 1.75 0 1 0 3.5 0a1.75 1.75 0 1 0 -3.5 0zM665.15 156.6a1.75 1.75 0 1 0 3.5 0a1.75 1.75 0 1 0 -3.5 0zM667.45 156.6a1.75 1.75 0 1 0 3.5 0a1.75 1.75 0 1 0 -3.5 0zM669.75 156.6a1.75 1.75 0 1 0 3.5 0a1.75 1.75 0 1 0 -3.5 0zM672.05 156.6a1.75 1.75 0 1 0 3.5 0a1.75 1.75 0 1 0 -3.5 0zM674.35 156.6a1.75 1.75 0 1 0 3.5 0a1.75 1.75 0 1 0 -3.5 0zM676.65 156.6a1.75 1.75 0 1 0 3.5 0a1.75 1.75 0 1 0 -3.5 0zM678.95 156.6a1.75 1.75 0 1 0 3.5 0a1.75 1.75 0 1 0 -3.5 0zM681.25 156.6a1.75 1.75 0 1 0 3.5 0a1.75 1.75 0 1 0 -3.5 0zM683.55 156.6a1.75 1.75 0 1 0 3.5 0a1.75 1.75 0 1 0 -3.5 0zM685.85 156.6a1.75 1.75 0 1 0 3.5 0a1.75 1.75 0 1 0 -3.5 0zM688.15 156.6a1.75 1.75 0 1 0 3.5 0a1.75 1.75 0 1 0 -3.5 0zM690.45 156.6a1.75 1.75 0 1 0 3.5 0a1.75 1.75 0 1 0 -3.5 0zM692.75 156.6a1.75 1.75 0 1 0 3.5 0a1.75 1.75 0 1 0 -3.5 0zM695.05 156.6a1.75 1.75 0 1 0 3.5 0a1.75 1.75 0 1 0 -3.5 0zM697.35 156.6a1.75 1.75 0 1 0 3.5 0a1.75 1.75 0 1 0 -3.5 0zM699.65 156.6a1.75 1.75 0 1 0 3.5 0a1.75 1.75 0 1 0 -3.5 0zM701.95 156.6a1.75 1.75 0 1 0 3.5 0a1.75 1.75 0 1 0 -3.5 0zM704.25 156.6a1.75 1.75 0 1 0 3.5 0a1.75 1.75 0 1 0 -3.5 0zM706.55 156.6a1.75 1.75 0 1 0 3.5 0a1.75 1.75 0 1 0 -3.5 0zM708.85 156.6a1.75 1.75 0 1 0 3.5 0a1.75 1.75 0 1 0 -3.5 0zM711.15 156.6a1.75 1.75 0 1 0 3.5 0a1.75 1.75 0 1 0 -3.5 0zM713.45 156.6a1.75 1.75 0 1 0 3.5 0a1.75 1.75 0 1 0 -3.5 0zM715.75 156.6a1.75 1.75 0 1 0 3.5 0a1.75 1.75 0 1 0 -3.5 0zM718.05 156.6a1.75 1.75 0 1 0 3.5 0a1.75 1.75 0 1 0 -3.5 0zM720.35 156.6a1.75 1.75 0 1 0 3.5 0a1.75 1.75 0 1 0 -3.5 0zM722.65 156.6a1.75 1.75 0 1 0 3.5 0a1.75 1.75 0 1 0 -3.5 0zM724.95 156.6a1.75 1.75 0 1 0 3.5 0a1.75 1.75 0 1 0 -3.5 0zM727.25 156.6a1.75 1.75 0 1 0 3.5 0a1.75 1.75 0 1 0 -3.5 0zM729.55 156.6a1.75 1.75 0 1 0 3.5 0a1.75 1.75 0 1 0 -3.5 0zM731.85 156.6a1.75 1.75 0 1 0 3.5 0a1.75 1.75 0 1 0 -3.5 0zM734.15 156.6a1.75 1.75 0 1 0 3.5 0a1.75 1.75 0 1 0 -3.5 0zM736.45 156.6a1.75 1.75 0 1 0 3.5 0a1.75 1.75 0 1 0 -3.5 0zM738.75 156.6a1.75 1.75 0 1 0 3.5 0a1.75 1.75 0 1 0 -3.5 0zM741.05 156.6a1.75 1.75 0 1 0 3.5 0a1.75 1.75 0 1 0 -3.5 0zM743.35 156.6a1.75 1.75 0 1 0 3.5 0a1.75 1.75 0 1 0 -3.5 0zM745.65 156.6a1.75 1.75 0 1 0 3.5 0a1.75 1.75 0 1 0 -3.5 0zM747.95 156.6a1.75 1.75 0 1 0 3.5 0a1.75 1.75 0 1 0 -3.5 0z" fill="#ff0000" stroke="#900000" stroke-width="0.5"/>
<text x="416.3" y="13.4" font-size="13.7" fill="#000">Layer from Block 1</text>
<text x="625.2" y="11.8" font-size="13.7" fill="#000">Layer from Block 3</text>
<text x="520.2" y="145" font-size="13.7" fill="#000">Layer from Block 4</text>
<text x="442" y="137.8" font-size="10.3" fill="#000">Channel Index</text>
<text x="657.1" y="136.7" font-size="10.3" fill="#000">Channel Index</text>
<text x="560.8" y="283.4" font-size="10.3" fill="#000">Channel Index</text>
<text transform="translate(385.3,67.8) rotate(-90)" font-size="10.3" text-anchor="middle" fill="#000">Non-zero Density</text>
<text transform="translate(386.2,206.5) rotate(-90)" font-size="10.3" text-anchor="middle" fill="#000">Non-zero Density</text>
<text x="584.6" y="299.3" font-size="15.6" fill="#000">(b)</text>
<text x="398.3" y="27.05" font-size="8.8" text-anchor="middle" fill="#000">1.0</text>
<text x="398.3" y="45.35" font-size="8.8" text-anchor="middle" fill="#000">0.8</text>
<text x="398.3" y="63.9" font-size="8.8" text-anchor="middle" fill="#000">0.6</text>
<text x="398.3" y="83.8" font-size="8.8" text-anchor="middle" fill="#000">0.4</text>
<text x="398.3" y="104.9" font-size="8.8" text-anchor="middle" fill="#000">0.2</text>
<text x="398.3" y="124.3" font-size="8.8" text-anchor="middle" fill="#000">0</text>
<text x="571.1" y="26.5" font-size="8.8" text-anchor="middle" fill="#000">1.0</text>
<text x="571.1" y="45.2" font-size="8.8" text-anchor="middle" fill="#000">0.8</text>
<text x="571.1" y="63.8" font-size="8.8" text-anchor="middle" fill="#000">0.6</text>
<text x="571.1" y="85" font-size="8.8" text-anchor="middle" fill="#000">0.4</text>
<text x="571.1" y="104.7" font-size="8.8" text-anchor="middle" fill="#000">0.2</text>
<text x="571.1" y="123.8" font-size="8.8" text-anchor="middle" fill="#000">0</text>
<text x="397.8" y="158.7" font-size="8.8" text-anchor="middle" fill="#000">1.0</text>
<text x="397.8" y="180" font-size="8.8" text-anchor="middle" fill="#000">0.8</text>
<text x="397.8" y="200.7" font-size="8.8" text-anchor="middle" fill="#000">0.6</text>
<text x="397.8" y="224.5" font-size="8.8" text-anchor="middle" fill="#000">0.4</text>
<text x="397.8" y="247.1" font-size="8.8" text-anchor="middle" fill="#000">0.2</text>
<text x="397.8" y="269.4" font-size="8.8" text-anchor="middle" fill="#000">0</text>
<rect x="542.6" y="89.4" width="5.9" height="10" fill="#ff0000"/>
<rect x="550.9" y="89.4" width="5.6" height="10" fill="#2e2ea0"/>
<text transform="translate(543.5,103.4) rotate(90)" font-size="8.5" font-weight="bold" fill="#000">OOD</text>
<text transform="translate(551,103.4) rotate(90)" font-size="8.5" font-weight="bold" fill="#000">ID</text>
<rect x="807" y="40.1" width="5.5" height="10.3" fill="#ff0000"/>
<rect x="814.9" y="40.1" width="6" height="10.3" fill="#2e2ea0"/>
<text transform="translate(807.3,54.3) rotate(90)" font-size="8.5" font-weight="bold" fill="#000">OOD</text>
<text transform="translate(815.3,54.3) rotate(90)" font-size="8.5" font-weight="bold" fill="#000">ID</text>
<rect x="799.4" y="185.5" width="5.9" height="9.5" fill="#ff0000"/>
<rect x="807.6" y="185.5" width="5.4" height="9.5" fill="#2e2ea0"/>
<text transform="translate(799.4,200) rotate(90)" font-size="8.5" font-weight="bold" fill="#000">OOD</text>
<text transform="translate(808,200) rotate(90)" font-size="8.5" font-weight="bold" fill="#000">ID</text>
</svg>
</body></html>
